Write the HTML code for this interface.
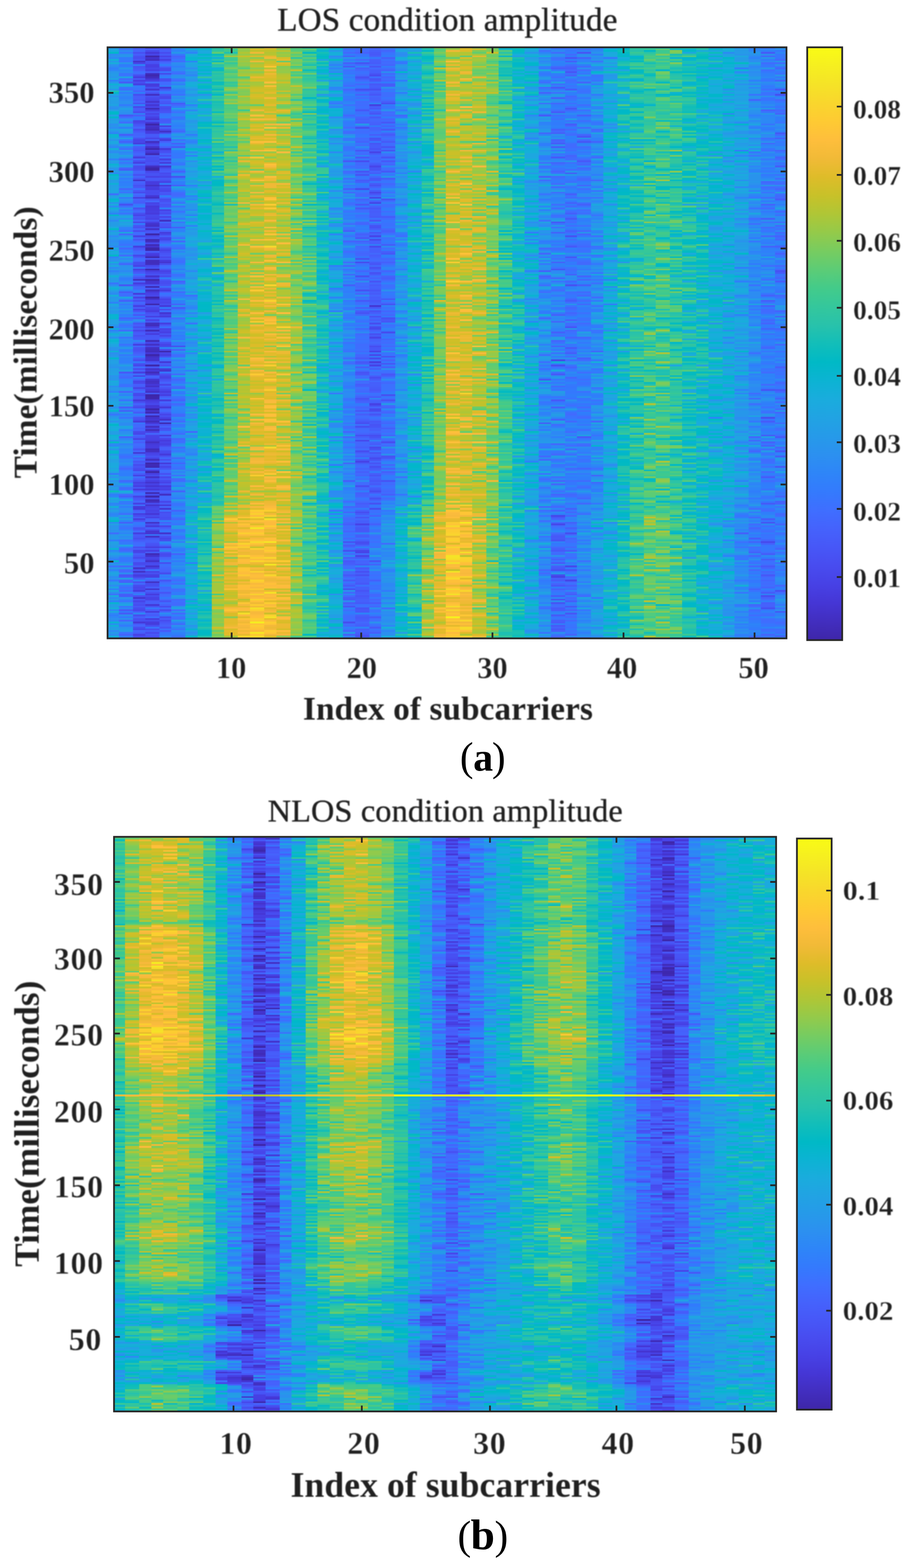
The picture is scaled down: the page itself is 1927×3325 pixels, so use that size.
<!DOCTYPE html>
<html lang="en"><head><meta charset="utf-8"><title>CSI amplitude: LOS and NLOS conditions</title>
<style>
html,body{margin:0;padding:0;background:#fff}
body{width:1927px;height:3325px;overflow:hidden}
svg{display:block}
text{font-family:"Liberation Serif",serif;fill:#202020;filter:blur(0.8px)}
.cap{fill:#000;filter:none}
</style></head><body>
<svg width="1927" height="3325" viewBox="0 0 1927 3325">
<defs>
<linearGradient id="cb" x1="0" y1="0" x2="0" y2="1"><stop offset="0.0000" stop-color="#f9fb15"/><stop offset="0.0312" stop-color="#f6ef20"/><stop offset="0.0625" stop-color="#f5e327"/><stop offset="0.0938" stop-color="#f9d62d"/><stop offset="0.1250" stop-color="#feca33"/><stop offset="0.1562" stop-color="#febe3c"/><stop offset="0.1875" stop-color="#f1ba37"/><stop offset="0.2188" stop-color="#debc29"/><stop offset="0.2500" stop-color="#c8c129"/><stop offset="0.2812" stop-color="#afc636"/><stop offset="0.3125" stop-color="#94ca4a"/><stop offset="0.3438" stop-color="#77cc60"/><stop offset="0.3750" stop-color="#5ccc76"/><stop offset="0.4062" stop-color="#43cb8a"/><stop offset="0.4375" stop-color="#34c79c"/><stop offset="0.4688" stop-color="#28c2ab"/><stop offset="0.5000" stop-color="#12beb9"/><stop offset="0.5312" stop-color="#00b9c6"/><stop offset="0.5625" stop-color="#0cb3d3"/><stop offset="0.5938" stop-color="#1aacdd"/><stop offset="0.6250" stop-color="#21a3e3"/><stop offset="0.6562" stop-color="#269ae9"/><stop offset="0.6875" stop-color="#2c90f0"/><stop offset="0.7188" stop-color="#2e85f8"/><stop offset="0.7500" stop-color="#347afd"/><stop offset="0.7812" stop-color="#3f6eff"/><stop offset="0.8125" stop-color="#4562fc"/><stop offset="0.8438" stop-color="#4757f7"/><stop offset="0.8750" stop-color="#484cef"/><stop offset="0.9062" stop-color="#4741e5"/><stop offset="0.9375" stop-color="#4536d5"/><stop offset="0.9688" stop-color="#422ebf"/><stop offset="1.0000" stop-color="#3e26a8"/></linearGradient>
<linearGradient id="a0" gradientUnits="userSpaceOnUse" x1="0" y1="99" x2="0" y2="1355"><stop offset=".0008" stop-color="#00005e"/><stop offset=".1282" stop-color="#00005e"/><stop offset=".3750" stop-color="#00005c"/><stop offset=".6218" stop-color="#00005c"/><stop offset=".7651" stop-color="#00005c"/><stop offset=".7970" stop-color="#000057"/><stop offset=".8766" stop-color="#000057"/><stop offset=".9992" stop-color="#000057"/></linearGradient>
<linearGradient id="a1" gradientUnits="userSpaceOnUse" x1="0" y1="99" x2="0" y2="1355"><stop offset=".0008" stop-color="#00004a"/><stop offset=".1282" stop-color="#00004a"/><stop offset=".3750" stop-color="#00004a"/><stop offset=".6218" stop-color="#00004a"/><stop offset=".7651" stop-color="#00004a"/><stop offset=".7970" stop-color="#000040"/><stop offset=".8766" stop-color="#000040"/><stop offset=".9992" stop-color="#000040"/></linearGradient>
<linearGradient id="a2" gradientUnits="userSpaceOnUse" x1="0" y1="99" x2="0" y2="1355"><stop offset=".0008" stop-color="#00002b"/><stop offset=".1282" stop-color="#00002b"/><stop offset=".3750" stop-color="#00002b"/><stop offset=".6218" stop-color="#00002b"/><stop offset=".7651" stop-color="#00002b"/><stop offset=".7970" stop-color="#000026"/><stop offset=".8766" stop-color="#000026"/><stop offset=".9992" stop-color="#000026"/></linearGradient>
<linearGradient id="a3" gradientUnits="userSpaceOnUse" x1="0" y1="99" x2="0" y2="1355"><stop offset=".0008" stop-color="#000017"/><stop offset=".1282" stop-color="#000017"/><stop offset=".3750" stop-color="#000014"/><stop offset=".6218" stop-color="#000014"/><stop offset=".7651" stop-color="#000014"/><stop offset=".7970" stop-color="#00001f"/><stop offset=".8766" stop-color="#00001f"/><stop offset=".9992" stop-color="#00001f"/></linearGradient>
<linearGradient id="a4" gradientUnits="userSpaceOnUse" x1="0" y1="99" x2="0" y2="1355"><stop offset=".0008" stop-color="#000029"/><stop offset=".1282" stop-color="#000029"/><stop offset=".3750" stop-color="#000026"/><stop offset=".6218" stop-color="#000024"/><stop offset=".7651" stop-color="#000024"/><stop offset=".7970" stop-color="#000033"/><stop offset=".8766" stop-color="#000033"/><stop offset=".9992" stop-color="#000033"/></linearGradient>
<linearGradient id="a5" gradientUnits="userSpaceOnUse" x1="0" y1="99" x2="0" y2="1355"><stop offset=".0008" stop-color="#000045"/><stop offset=".1282" stop-color="#000045"/><stop offset=".3750" stop-color="#000045"/><stop offset=".6218" stop-color="#000045"/><stop offset=".7651" stop-color="#000045"/><stop offset=".7970" stop-color="#000047"/><stop offset=".8766" stop-color="#000047"/><stop offset=".9992" stop-color="#000047"/></linearGradient>
<linearGradient id="a6" gradientUnits="userSpaceOnUse" x1="0" y1="99" x2="0" y2="1355"><stop offset=".0008" stop-color="#00005c"/><stop offset=".1282" stop-color="#00005c"/><stop offset=".3750" stop-color="#00005c"/><stop offset=".6218" stop-color="#00005c"/><stop offset=".7651" stop-color="#00005c"/><stop offset=".7970" stop-color="#000066"/><stop offset=".8766" stop-color="#000066"/><stop offset=".9992" stop-color="#000066"/></linearGradient>
<linearGradient id="a7" gradientUnits="userSpaceOnUse" x1="0" y1="99" x2="0" y2="1355"><stop offset=".0008" stop-color="#000070"/><stop offset=".1282" stop-color="#000070"/><stop offset=".3750" stop-color="#000070"/><stop offset=".6218" stop-color="#000070"/><stop offset=".7651" stop-color="#000070"/><stop offset=".7970" stop-color="#000080"/><stop offset=".8766" stop-color="#000080"/><stop offset=".9992" stop-color="#000080"/></linearGradient>
<linearGradient id="a8" gradientUnits="userSpaceOnUse" x1="0" y1="99" x2="0" y2="1355"><stop offset=".0008" stop-color="#000085"/><stop offset=".1282" stop-color="#000085"/><stop offset=".3750" stop-color="#000085"/><stop offset=".6218" stop-color="#000087"/><stop offset=".7651" stop-color="#000087"/><stop offset=".7970" stop-color="#0000ad"/><stop offset=".8766" stop-color="#0000ad"/><stop offset=".9992" stop-color="#0000ad"/></linearGradient>
<linearGradient id="a9" gradientUnits="userSpaceOnUse" x1="0" y1="99" x2="0" y2="1355"><stop offset=".0008" stop-color="#00009c"/><stop offset=".1282" stop-color="#00009c"/><stop offset=".3750" stop-color="#0000a1"/><stop offset=".6218" stop-color="#0000a3"/><stop offset=".7651" stop-color="#0000a3"/><stop offset=".7970" stop-color="#0000c7"/><stop offset=".8766" stop-color="#0000c7"/><stop offset=".9992" stop-color="#0000c7"/></linearGradient>
<linearGradient id="a10" gradientUnits="userSpaceOnUse" x1="0" y1="99" x2="0" y2="1355"><stop offset=".0008" stop-color="#0000b0"/><stop offset=".1282" stop-color="#0000b0"/><stop offset=".3750" stop-color="#0000b8"/><stop offset=".6218" stop-color="#0000ba"/><stop offset=".7651" stop-color="#0000ba"/><stop offset=".7970" stop-color="#0000d4"/><stop offset=".8766" stop-color="#0000d4"/><stop offset=".9992" stop-color="#0000d4"/></linearGradient>
<linearGradient id="a11" gradientUnits="userSpaceOnUse" x1="0" y1="99" x2="0" y2="1355"><stop offset=".0008" stop-color="#0000bd"/><stop offset=".1282" stop-color="#0000bd"/><stop offset=".3750" stop-color="#0000c4"/><stop offset=".6218" stop-color="#0000c7"/><stop offset=".7651" stop-color="#0000c7"/><stop offset=".7970" stop-color="#0000d9"/><stop offset=".8766" stop-color="#0000d9"/><stop offset=".9992" stop-color="#0000d9"/></linearGradient>
<linearGradient id="a12" gradientUnits="userSpaceOnUse" x1="0" y1="99" x2="0" y2="1355"><stop offset=".0008" stop-color="#0000c4"/><stop offset=".1282" stop-color="#0000c4"/><stop offset=".3750" stop-color="#0000c9"/><stop offset=".6218" stop-color="#0000cc"/><stop offset=".7651" stop-color="#0000cc"/><stop offset=".7970" stop-color="#0000d6"/><stop offset=".8766" stop-color="#0000d6"/><stop offset=".9992" stop-color="#0000d6"/></linearGradient>
<linearGradient id="a13" gradientUnits="userSpaceOnUse" x1="0" y1="99" x2="0" y2="1355"><stop offset=".0008" stop-color="#0000b8"/><stop offset=".1282" stop-color="#0000b8"/><stop offset=".3750" stop-color="#0000bf"/><stop offset=".6218" stop-color="#0000c2"/><stop offset=".7651" stop-color="#0000c2"/><stop offset=".7970" stop-color="#0000c9"/><stop offset=".8766" stop-color="#0000c9"/><stop offset=".9992" stop-color="#0000c9"/></linearGradient>
<linearGradient id="a14" gradientUnits="userSpaceOnUse" x1="0" y1="99" x2="0" y2="1355"><stop offset=".0008" stop-color="#0000a6"/><stop offset=".1282" stop-color="#0000a6"/><stop offset=".3750" stop-color="#0000ad"/><stop offset=".6218" stop-color="#0000ad"/><stop offset=".7651" stop-color="#0000ad"/><stop offset=".7970" stop-color="#0000b0"/><stop offset=".8766" stop-color="#0000b0"/><stop offset=".9992" stop-color="#0000b0"/></linearGradient>
<linearGradient id="a15" gradientUnits="userSpaceOnUse" x1="0" y1="99" x2="0" y2="1355"><stop offset=".0008" stop-color="#000091"/><stop offset=".1282" stop-color="#000091"/><stop offset=".3750" stop-color="#000099"/><stop offset=".6218" stop-color="#000099"/><stop offset=".7651" stop-color="#000099"/><stop offset=".7970" stop-color="#000096"/><stop offset=".8766" stop-color="#000096"/><stop offset=".9992" stop-color="#000096"/></linearGradient>
<linearGradient id="a16" gradientUnits="userSpaceOnUse" x1="0" y1="99" x2="0" y2="1355"><stop offset=".0008" stop-color="#00007a"/><stop offset=".1282" stop-color="#00007a"/><stop offset=".3750" stop-color="#000080"/><stop offset=".6218" stop-color="#000080"/><stop offset=".7651" stop-color="#000080"/><stop offset=".7970" stop-color="#000080"/><stop offset=".8766" stop-color="#000080"/><stop offset=".9992" stop-color="#000080"/></linearGradient>
<linearGradient id="a17" gradientUnits="userSpaceOnUse" x1="0" y1="99" x2="0" y2="1355"><stop offset=".0008" stop-color="#000061"/><stop offset=".1282" stop-color="#000061"/><stop offset=".3750" stop-color="#000061"/><stop offset=".6218" stop-color="#000061"/><stop offset=".7651" stop-color="#000061"/><stop offset=".7970" stop-color="#000066"/><stop offset=".8766" stop-color="#000066"/><stop offset=".9992" stop-color="#000066"/></linearGradient>
<linearGradient id="a18" gradientUnits="userSpaceOnUse" x1="0" y1="99" x2="0" y2="1355"><stop offset=".0008" stop-color="#000042"/><stop offset=".1282" stop-color="#000042"/><stop offset=".3750" stop-color="#000045"/><stop offset=".6218" stop-color="#000045"/><stop offset=".7651" stop-color="#000045"/><stop offset=".7970" stop-color="#000038"/><stop offset=".8766" stop-color="#000038"/><stop offset=".9992" stop-color="#000038"/></linearGradient>
<linearGradient id="a19" gradientUnits="userSpaceOnUse" x1="0" y1="99" x2="0" y2="1355"><stop offset=".0008" stop-color="#000038"/><stop offset=".1282" stop-color="#000038"/><stop offset=".3750" stop-color="#000038"/><stop offset=".6218" stop-color="#000036"/><stop offset=".7651" stop-color="#000036"/><stop offset=".7970" stop-color="#00002e"/><stop offset=".8766" stop-color="#00002e"/><stop offset=".9992" stop-color="#00002e"/></linearGradient>
<linearGradient id="a20" gradientUnits="userSpaceOnUse" x1="0" y1="99" x2="0" y2="1355"><stop offset=".0008" stop-color="#00002e"/><stop offset=".1282" stop-color="#00002e"/><stop offset=".3750" stop-color="#00002e"/><stop offset=".6218" stop-color="#00002e"/><stop offset=".7651" stop-color="#00002e"/><stop offset=".7970" stop-color="#00003d"/><stop offset=".8766" stop-color="#00003d"/><stop offset=".9992" stop-color="#00003d"/></linearGradient>
<linearGradient id="a21" gradientUnits="userSpaceOnUse" x1="0" y1="99" x2="0" y2="1355"><stop offset=".0008" stop-color="#000038"/><stop offset=".1282" stop-color="#000038"/><stop offset=".3750" stop-color="#00003b"/><stop offset=".6218" stop-color="#00003b"/><stop offset=".7651" stop-color="#00003b"/><stop offset=".7970" stop-color="#000052"/><stop offset=".8766" stop-color="#000052"/><stop offset=".9992" stop-color="#000052"/></linearGradient>
<linearGradient id="a22" gradientUnits="userSpaceOnUse" x1="0" y1="99" x2="0" y2="1355"><stop offset=".0008" stop-color="#000054"/><stop offset=".1282" stop-color="#000054"/><stop offset=".3750" stop-color="#000054"/><stop offset=".6218" stop-color="#000057"/><stop offset=".7651" stop-color="#000057"/><stop offset=".7970" stop-color="#000070"/><stop offset=".8766" stop-color="#000070"/><stop offset=".9992" stop-color="#000070"/></linearGradient>
<linearGradient id="a23" gradientUnits="userSpaceOnUse" x1="0" y1="99" x2="0" y2="1355"><stop offset=".0008" stop-color="#00006b"/><stop offset=".1282" stop-color="#00006b"/><stop offset=".3750" stop-color="#00006b"/><stop offset=".6218" stop-color="#00006e"/><stop offset=".7651" stop-color="#00006e"/><stop offset=".7970" stop-color="#00008a"/><stop offset=".8766" stop-color="#00008a"/><stop offset=".9992" stop-color="#00008a"/></linearGradient>
<linearGradient id="a24" gradientUnits="userSpaceOnUse" x1="0" y1="99" x2="0" y2="1355"><stop offset=".0008" stop-color="#000080"/><stop offset=".1282" stop-color="#000080"/><stop offset=".3750" stop-color="#000085"/><stop offset=".6218" stop-color="#000087"/><stop offset=".7651" stop-color="#000087"/><stop offset=".7970" stop-color="#0000ad"/><stop offset=".8766" stop-color="#0000ad"/><stop offset=".9992" stop-color="#0000ad"/></linearGradient>
<linearGradient id="a25" gradientUnits="userSpaceOnUse" x1="0" y1="99" x2="0" y2="1355"><stop offset=".0008" stop-color="#0000a1"/><stop offset=".1282" stop-color="#0000a1"/><stop offset=".3750" stop-color="#0000a8"/><stop offset=".6218" stop-color="#0000ab"/><stop offset=".7651" stop-color="#0000ab"/><stop offset=".7970" stop-color="#0000c7"/><stop offset=".8766" stop-color="#0000c7"/><stop offset=".9992" stop-color="#0000c7"/></linearGradient>
<linearGradient id="a26" gradientUnits="userSpaceOnUse" x1="0" y1="99" x2="0" y2="1355"><stop offset=".0008" stop-color="#0000bf"/><stop offset=".1282" stop-color="#0000bf"/><stop offset=".3750" stop-color="#0000c4"/><stop offset=".6218" stop-color="#0000c7"/><stop offset=".7651" stop-color="#0000c7"/><stop offset=".7970" stop-color="#0000db"/><stop offset=".8766" stop-color="#0000db"/><stop offset=".9992" stop-color="#0000db"/></linearGradient>
<linearGradient id="a27" gradientUnits="userSpaceOnUse" x1="0" y1="99" x2="0" y2="1355"><stop offset=".0008" stop-color="#0000bd"/><stop offset=".1282" stop-color="#0000bd"/><stop offset=".3750" stop-color="#0000c2"/><stop offset=".6218" stop-color="#0000c4"/><stop offset=".7651" stop-color="#0000c4"/><stop offset=".7970" stop-color="#0000d4"/><stop offset=".8766" stop-color="#0000d4"/><stop offset=".9992" stop-color="#0000d4"/></linearGradient>
<linearGradient id="a28" gradientUnits="userSpaceOnUse" x1="0" y1="99" x2="0" y2="1355"><stop offset=".0008" stop-color="#0000b5"/><stop offset=".1282" stop-color="#0000b5"/><stop offset=".3750" stop-color="#0000ba"/><stop offset=".6218" stop-color="#0000ba"/><stop offset=".7651" stop-color="#0000ba"/><stop offset=".7970" stop-color="#0000bd"/><stop offset=".8766" stop-color="#0000bd"/><stop offset=".9992" stop-color="#0000bd"/></linearGradient>
<linearGradient id="a29" gradientUnits="userSpaceOnUse" x1="0" y1="99" x2="0" y2="1355"><stop offset=".0008" stop-color="#0000a6"/><stop offset=".1282" stop-color="#0000a6"/><stop offset=".3750" stop-color="#0000ab"/><stop offset=".6218" stop-color="#0000a8"/><stop offset=".7651" stop-color="#0000a8"/><stop offset=".7970" stop-color="#0000a3"/><stop offset=".8766" stop-color="#0000a3"/><stop offset=".9992" stop-color="#0000a3"/></linearGradient>
<linearGradient id="a30" gradientUnits="userSpaceOnUse" x1="0" y1="99" x2="0" y2="1355"><stop offset=".0008" stop-color="#00008c"/><stop offset=".1282" stop-color="#00008c"/><stop offset=".3750" stop-color="#000091"/><stop offset=".6218" stop-color="#000091"/><stop offset=".7651" stop-color="#000091"/><stop offset=".7970" stop-color="#00008c"/><stop offset=".8766" stop-color="#00008c"/><stop offset=".9992" stop-color="#00008c"/></linearGradient>
<linearGradient id="a31" gradientUnits="userSpaceOnUse" x1="0" y1="99" x2="0" y2="1355"><stop offset=".0008" stop-color="#00007a"/><stop offset=".1282" stop-color="#00007a"/><stop offset=".3750" stop-color="#00007a"/><stop offset=".6218" stop-color="#00007a"/><stop offset=".7651" stop-color="#00007a"/><stop offset=".7970" stop-color="#000078"/><stop offset=".8766" stop-color="#000078"/><stop offset=".9992" stop-color="#000078"/></linearGradient>
<linearGradient id="a32" gradientUnits="userSpaceOnUse" x1="0" y1="99" x2="0" y2="1355"><stop offset=".0008" stop-color="#000066"/><stop offset=".1282" stop-color="#000066"/><stop offset=".3750" stop-color="#000066"/><stop offset=".6218" stop-color="#000066"/><stop offset=".7651" stop-color="#000066"/><stop offset=".7970" stop-color="#000066"/><stop offset=".8766" stop-color="#000066"/><stop offset=".9992" stop-color="#000066"/></linearGradient>
<linearGradient id="a33" gradientUnits="userSpaceOnUse" x1="0" y1="99" x2="0" y2="1355"><stop offset=".0008" stop-color="#00004f"/><stop offset=".1282" stop-color="#00004f"/><stop offset=".3750" stop-color="#00004f"/><stop offset=".6218" stop-color="#00004f"/><stop offset=".7651" stop-color="#00004f"/><stop offset=".7970" stop-color="#00004c"/><stop offset=".8766" stop-color="#00004c"/><stop offset=".9992" stop-color="#00004c"/></linearGradient>
<linearGradient id="a34" gradientUnits="userSpaceOnUse" x1="0" y1="99" x2="0" y2="1355"><stop offset=".0008" stop-color="#000042"/><stop offset=".1282" stop-color="#000042"/><stop offset=".3750" stop-color="#000045"/><stop offset=".6218" stop-color="#000045"/><stop offset=".7651" stop-color="#000045"/><stop offset=".7970" stop-color="#000036"/><stop offset=".8766" stop-color="#000036"/><stop offset=".9992" stop-color="#000036"/></linearGradient>
<linearGradient id="a35" gradientUnits="userSpaceOnUse" x1="0" y1="99" x2="0" y2="1355"><stop offset=".0008" stop-color="#00003d"/><stop offset=".1282" stop-color="#00003d"/><stop offset=".3750" stop-color="#000040"/><stop offset=".6218" stop-color="#000040"/><stop offset=".7651" stop-color="#000040"/><stop offset=".7970" stop-color="#00003b"/><stop offset=".8766" stop-color="#00003b"/><stop offset=".9992" stop-color="#00003b"/></linearGradient>
<linearGradient id="a36" gradientUnits="userSpaceOnUse" x1="0" y1="99" x2="0" y2="1355"><stop offset=".0008" stop-color="#000042"/><stop offset=".1282" stop-color="#000042"/><stop offset=".3750" stop-color="#000045"/><stop offset=".6218" stop-color="#000045"/><stop offset=".7651" stop-color="#000045"/><stop offset=".7970" stop-color="#00004c"/><stop offset=".8766" stop-color="#00004c"/><stop offset=".9992" stop-color="#00004c"/></linearGradient>
<linearGradient id="a37" gradientUnits="userSpaceOnUse" x1="0" y1="99" x2="0" y2="1355"><stop offset=".0008" stop-color="#00004f"/><stop offset=".1282" stop-color="#00004f"/><stop offset=".3750" stop-color="#00004f"/><stop offset=".6218" stop-color="#00004f"/><stop offset=".7651" stop-color="#00004f"/><stop offset=".7970" stop-color="#00005c"/><stop offset=".8766" stop-color="#00005c"/><stop offset=".9992" stop-color="#00005c"/></linearGradient>
<linearGradient id="a38" gradientUnits="userSpaceOnUse" x1="0" y1="99" x2="0" y2="1355"><stop offset=".0008" stop-color="#000066"/><stop offset=".1282" stop-color="#000066"/><stop offset=".3750" stop-color="#000066"/><stop offset=".6218" stop-color="#000066"/><stop offset=".7651" stop-color="#000066"/><stop offset=".7970" stop-color="#00006e"/><stop offset=".8766" stop-color="#00006e"/><stop offset=".9992" stop-color="#00006e"/></linearGradient>
<linearGradient id="a39" gradientUnits="userSpaceOnUse" x1="0" y1="99" x2="0" y2="1355"><stop offset=".0008" stop-color="#000078"/><stop offset=".1282" stop-color="#000078"/><stop offset=".3750" stop-color="#00007a"/><stop offset=".6218" stop-color="#00007a"/><stop offset=".7651" stop-color="#00007a"/><stop offset=".7970" stop-color="#000080"/><stop offset=".8766" stop-color="#000080"/><stop offset=".9992" stop-color="#000080"/></linearGradient>
<linearGradient id="a40" gradientUnits="userSpaceOnUse" x1="0" y1="99" x2="0" y2="1355"><stop offset=".0008" stop-color="#000085"/><stop offset=".1282" stop-color="#000085"/><stop offset=".3750" stop-color="#000087"/><stop offset=".6218" stop-color="#00008c"/><stop offset=".7651" stop-color="#00008c"/><stop offset=".7970" stop-color="#000094"/><stop offset=".8766" stop-color="#000094"/><stop offset=".9992" stop-color="#000094"/></linearGradient>
<linearGradient id="a41" gradientUnits="userSpaceOnUse" x1="0" y1="99" x2="0" y2="1355"><stop offset=".0008" stop-color="#00008f"/><stop offset=".1282" stop-color="#00008f"/><stop offset=".3750" stop-color="#000091"/><stop offset=".6218" stop-color="#000096"/><stop offset=".7651" stop-color="#000096"/><stop offset=".7970" stop-color="#0000a1"/><stop offset=".8766" stop-color="#0000a1"/><stop offset=".9992" stop-color="#0000a1"/></linearGradient>
<linearGradient id="a42" gradientUnits="userSpaceOnUse" x1="0" y1="99" x2="0" y2="1355"><stop offset=".0008" stop-color="#000091"/><stop offset=".1282" stop-color="#000091"/><stop offset=".3750" stop-color="#000094"/><stop offset=".6218" stop-color="#000096"/><stop offset=".7651" stop-color="#000096"/><stop offset=".7970" stop-color="#00009e"/><stop offset=".8766" stop-color="#00009e"/><stop offset=".9992" stop-color="#00009e"/></linearGradient>
<linearGradient id="a43" gradientUnits="userSpaceOnUse" x1="0" y1="99" x2="0" y2="1355"><stop offset=".0008" stop-color="#00008c"/><stop offset=".1282" stop-color="#00008c"/><stop offset=".3750" stop-color="#00008c"/><stop offset=".6218" stop-color="#00008f"/><stop offset=".7651" stop-color="#00008f"/><stop offset=".7970" stop-color="#000094"/><stop offset=".8766" stop-color="#000094"/><stop offset=".9992" stop-color="#000094"/></linearGradient>
<linearGradient id="a44" gradientUnits="userSpaceOnUse" x1="0" y1="99" x2="0" y2="1355"><stop offset=".0008" stop-color="#000080"/><stop offset=".1282" stop-color="#000080"/><stop offset=".3750" stop-color="#000080"/><stop offset=".6218" stop-color="#000080"/><stop offset=".7651" stop-color="#000080"/><stop offset=".7970" stop-color="#000085"/><stop offset=".8766" stop-color="#000085"/><stop offset=".9992" stop-color="#000085"/></linearGradient>
<linearGradient id="a45" gradientUnits="userSpaceOnUse" x1="0" y1="99" x2="0" y2="1355"><stop offset=".0008" stop-color="#000078"/><stop offset=".1282" stop-color="#000078"/><stop offset=".3750" stop-color="#000078"/><stop offset=".6218" stop-color="#000078"/><stop offset=".7651" stop-color="#000078"/><stop offset=".7970" stop-color="#000078"/><stop offset=".8766" stop-color="#000078"/><stop offset=".9992" stop-color="#000078"/></linearGradient>
<linearGradient id="a46" gradientUnits="userSpaceOnUse" x1="0" y1="99" x2="0" y2="1355"><stop offset=".0008" stop-color="#00006e"/><stop offset=".1282" stop-color="#00006e"/><stop offset=".3750" stop-color="#00006e"/><stop offset=".6218" stop-color="#00006e"/><stop offset=".7651" stop-color="#00006e"/><stop offset=".7970" stop-color="#00006b"/><stop offset=".8766" stop-color="#00006b"/><stop offset=".9992" stop-color="#00006b"/></linearGradient>
<linearGradient id="a47" gradientUnits="userSpaceOnUse" x1="0" y1="99" x2="0" y2="1355"><stop offset=".0008" stop-color="#000066"/><stop offset=".1282" stop-color="#000066"/><stop offset=".3750" stop-color="#000066"/><stop offset=".6218" stop-color="#000066"/><stop offset=".7651" stop-color="#000066"/><stop offset=".7970" stop-color="#00005e"/><stop offset=".8766" stop-color="#00005e"/><stop offset=".9992" stop-color="#00005e"/></linearGradient>
<linearGradient id="a48" gradientUnits="userSpaceOnUse" x1="0" y1="99" x2="0" y2="1355"><stop offset=".0008" stop-color="#00005e"/><stop offset=".1282" stop-color="#00005e"/><stop offset=".3750" stop-color="#00005e"/><stop offset=".6218" stop-color="#000059"/><stop offset=".7651" stop-color="#000059"/><stop offset=".7970" stop-color="#00004c"/><stop offset=".8766" stop-color="#00004c"/><stop offset=".9992" stop-color="#00004c"/></linearGradient>
<linearGradient id="a49" gradientUnits="userSpaceOnUse" x1="0" y1="99" x2="0" y2="1355"><stop offset=".0008" stop-color="#00004f"/><stop offset=".1282" stop-color="#00004f"/><stop offset=".3750" stop-color="#00004f"/><stop offset=".6218" stop-color="#00004c"/><stop offset=".7651" stop-color="#00004c"/><stop offset=".7970" stop-color="#000040"/><stop offset=".8766" stop-color="#000040"/><stop offset=".9992" stop-color="#000040"/></linearGradient>
<linearGradient id="a50" gradientUnits="userSpaceOnUse" x1="0" y1="99" x2="0" y2="1355"><stop offset=".0008" stop-color="#000045"/><stop offset=".1282" stop-color="#000045"/><stop offset=".3750" stop-color="#000045"/><stop offset=".6218" stop-color="#000042"/><stop offset=".7651" stop-color="#000042"/><stop offset=".7970" stop-color="#000038"/><stop offset=".8766" stop-color="#000038"/><stop offset=".9992" stop-color="#000038"/></linearGradient>
<linearGradient id="a51" gradientUnits="userSpaceOnUse" x1="0" y1="99" x2="0" y2="1355"><stop offset=".0008" stop-color="#000042"/><stop offset=".1282" stop-color="#000042"/><stop offset=".3750" stop-color="#000042"/><stop offset=".6218" stop-color="#000042"/><stop offset=".7651" stop-color="#000042"/><stop offset=".7970" stop-color="#000042"/><stop offset=".8766" stop-color="#000042"/><stop offset=".9992" stop-color="#000042"/></linearGradient>
<filter id="af" filterUnits="userSpaceOnUse" x="227" y="99" width="1442" height="1256" color-interpolation-filters="sRGB"><feTurbulence type="fractalNoise" baseFrequency="0.11 0.37" numOctaves="2" seed="1" x="227" y="99" width="487" height="431"/><feTile x="227" y="99" width="1442" height="1256"/><feColorMatrix type="matrix" values="1 0 0 0 0 1 0 0 0 0 1 0 0 0 0 0 0 0 0 1" result="n"/><feColorMatrix in="SourceGraphic" type="matrix" values="0 0 1 0 0 0 0 1 0 0 0 0 1 0 0 0 0 0 0 1" result="b"/><feComposite in="b" in2="n" operator="arithmetic" k1="0" k2="1" k3="0.44" k4="-0.220" result="v"/><feDisplacementMap in="v" in2="SourceGraphic" scale="63.75" xChannelSelector="R" yChannelSelector="G"/><feComponentTransfer><feFuncR type="table" tableValues="0.242 0.248 0.254 0.259 0.265 0.269 0.273 0.276 0.278 0.280 0.281 0.281 0.281 0.280 0.278 0.275 0.271 0.265 0.256 0.242 0.225 0.207 0.190 0.183 0.179 0.177 0.175 0.169 0.157 0.149 0.145 0.138 0.129 0.118 0.108 0.096 0.079 0.053 0.023 0.005 0.002 0.016 0.050 0.090 0.125 0.153 0.174 0.191 0.206 0.224 0.249 0.281 0.318 0.355 0.392 0.432 0.475 0.519 0.561 0.602 0.643 0.683 0.722 0.759 0.794 0.828 0.860 0.890 0.918 0.944 0.969 0.990 0.997 0.997 0.996 0.992 0.986 0.978 0.969 0.963 0.960 0.960 0.962 0.966 0.971 0.977"/><feFuncG type="table" tableValues="0.150 0.161 0.173 0.185 0.197 0.209 0.223 0.238 0.254 0.271 0.287 0.304 0.320 0.337 0.353 0.369 0.386 0.403 0.420 0.438 0.456 0.474 0.492 0.508 0.524 0.540 0.555 0.571 0.585 0.600 0.614 0.627 0.641 0.654 0.667 0.679 0.690 0.701 0.710 0.719 0.728 0.735 0.742 0.749 0.755 0.761 0.768 0.774 0.781 0.787 0.792 0.796 0.799 0.802 0.803 0.803 0.801 0.798 0.794 0.790 0.784 0.777 0.770 0.763 0.755 0.748 0.741 0.735 0.731 0.729 0.729 0.737 0.751 0.768 0.786 0.803 0.822 0.840 0.859 0.878 0.896 0.914 0.932 0.949 0.967 0.984"/><feFuncB type="table" tableValues="0.660 0.696 0.729 0.761 0.794 0.825 0.853 0.877 0.897 0.915 0.930 0.944 0.956 0.967 0.976 0.984 0.990 0.994 0.997 0.999 0.999 0.993 0.987 0.979 0.971 0.960 0.947 0.936 0.925 0.915 0.905 0.897 0.891 0.883 0.873 0.861 0.846 0.830 0.812 0.794 0.775 0.756 0.736 0.716 0.695 0.674 0.653 0.630 0.607 0.581 0.555 0.527 0.497 0.467 0.434 0.401 0.369 0.337 0.305 0.273 0.242 0.215 0.192 0.172 0.157 0.154 0.159 0.170 0.189 0.215 0.237 0.243 0.231 0.218 0.205 0.194 0.185 0.176 0.167 0.158 0.151 0.142 0.130 0.117 0.100 0.081"/></feComponentTransfer><feComponentTransfer result="s"><feFuncA type="identity"/></feComponentTransfer><feGaussianBlur stdDeviation="0.8"/><feComposite in2="s" operator="arithmetic" k1="0" k2="0.4" k3="0.60" k4="0"/></filter>
<linearGradient id="b0" gradientUnits="userSpaceOnUse" x1="0" y1="1773" x2="0" y2="2994"><stop offset=".0005" stop-color="#00008f"/><stop offset=".0190" stop-color="#000095"/><stop offset=".0374" stop-color="#00008e"/><stop offset=".0795" stop-color="#00008f"/><stop offset=".1401" stop-color="#00008e"/><stop offset=".1506" stop-color="#000083"/><stop offset=".1585" stop-color="#000098"/><stop offset=".2112" stop-color="#000099"/><stop offset=".2901" stop-color="#000098"/><stop offset=".3217" stop-color="#000099"/><stop offset=".3428" stop-color="#0000a3"/><stop offset=".3691" stop-color="#00009e"/><stop offset=".3902" stop-color="#000097"/><stop offset=".4086" stop-color="#000091"/><stop offset=".4165" stop-color="#000089"/><stop offset=".4244" stop-color="#00008c"/><stop offset=".4402" stop-color="#00008c"/><stop offset=".4613" stop-color="#000089"/><stop offset=".4876" stop-color="#000086"/><stop offset=".5139" stop-color="#000088"/><stop offset=".5429" stop-color="#00008f"/><stop offset=".5666" stop-color="#00008f"/><stop offset=".5850" stop-color="#000089"/><stop offset=".6061" stop-color="#000085"/><stop offset=".6245" stop-color="#000088"/><stop offset=".6456" stop-color="#000083"/><stop offset=".6666" stop-color="#000083"/><stop offset=".6824" stop-color="#00008d"/><stop offset=".7009" stop-color="#00008d"/><stop offset=".7167" stop-color="#000083"/><stop offset=".7351" stop-color="#000080"/><stop offset=".7483" stop-color="#000089"/><stop offset=".7667" stop-color="#000087"/><stop offset=".7772" stop-color="#00007e"/><stop offset=".7878" stop-color="#000075"/><stop offset=".7956" stop-color="#000073"/><stop offset=".7983" stop-color="#000061"/><stop offset=".8088" stop-color="#000061"/><stop offset=".8114" stop-color="#00006d"/><stop offset=".8272" stop-color="#00006d"/><stop offset=".8325" stop-color="#000063"/><stop offset=".8483" stop-color="#000063"/><stop offset=".8536" stop-color="#000073"/><stop offset=".8746" stop-color="#000073"/><stop offset=".8799" stop-color="#000061"/><stop offset=".9062" stop-color="#000061"/><stop offset=".9115" stop-color="#00006d"/><stop offset=".9247" stop-color="#00006d"/><stop offset=".9299" stop-color="#000063"/><stop offset=".9484" stop-color="#000063"/><stop offset=".9536" stop-color="#000078"/><stop offset=".9694" stop-color="#000082"/><stop offset=".9799" stop-color="#000078"/><stop offset="1.0000" stop-color="#000076"/></linearGradient>
<linearGradient id="b1" gradientUnits="userSpaceOnUse" x1="0" y1="1773" x2="0" y2="2994"><stop offset=".0005" stop-color="#0000aa"/><stop offset=".0190" stop-color="#0000b2"/><stop offset=".0374" stop-color="#0000a8"/><stop offset=".0795" stop-color="#0000aa"/><stop offset=".1401" stop-color="#0000a8"/><stop offset=".1506" stop-color="#000097"/><stop offset=".1585" stop-color="#0000b7"/><stop offset=".2112" stop-color="#0000b8"/><stop offset=".2901" stop-color="#0000b7"/><stop offset=".3217" stop-color="#0000ba"/><stop offset=".3428" stop-color="#0000c5"/><stop offset=".3691" stop-color="#0000bf"/><stop offset=".3902" stop-color="#0000b5"/><stop offset=".4086" stop-color="#0000ad"/><stop offset=".4165" stop-color="#0000a1"/><stop offset=".4244" stop-color="#0000a5"/><stop offset=".4402" stop-color="#0000a5"/><stop offset=".4613" stop-color="#0000a1"/><stop offset=".4876" stop-color="#00009c"/><stop offset=".5139" stop-color="#00009f"/><stop offset=".5429" stop-color="#0000aa"/><stop offset=".5666" stop-color="#0000aa"/><stop offset=".5850" stop-color="#0000a1"/><stop offset=".6061" stop-color="#00009a"/><stop offset=".6245" stop-color="#00009f"/><stop offset=".6456" stop-color="#000097"/><stop offset=".6666" stop-color="#000097"/><stop offset=".6824" stop-color="#0000a7"/><stop offset=".7009" stop-color="#0000a7"/><stop offset=".7167" stop-color="#000097"/><stop offset=".7351" stop-color="#000094"/><stop offset=".7483" stop-color="#0000a1"/><stop offset=".7667" stop-color="#00009e"/><stop offset=".7772" stop-color="#000091"/><stop offset=".7878" stop-color="#000085"/><stop offset=".7956" stop-color="#000085"/><stop offset=".7983" stop-color="#000066"/><stop offset=".8088" stop-color="#000066"/><stop offset=".8114" stop-color="#00007e"/><stop offset=".8272" stop-color="#00007e"/><stop offset=".8325" stop-color="#000068"/><stop offset=".8483" stop-color="#000068"/><stop offset=".8536" stop-color="#000085"/><stop offset=".8746" stop-color="#000085"/><stop offset=".8799" stop-color="#000066"/><stop offset=".9062" stop-color="#000066"/><stop offset=".9115" stop-color="#00007e"/><stop offset=".9247" stop-color="#00007e"/><stop offset=".9299" stop-color="#000068"/><stop offset=".9484" stop-color="#000068"/><stop offset=".9536" stop-color="#00008b"/><stop offset=".9694" stop-color="#000096"/><stop offset=".9799" stop-color="#00008b"/><stop offset="1.0000" stop-color="#000089"/></linearGradient>
<linearGradient id="b2" gradientUnits="userSpaceOnUse" x1="0" y1="1773" x2="0" y2="2994"><stop offset=".0005" stop-color="#0000bc"/><stop offset=".0190" stop-color="#0000c7"/><stop offset=".0374" stop-color="#0000ba"/><stop offset=".0795" stop-color="#0000bc"/><stop offset=".1401" stop-color="#0000ba"/><stop offset=".1506" stop-color="#0000a5"/><stop offset=".1585" stop-color="#0000cc"/><stop offset=".2112" stop-color="#0000ce"/><stop offset=".2901" stop-color="#0000cc"/><stop offset=".3217" stop-color="#0000d0"/><stop offset=".3428" stop-color="#0000dd"/><stop offset=".3691" stop-color="#0000d6"/><stop offset=".3902" stop-color="#0000ca"/><stop offset=".4086" stop-color="#0000bf"/><stop offset=".4165" stop-color="#0000b1"/><stop offset=".4244" stop-color="#0000b6"/><stop offset=".4402" stop-color="#0000b6"/><stop offset=".4613" stop-color="#0000b1"/><stop offset=".4876" stop-color="#0000ab"/><stop offset=".5139" stop-color="#0000af"/><stop offset=".5429" stop-color="#0000bc"/><stop offset=".5666" stop-color="#0000bc"/><stop offset=".5850" stop-color="#0000b1"/><stop offset=".6061" stop-color="#0000a9"/><stop offset=".6245" stop-color="#0000af"/><stop offset=".6456" stop-color="#0000a5"/><stop offset=".6666" stop-color="#0000a5"/><stop offset=".6824" stop-color="#0000b8"/><stop offset=".7009" stop-color="#0000b8"/><stop offset=".7167" stop-color="#0000a5"/><stop offset=".7351" stop-color="#0000a1"/><stop offset=".7483" stop-color="#0000b1"/><stop offset=".7667" stop-color="#0000ad"/><stop offset=".7772" stop-color="#00009d"/><stop offset=".7878" stop-color="#00008f"/><stop offset=".7956" stop-color="#00008f"/><stop offset=".7983" stop-color="#00006b"/><stop offset=".8088" stop-color="#00006b"/><stop offset=".8114" stop-color="#000088"/><stop offset=".8272" stop-color="#000088"/><stop offset=".8325" stop-color="#00006d"/><stop offset=".8483" stop-color="#00006d"/><stop offset=".8536" stop-color="#00008f"/><stop offset=".8746" stop-color="#00008f"/><stop offset=".8799" stop-color="#00006b"/><stop offset=".9062" stop-color="#00006b"/><stop offset=".9115" stop-color="#000088"/><stop offset=".9247" stop-color="#000088"/><stop offset=".9299" stop-color="#00006d"/><stop offset=".9484" stop-color="#00006d"/><stop offset=".9536" stop-color="#000096"/><stop offset=".9694" stop-color="#0000a1"/><stop offset=".9799" stop-color="#000096"/><stop offset="1.0000" stop-color="#000093"/></linearGradient>
<linearGradient id="b3" gradientUnits="userSpaceOnUse" x1="0" y1="1773" x2="0" y2="2994"><stop offset=".0005" stop-color="#0000c2"/><stop offset=".0190" stop-color="#0000ce"/><stop offset=".0374" stop-color="#0000c0"/><stop offset=".0795" stop-color="#0000c2"/><stop offset=".1401" stop-color="#0000c0"/><stop offset=".1506" stop-color="#0000aa"/><stop offset=".1585" stop-color="#0000d3"/><stop offset=".2112" stop-color="#0000d5"/><stop offset=".2901" stop-color="#0000d3"/><stop offset=".3217" stop-color="#0000d7"/><stop offset=".3428" stop-color="#0000e5"/><stop offset=".3691" stop-color="#0000de"/><stop offset=".3902" stop-color="#0000d1"/><stop offset=".4086" stop-color="#0000c6"/><stop offset=".4165" stop-color="#0000b6"/><stop offset=".4244" stop-color="#0000bc"/><stop offset=".4402" stop-color="#0000bc"/><stop offset=".4613" stop-color="#0000b6"/><stop offset=".4876" stop-color="#0000b0"/><stop offset=".5139" stop-color="#0000b4"/><stop offset=".5429" stop-color="#0000c2"/><stop offset=".5666" stop-color="#0000c2"/><stop offset=".5850" stop-color="#0000b6"/><stop offset=".6061" stop-color="#0000ae"/><stop offset=".6245" stop-color="#0000b4"/><stop offset=".6456" stop-color="#0000aa"/><stop offset=".6666" stop-color="#0000aa"/><stop offset=".6824" stop-color="#0000be"/><stop offset=".7009" stop-color="#0000be"/><stop offset=".7167" stop-color="#0000aa"/><stop offset=".7351" stop-color="#0000a5"/><stop offset=".7483" stop-color="#0000b6"/><stop offset=".7667" stop-color="#0000b2"/><stop offset=".7772" stop-color="#0000a1"/><stop offset=".7878" stop-color="#000093"/><stop offset=".7956" stop-color="#000094"/><stop offset=".7983" stop-color="#00006b"/><stop offset=".8088" stop-color="#00006b"/><stop offset=".8114" stop-color="#00008d"/><stop offset=".8272" stop-color="#00008d"/><stop offset=".8325" stop-color="#00006d"/><stop offset=".8483" stop-color="#00006d"/><stop offset=".8536" stop-color="#000094"/><stop offset=".8746" stop-color="#000094"/><stop offset=".8799" stop-color="#00006b"/><stop offset=".9062" stop-color="#00006b"/><stop offset=".9115" stop-color="#00008d"/><stop offset=".9247" stop-color="#00008d"/><stop offset=".9299" stop-color="#00006d"/><stop offset=".9484" stop-color="#00006d"/><stop offset=".9536" stop-color="#00009b"/><stop offset=".9694" stop-color="#0000a7"/><stop offset=".9799" stop-color="#00009b"/><stop offset="1.0000" stop-color="#000098"/></linearGradient>
<linearGradient id="b4" gradientUnits="userSpaceOnUse" x1="0" y1="1773" x2="0" y2="2994"><stop offset=".0005" stop-color="#0000c0"/><stop offset=".0190" stop-color="#0000cb"/><stop offset=".0374" stop-color="#0000be"/><stop offset=".0795" stop-color="#0000c0"/><stop offset=".1401" stop-color="#0000be"/><stop offset=".1506" stop-color="#0000a8"/><stop offset=".1585" stop-color="#0000d1"/><stop offset=".2112" stop-color="#0000d3"/><stop offset=".2901" stop-color="#0000d1"/><stop offset=".3217" stop-color="#0000d5"/><stop offset=".3428" stop-color="#0000e2"/><stop offset=".3691" stop-color="#0000db"/><stop offset=".3902" stop-color="#0000cf"/><stop offset=".4086" stop-color="#0000c4"/><stop offset=".4165" stop-color="#0000b4"/><stop offset=".4244" stop-color="#0000ba"/><stop offset=".4402" stop-color="#0000ba"/><stop offset=".4613" stop-color="#0000b4"/><stop offset=".4876" stop-color="#0000ae"/><stop offset=".5139" stop-color="#0000b2"/><stop offset=".5429" stop-color="#0000c0"/><stop offset=".5666" stop-color="#0000c0"/><stop offset=".5850" stop-color="#0000b4"/><stop offset=".6061" stop-color="#0000ac"/><stop offset=".6245" stop-color="#0000b2"/><stop offset=".6456" stop-color="#0000a8"/><stop offset=".6666" stop-color="#0000a8"/><stop offset=".6824" stop-color="#0000bc"/><stop offset=".7009" stop-color="#0000bc"/><stop offset=".7167" stop-color="#0000a8"/><stop offset=".7351" stop-color="#0000a4"/><stop offset=".7483" stop-color="#0000b4"/><stop offset=".7667" stop-color="#0000b0"/><stop offset=".7772" stop-color="#0000a0"/><stop offset=".7878" stop-color="#000091"/><stop offset=".7956" stop-color="#000091"/><stop offset=".7983" stop-color="#00006b"/><stop offset=".8088" stop-color="#00006b"/><stop offset=".8114" stop-color="#00008a"/><stop offset=".8272" stop-color="#00008a"/><stop offset=".8325" stop-color="#00006d"/><stop offset=".8483" stop-color="#00006d"/><stop offset=".8536" stop-color="#000091"/><stop offset=".8746" stop-color="#000091"/><stop offset=".8799" stop-color="#00006b"/><stop offset=".9062" stop-color="#00006b"/><stop offset=".9115" stop-color="#00008a"/><stop offset=".9247" stop-color="#00008a"/><stop offset=".9299" stop-color="#00006d"/><stop offset=".9484" stop-color="#00006d"/><stop offset=".9536" stop-color="#000099"/><stop offset=".9694" stop-color="#0000a4"/><stop offset=".9799" stop-color="#000099"/><stop offset="1.0000" stop-color="#000096"/></linearGradient>
<linearGradient id="b5" gradientUnits="userSpaceOnUse" x1="0" y1="1773" x2="0" y2="2994"><stop offset=".0005" stop-color="#0000b8"/><stop offset=".0190" stop-color="#0000c2"/><stop offset=".0374" stop-color="#0000b6"/><stop offset=".0795" stop-color="#0000b8"/><stop offset=".1401" stop-color="#0000b6"/><stop offset=".1506" stop-color="#0000a2"/><stop offset=".1585" stop-color="#0000c7"/><stop offset=".2112" stop-color="#0000c9"/><stop offset=".2901" stop-color="#0000c7"/><stop offset=".3217" stop-color="#0000cb"/><stop offset=".3428" stop-color="#0000d7"/><stop offset=".3691" stop-color="#0000d1"/><stop offset=".3902" stop-color="#0000c6"/><stop offset=".4086" stop-color="#0000bb"/><stop offset=".4165" stop-color="#0000ad"/><stop offset=".4244" stop-color="#0000b2"/><stop offset=".4402" stop-color="#0000b2"/><stop offset=".4613" stop-color="#0000ad"/><stop offset=".4876" stop-color="#0000a8"/><stop offset=".5139" stop-color="#0000ab"/><stop offset=".5429" stop-color="#0000b8"/><stop offset=".5666" stop-color="#0000b8"/><stop offset=".5850" stop-color="#0000ad"/><stop offset=".6061" stop-color="#0000a6"/><stop offset=".6245" stop-color="#0000ab"/><stop offset=".6456" stop-color="#0000a2"/><stop offset=".6666" stop-color="#0000a2"/><stop offset=".6824" stop-color="#0000b4"/><stop offset=".7009" stop-color="#0000b4"/><stop offset=".7167" stop-color="#0000a2"/><stop offset=".7351" stop-color="#00009e"/><stop offset=".7483" stop-color="#0000ad"/><stop offset=".7667" stop-color="#0000a9"/><stop offset=".7772" stop-color="#00009a"/><stop offset=".7878" stop-color="#00008d"/><stop offset=".7956" stop-color="#00008c"/><stop offset=".7983" stop-color="#000069"/><stop offset=".8088" stop-color="#000069"/><stop offset=".8114" stop-color="#000085"/><stop offset=".8272" stop-color="#000085"/><stop offset=".8325" stop-color="#00006b"/><stop offset=".8483" stop-color="#00006b"/><stop offset=".8536" stop-color="#00008c"/><stop offset=".8746" stop-color="#00008c"/><stop offset=".8799" stop-color="#000069"/><stop offset=".9062" stop-color="#000069"/><stop offset=".9115" stop-color="#000085"/><stop offset=".9247" stop-color="#000085"/><stop offset=".9299" stop-color="#00006b"/><stop offset=".9484" stop-color="#00006b"/><stop offset=".9536" stop-color="#000093"/><stop offset=".9694" stop-color="#00009e"/><stop offset=".9799" stop-color="#000093"/><stop offset="1.0000" stop-color="#000090"/></linearGradient>
<linearGradient id="b6" gradientUnits="userSpaceOnUse" x1="0" y1="1773" x2="0" y2="2994"><stop offset=".0005" stop-color="#0000ac"/><stop offset=".0190" stop-color="#0000b5"/><stop offset=".0374" stop-color="#0000aa"/><stop offset=".0795" stop-color="#0000ac"/><stop offset=".1401" stop-color="#0000aa"/><stop offset=".1506" stop-color="#000099"/><stop offset=".1585" stop-color="#0000b9"/><stop offset=".2112" stop-color="#0000bb"/><stop offset=".2901" stop-color="#0000b9"/><stop offset=".3217" stop-color="#0000bc"/><stop offset=".3428" stop-color="#0000c8"/><stop offset=".3691" stop-color="#0000c2"/><stop offset=".3902" stop-color="#0000b8"/><stop offset=".4086" stop-color="#0000af"/><stop offset=".4165" stop-color="#0000a2"/><stop offset=".4244" stop-color="#0000a7"/><stop offset=".4402" stop-color="#0000a7"/><stop offset=".4613" stop-color="#0000a2"/><stop offset=".4876" stop-color="#00009e"/><stop offset=".5139" stop-color="#0000a1"/><stop offset=".5429" stop-color="#0000ac"/><stop offset=".5666" stop-color="#0000ac"/><stop offset=".5850" stop-color="#0000a2"/><stop offset=".6061" stop-color="#00009c"/><stop offset=".6245" stop-color="#0000a1"/><stop offset=".6456" stop-color="#000099"/><stop offset=".6666" stop-color="#000099"/><stop offset=".6824" stop-color="#0000a9"/><stop offset=".7009" stop-color="#0000a9"/><stop offset=".7167" stop-color="#000099"/><stop offset=".7351" stop-color="#000095"/><stop offset=".7483" stop-color="#0000a2"/><stop offset=".7667" stop-color="#00009f"/><stop offset=".7772" stop-color="#000092"/><stop offset=".7878" stop-color="#000086"/><stop offset=".7956" stop-color="#000085"/><stop offset=".7983" stop-color="#000066"/><stop offset=".8088" stop-color="#000066"/><stop offset=".8114" stop-color="#00007e"/><stop offset=".8272" stop-color="#00007e"/><stop offset=".8325" stop-color="#000068"/><stop offset=".8483" stop-color="#000068"/><stop offset=".8536" stop-color="#000085"/><stop offset=".8746" stop-color="#000085"/><stop offset=".8799" stop-color="#000066"/><stop offset=".9062" stop-color="#000066"/><stop offset=".9115" stop-color="#00007e"/><stop offset=".9247" stop-color="#00007e"/><stop offset=".9299" stop-color="#000068"/><stop offset=".9484" stop-color="#000068"/><stop offset=".9536" stop-color="#00008b"/><stop offset=".9694" stop-color="#000096"/><stop offset=".9799" stop-color="#00008b"/><stop offset="1.0000" stop-color="#000089"/></linearGradient>
<linearGradient id="b7" gradientUnits="userSpaceOnUse" x1="0" y1="1773" x2="0" y2="2994"><stop offset=".0005" stop-color="#000093"/><stop offset=".0190" stop-color="#00009a"/><stop offset=".0374" stop-color="#000092"/><stop offset=".0795" stop-color="#000093"/><stop offset=".1401" stop-color="#000092"/><stop offset=".1506" stop-color="#000086"/><stop offset=".1585" stop-color="#00009c"/><stop offset=".2112" stop-color="#00009d"/><stop offset=".2901" stop-color="#00009c"/><stop offset=".3217" stop-color="#00009e"/><stop offset=".3428" stop-color="#0000a8"/><stop offset=".3691" stop-color="#0000a3"/><stop offset=".3902" stop-color="#00009b"/><stop offset=".4086" stop-color="#000096"/><stop offset=".4165" stop-color="#00008d"/><stop offset=".4244" stop-color="#000090"/><stop offset=".4402" stop-color="#000090"/><stop offset=".4613" stop-color="#00008d"/><stop offset=".4876" stop-color="#000089"/><stop offset=".5139" stop-color="#00008c"/><stop offset=".5429" stop-color="#000093"/><stop offset=".5666" stop-color="#000093"/><stop offset=".5850" stop-color="#00008d"/><stop offset=".6061" stop-color="#000088"/><stop offset=".6245" stop-color="#00008c"/><stop offset=".6456" stop-color="#000086"/><stop offset=".6666" stop-color="#000086"/><stop offset=".6824" stop-color="#000091"/><stop offset=".7009" stop-color="#000091"/><stop offset=".7167" stop-color="#000086"/><stop offset=".7351" stop-color="#000083"/><stop offset=".7483" stop-color="#00008d"/><stop offset=".7667" stop-color="#00008b"/><stop offset=".7772" stop-color="#000081"/><stop offset=".7878" stop-color="#000078"/><stop offset=".7956" stop-color="#000075"/><stop offset=".7983" stop-color="#00004c"/><stop offset=".8088" stop-color="#00004c"/><stop offset=".8114" stop-color="#00006f"/><stop offset=".8272" stop-color="#00006f"/><stop offset=".8325" stop-color="#00004e"/><stop offset=".8483" stop-color="#00004e"/><stop offset=".8536" stop-color="#000075"/><stop offset=".8746" stop-color="#000075"/><stop offset=".8799" stop-color="#00004c"/><stop offset=".9062" stop-color="#00004c"/><stop offset=".9115" stop-color="#00006f"/><stop offset=".9247" stop-color="#00006f"/><stop offset=".9299" stop-color="#00004e"/><stop offset=".9484" stop-color="#00004e"/><stop offset=".9536" stop-color="#00007b"/><stop offset=".9694" stop-color="#000085"/><stop offset=".9799" stop-color="#00007b"/><stop offset="1.0000" stop-color="#000079"/></linearGradient>
<linearGradient id="b8" gradientUnits="userSpaceOnUse" x1="0" y1="1773" x2="0" y2="2994"><stop offset=".0005" stop-color="#000072"/><stop offset=".0190" stop-color="#000075"/><stop offset=".0374" stop-color="#000072"/><stop offset=".0795" stop-color="#000072"/><stop offset=".1401" stop-color="#000072"/><stop offset=".1506" stop-color="#00006b"/><stop offset=".1585" stop-color="#000076"/><stop offset=".2112" stop-color="#000076"/><stop offset=".2901" stop-color="#000076"/><stop offset=".3217" stop-color="#000077"/><stop offset=".3428" stop-color="#00007e"/><stop offset=".3691" stop-color="#00007a"/><stop offset=".3902" stop-color="#000076"/><stop offset=".4086" stop-color="#000073"/><stop offset=".4165" stop-color="#00006f"/><stop offset=".4244" stop-color="#000071"/><stop offset=".4402" stop-color="#000071"/><stop offset=".4613" stop-color="#00006f"/><stop offset=".4876" stop-color="#00006d"/><stop offset=".5139" stop-color="#00006e"/><stop offset=".5429" stop-color="#000072"/><stop offset=".5666" stop-color="#000072"/><stop offset=".5850" stop-color="#00006f"/><stop offset=".6061" stop-color="#00006d"/><stop offset=".6245" stop-color="#00006e"/><stop offset=".6456" stop-color="#00006b"/><stop offset=".6666" stop-color="#00006b"/><stop offset=".6824" stop-color="#000071"/><stop offset=".7009" stop-color="#000071"/><stop offset=".7167" stop-color="#00006b"/><stop offset=".7351" stop-color="#00006a"/><stop offset=".7483" stop-color="#00006f"/><stop offset=".7667" stop-color="#00006e"/><stop offset=".7772" stop-color="#000068"/><stop offset=".7878" stop-color="#000063"/><stop offset=".7956" stop-color="#000061"/><stop offset=".7983" stop-color="#000021"/><stop offset=".8088" stop-color="#000021"/><stop offset=".8114" stop-color="#00005c"/><stop offset=".8272" stop-color="#00005c"/><stop offset=".8325" stop-color="#000022"/><stop offset=".8483" stop-color="#000022"/><stop offset=".8536" stop-color="#000061"/><stop offset=".8746" stop-color="#000061"/><stop offset=".8799" stop-color="#000021"/><stop offset=".9062" stop-color="#000021"/><stop offset=".9115" stop-color="#00005c"/><stop offset=".9247" stop-color="#00005c"/><stop offset=".9299" stop-color="#000022"/><stop offset=".9484" stop-color="#000022"/><stop offset=".9536" stop-color="#000066"/><stop offset=".9694" stop-color="#00006d"/><stop offset=".9799" stop-color="#000066"/><stop offset="1.0000" stop-color="#000064"/></linearGradient>
<linearGradient id="b9" gradientUnits="userSpaceOnUse" x1="0" y1="1773" x2="0" y2="2994"><stop offset=".0005" stop-color="#000052"/><stop offset=".0190" stop-color="#000052"/><stop offset=".0374" stop-color="#000052"/><stop offset=".0795" stop-color="#000052"/><stop offset=".1401" stop-color="#000052"/><stop offset=".1506" stop-color="#000050"/><stop offset=".1585" stop-color="#000052"/><stop offset=".2112" stop-color="#000052"/><stop offset=".2901" stop-color="#000052"/><stop offset=".3217" stop-color="#000052"/><stop offset=".3428" stop-color="#000057"/><stop offset=".3691" stop-color="#000054"/><stop offset=".3902" stop-color="#000052"/><stop offset=".4086" stop-color="#000052"/><stop offset=".4165" stop-color="#000051"/><stop offset=".4244" stop-color="#000052"/><stop offset=".4402" stop-color="#000052"/><stop offset=".4613" stop-color="#000051"/><stop offset=".4876" stop-color="#000051"/><stop offset=".5139" stop-color="#000051"/><stop offset=".5429" stop-color="#000052"/><stop offset=".5666" stop-color="#000052"/><stop offset=".5850" stop-color="#000051"/><stop offset=".6061" stop-color="#000051"/><stop offset=".6245" stop-color="#000051"/><stop offset=".6456" stop-color="#000050"/><stop offset=".6666" stop-color="#000050"/><stop offset=".6824" stop-color="#000052"/><stop offset=".7009" stop-color="#000052"/><stop offset=".7167" stop-color="#000050"/><stop offset=".7351" stop-color="#000050"/><stop offset=".7483" stop-color="#000051"/><stop offset=".7667" stop-color="#000051"/><stop offset=".7772" stop-color="#00004f"/><stop offset=".7878" stop-color="#00004d"/><stop offset=".7956" stop-color="#000047"/><stop offset=".7983" stop-color="#000017"/><stop offset=".8088" stop-color="#000017"/><stop offset=".8114" stop-color="#000044"/><stop offset=".8272" stop-color="#000044"/><stop offset=".8325" stop-color="#000017"/><stop offset=".8483" stop-color="#000017"/><stop offset=".8536" stop-color="#000047"/><stop offset=".8746" stop-color="#000047"/><stop offset=".8799" stop-color="#000017"/><stop offset=".9062" stop-color="#000017"/><stop offset=".9115" stop-color="#000044"/><stop offset=".9247" stop-color="#000044"/><stop offset=".9299" stop-color="#000017"/><stop offset=".9484" stop-color="#000017"/><stop offset=".9536" stop-color="#00004b"/><stop offset=".9694" stop-color="#000051"/><stop offset=".9799" stop-color="#00004b"/><stop offset="1.0000" stop-color="#00004a"/></linearGradient>
<linearGradient id="b10" gradientUnits="userSpaceOnUse" x1="0" y1="1773" x2="0" y2="2994"><stop offset=".0005" stop-color="#000034"/><stop offset=".0190" stop-color="#000033"/><stop offset=".0374" stop-color="#000035"/><stop offset=".0795" stop-color="#000034"/><stop offset=".1401" stop-color="#000035"/><stop offset=".1506" stop-color="#000037"/><stop offset=".1585" stop-color="#000032"/><stop offset=".2112" stop-color="#000032"/><stop offset=".2901" stop-color="#000032"/><stop offset=".3217" stop-color="#000031"/><stop offset=".3428" stop-color="#000035"/><stop offset=".3691" stop-color="#000033"/><stop offset=".3902" stop-color="#000032"/><stop offset=".4086" stop-color="#000034"/><stop offset=".4165" stop-color="#000036"/><stop offset=".4244" stop-color="#000035"/><stop offset=".4402" stop-color="#000035"/><stop offset=".4613" stop-color="#000036"/><stop offset=".4876" stop-color="#000036"/><stop offset=".5139" stop-color="#000036"/><stop offset=".5429" stop-color="#000034"/><stop offset=".5666" stop-color="#000034"/><stop offset=".5850" stop-color="#000036"/><stop offset=".6061" stop-color="#000036"/><stop offset=".6245" stop-color="#000036"/><stop offset=".6456" stop-color="#000037"/><stop offset=".6666" stop-color="#000037"/><stop offset=".6824" stop-color="#000035"/><stop offset=".7009" stop-color="#000035"/><stop offset=".7167" stop-color="#000037"/><stop offset=".7351" stop-color="#000037"/><stop offset=".7483" stop-color="#000036"/><stop offset=".7667" stop-color="#000036"/><stop offset=".7772" stop-color="#000037"/><stop offset=".7878" stop-color="#000038"/><stop offset=".7956" stop-color="#00002b"/><stop offset=".7983" stop-color="#00001a"/><stop offset=".8088" stop-color="#00001a"/><stop offset=".8114" stop-color="#000029"/><stop offset=".8272" stop-color="#000029"/><stop offset=".8325" stop-color="#00001a"/><stop offset=".8483" stop-color="#00001a"/><stop offset=".8536" stop-color="#00002b"/><stop offset=".8746" stop-color="#00002b"/><stop offset=".8799" stop-color="#00001a"/><stop offset=".9062" stop-color="#00001a"/><stop offset=".9115" stop-color="#000029"/><stop offset=".9247" stop-color="#000029"/><stop offset=".9299" stop-color="#00001a"/><stop offset=".9484" stop-color="#00001a"/><stop offset=".9536" stop-color="#00002e"/><stop offset=".9694" stop-color="#000031"/><stop offset=".9799" stop-color="#00002e"/><stop offset="1.0000" stop-color="#00002d"/></linearGradient>
<linearGradient id="b11" gradientUnits="userSpaceOnUse" x1="0" y1="1773" x2="0" y2="2994"><stop offset=".0005" stop-color="#000017"/><stop offset=".0190" stop-color="#000015"/><stop offset=".0374" stop-color="#000017"/><stop offset=".0795" stop-color="#000017"/><stop offset=".1401" stop-color="#000017"/><stop offset=".1506" stop-color="#00001b"/><stop offset=".1585" stop-color="#000014"/><stop offset=".2112" stop-color="#000014"/><stop offset=".2901" stop-color="#000014"/><stop offset=".3217" stop-color="#000014"/><stop offset=".3428" stop-color="#000015"/><stop offset=".3691" stop-color="#000014"/><stop offset=".3902" stop-color="#000015"/><stop offset=".4086" stop-color="#000017"/><stop offset=".4165" stop-color="#000019"/><stop offset=".4244" stop-color="#000018"/><stop offset=".4402" stop-color="#000018"/><stop offset=".4613" stop-color="#000019"/><stop offset=".4876" stop-color="#00001a"/><stop offset=".5139" stop-color="#000019"/><stop offset=".5429" stop-color="#000017"/><stop offset=".5666" stop-color="#000017"/><stop offset=".5850" stop-color="#000019"/><stop offset=".6061" stop-color="#00001a"/><stop offset=".6245" stop-color="#000019"/><stop offset=".6456" stop-color="#00001b"/><stop offset=".6666" stop-color="#00001b"/><stop offset=".6824" stop-color="#000018"/><stop offset=".7009" stop-color="#000018"/><stop offset=".7167" stop-color="#00001b"/><stop offset=".7351" stop-color="#00001c"/><stop offset=".7483" stop-color="#000019"/><stop offset=".7667" stop-color="#00001a"/><stop offset=".7772" stop-color="#00001c"/><stop offset=".7878" stop-color="#00001e"/><stop offset=".7956" stop-color="#00001a"/><stop offset=".7983" stop-color="#000029"/><stop offset=".8088" stop-color="#000029"/><stop offset=".8114" stop-color="#000018"/><stop offset=".8272" stop-color="#000018"/><stop offset=".8325" stop-color="#00002a"/><stop offset=".8483" stop-color="#00002a"/><stop offset=".8536" stop-color="#00001a"/><stop offset=".8746" stop-color="#00001a"/><stop offset=".8799" stop-color="#000029"/><stop offset=".9062" stop-color="#000029"/><stop offset=".9115" stop-color="#000018"/><stop offset=".9247" stop-color="#000018"/><stop offset=".9299" stop-color="#00002a"/><stop offset=".9484" stop-color="#00002a"/><stop offset=".9536" stop-color="#00001b"/><stop offset=".9694" stop-color="#00001d"/><stop offset=".9799" stop-color="#00001b"/><stop offset="1.0000" stop-color="#00001a"/></linearGradient>
<linearGradient id="b12" gradientUnits="userSpaceOnUse" x1="0" y1="1773" x2="0" y2="2994"><stop offset=".0005" stop-color="#000029"/><stop offset=".0190" stop-color="#000027"/><stop offset=".0374" stop-color="#000029"/><stop offset=".0795" stop-color="#000029"/><stop offset=".1401" stop-color="#000029"/><stop offset=".1506" stop-color="#00002c"/><stop offset=".1585" stop-color="#000026"/><stop offset=".2112" stop-color="#000025"/><stop offset=".2901" stop-color="#000026"/><stop offset=".3217" stop-color="#000025"/><stop offset=".3428" stop-color="#000027"/><stop offset=".3691" stop-color="#000026"/><stop offset=".3902" stop-color="#000026"/><stop offset=".4086" stop-color="#000028"/><stop offset=".4165" stop-color="#00002a"/><stop offset=".4244" stop-color="#000029"/><stop offset=".4402" stop-color="#000029"/><stop offset=".4613" stop-color="#00002a"/><stop offset=".4876" stop-color="#00002b"/><stop offset=".5139" stop-color="#00002b"/><stop offset=".5429" stop-color="#000029"/><stop offset=".5666" stop-color="#000029"/><stop offset=".5850" stop-color="#00002a"/><stop offset=".6061" stop-color="#00002b"/><stop offset=".6245" stop-color="#00002b"/><stop offset=".6456" stop-color="#00002c"/><stop offset=".6666" stop-color="#00002c"/><stop offset=".6824" stop-color="#000029"/><stop offset=".7009" stop-color="#000029"/><stop offset=".7167" stop-color="#00002c"/><stop offset=".7351" stop-color="#00002c"/><stop offset=".7483" stop-color="#00002a"/><stop offset=".7667" stop-color="#00002b"/><stop offset=".7772" stop-color="#00002d"/><stop offset=".7878" stop-color="#00002e"/><stop offset=".7956" stop-color="#00002b"/><stop offset=".7983" stop-color="#000040"/><stop offset=".8088" stop-color="#000040"/><stop offset=".8114" stop-color="#000029"/><stop offset=".8272" stop-color="#000029"/><stop offset=".8325" stop-color="#000041"/><stop offset=".8483" stop-color="#000041"/><stop offset=".8536" stop-color="#00002b"/><stop offset=".8746" stop-color="#00002b"/><stop offset=".8799" stop-color="#000040"/><stop offset=".9062" stop-color="#000040"/><stop offset=".9115" stop-color="#000029"/><stop offset=".9247" stop-color="#000029"/><stop offset=".9299" stop-color="#000041"/><stop offset=".9484" stop-color="#000041"/><stop offset=".9536" stop-color="#00002e"/><stop offset=".9694" stop-color="#000031"/><stop offset=".9799" stop-color="#00002e"/><stop offset="1.0000" stop-color="#00002d"/></linearGradient>
<linearGradient id="b13" gradientUnits="userSpaceOnUse" x1="0" y1="1773" x2="0" y2="2994"><stop offset=".0005" stop-color="#00004b"/><stop offset=".0190" stop-color="#00004b"/><stop offset=".0374" stop-color="#00004b"/><stop offset=".0795" stop-color="#00004b"/><stop offset=".1401" stop-color="#00004b"/><stop offset=".1506" stop-color="#00004b"/><stop offset=".1585" stop-color="#00004a"/><stop offset=".2112" stop-color="#00004a"/><stop offset=".2901" stop-color="#00004a"/><stop offset=".3217" stop-color="#00004a"/><stop offset=".3428" stop-color="#00004f"/><stop offset=".3691" stop-color="#00004c"/><stop offset=".3902" stop-color="#00004b"/><stop offset=".4086" stop-color="#00004b"/><stop offset=".4165" stop-color="#00004b"/><stop offset=".4244" stop-color="#00004b"/><stop offset=".4402" stop-color="#00004b"/><stop offset=".4613" stop-color="#00004b"/><stop offset=".4876" stop-color="#00004b"/><stop offset=".5139" stop-color="#00004b"/><stop offset=".5429" stop-color="#00004b"/><stop offset=".5666" stop-color="#00004b"/><stop offset=".5850" stop-color="#00004b"/><stop offset=".6061" stop-color="#00004b"/><stop offset=".6245" stop-color="#00004b"/><stop offset=".6456" stop-color="#00004b"/><stop offset=".6666" stop-color="#00004b"/><stop offset=".6824" stop-color="#00004b"/><stop offset=".7009" stop-color="#00004b"/><stop offset=".7167" stop-color="#00004b"/><stop offset=".7351" stop-color="#00004a"/><stop offset=".7483" stop-color="#00004b"/><stop offset=".7667" stop-color="#00004b"/><stop offset=".7772" stop-color="#00004a"/><stop offset=".7878" stop-color="#000049"/><stop offset=".7956" stop-color="#00004c"/><stop offset=".7983" stop-color="#00004c"/><stop offset=".8088" stop-color="#00004c"/><stop offset=".8114" stop-color="#000049"/><stop offset=".8272" stop-color="#000049"/><stop offset=".8325" stop-color="#00004e"/><stop offset=".8483" stop-color="#00004e"/><stop offset=".8536" stop-color="#00004c"/><stop offset=".8746" stop-color="#00004c"/><stop offset=".8799" stop-color="#00004c"/><stop offset=".9062" stop-color="#00004c"/><stop offset=".9115" stop-color="#000049"/><stop offset=".9247" stop-color="#000049"/><stop offset=".9299" stop-color="#00004e"/><stop offset=".9484" stop-color="#00004e"/><stop offset=".9536" stop-color="#000050"/><stop offset=".9694" stop-color="#000056"/><stop offset=".9799" stop-color="#000050"/><stop offset="1.0000" stop-color="#00004f"/></linearGradient>
<linearGradient id="b14" gradientUnits="userSpaceOnUse" x1="0" y1="1773" x2="0" y2="2994"><stop offset=".0005" stop-color="#00006c"/><stop offset=".0190" stop-color="#00006e"/><stop offset=".0374" stop-color="#00006b"/><stop offset=".0795" stop-color="#00006c"/><stop offset=".1401" stop-color="#00006b"/><stop offset=".1506" stop-color="#000066"/><stop offset=".1585" stop-color="#00006f"/><stop offset=".2112" stop-color="#00006f"/><stop offset=".2901" stop-color="#00006f"/><stop offset=".3217" stop-color="#00006f"/><stop offset=".3428" stop-color="#000076"/><stop offset=".3691" stop-color="#000073"/><stop offset=".3902" stop-color="#00006e"/><stop offset=".4086" stop-color="#00006d"/><stop offset=".4165" stop-color="#000069"/><stop offset=".4244" stop-color="#00006b"/><stop offset=".4402" stop-color="#00006b"/><stop offset=".4613" stop-color="#000069"/><stop offset=".4876" stop-color="#000068"/><stop offset=".5139" stop-color="#000069"/><stop offset=".5429" stop-color="#00006c"/><stop offset=".5666" stop-color="#00006c"/><stop offset=".5850" stop-color="#000069"/><stop offset=".6061" stop-color="#000067"/><stop offset=".6245" stop-color="#000069"/><stop offset=".6456" stop-color="#000066"/><stop offset=".6666" stop-color="#000066"/><stop offset=".6824" stop-color="#00006b"/><stop offset=".7009" stop-color="#00006b"/><stop offset=".7167" stop-color="#000066"/><stop offset=".7351" stop-color="#000065"/><stop offset=".7483" stop-color="#000069"/><stop offset=".7667" stop-color="#000068"/><stop offset=".7772" stop-color="#000064"/><stop offset=".7878" stop-color="#00005f"/><stop offset=".7956" stop-color="#000066"/><stop offset=".7983" stop-color="#00005c"/><stop offset=".8088" stop-color="#00005c"/><stop offset=".8114" stop-color="#000061"/><stop offset=".8272" stop-color="#000061"/><stop offset=".8325" stop-color="#00005e"/><stop offset=".8483" stop-color="#00005e"/><stop offset=".8536" stop-color="#000066"/><stop offset=".8746" stop-color="#000066"/><stop offset=".8799" stop-color="#00005c"/><stop offset=".9062" stop-color="#00005c"/><stop offset=".9115" stop-color="#000061"/><stop offset=".9247" stop-color="#000061"/><stop offset=".9299" stop-color="#00005e"/><stop offset=".9484" stop-color="#00005e"/><stop offset=".9536" stop-color="#00006b"/><stop offset=".9694" stop-color="#000073"/><stop offset=".9799" stop-color="#00006b"/><stop offset="1.0000" stop-color="#000069"/></linearGradient>
<linearGradient id="b15" gradientUnits="userSpaceOnUse" x1="0" y1="1773" x2="0" y2="2994"><stop offset=".0005" stop-color="#00008f"/><stop offset=".0190" stop-color="#000095"/><stop offset=".0374" stop-color="#00008e"/><stop offset=".0795" stop-color="#00008f"/><stop offset=".1401" stop-color="#00008e"/><stop offset=".1506" stop-color="#000083"/><stop offset=".1585" stop-color="#000098"/><stop offset=".2112" stop-color="#000099"/><stop offset=".2901" stop-color="#000098"/><stop offset=".3217" stop-color="#000099"/><stop offset=".3428" stop-color="#0000a3"/><stop offset=".3691" stop-color="#00009e"/><stop offset=".3902" stop-color="#000097"/><stop offset=".4086" stop-color="#000091"/><stop offset=".4165" stop-color="#000089"/><stop offset=".4244" stop-color="#00008c"/><stop offset=".4402" stop-color="#00008c"/><stop offset=".4613" stop-color="#000089"/><stop offset=".4876" stop-color="#000086"/><stop offset=".5139" stop-color="#000088"/><stop offset=".5429" stop-color="#00008f"/><stop offset=".5666" stop-color="#00008f"/><stop offset=".5850" stop-color="#000089"/><stop offset=".6061" stop-color="#000085"/><stop offset=".6245" stop-color="#000088"/><stop offset=".6456" stop-color="#000083"/><stop offset=".6666" stop-color="#000083"/><stop offset=".6824" stop-color="#00008d"/><stop offset=".7009" stop-color="#00008d"/><stop offset=".7167" stop-color="#000083"/><stop offset=".7351" stop-color="#000080"/><stop offset=".7483" stop-color="#000089"/><stop offset=".7667" stop-color="#000087"/><stop offset=".7772" stop-color="#00007e"/><stop offset=".7878" stop-color="#000075"/><stop offset=".7956" stop-color="#00007a"/><stop offset=".7983" stop-color="#000066"/><stop offset=".8088" stop-color="#000066"/><stop offset=".8114" stop-color="#000074"/><stop offset=".8272" stop-color="#000074"/><stop offset=".8325" stop-color="#000068"/><stop offset=".8483" stop-color="#000068"/><stop offset=".8536" stop-color="#00007a"/><stop offset=".8746" stop-color="#00007a"/><stop offset=".8799" stop-color="#000066"/><stop offset=".9062" stop-color="#000066"/><stop offset=".9115" stop-color="#000074"/><stop offset=".9247" stop-color="#000074"/><stop offset=".9299" stop-color="#000068"/><stop offset=".9484" stop-color="#000068"/><stop offset=".9536" stop-color="#000081"/><stop offset=".9694" stop-color="#00008a"/><stop offset=".9799" stop-color="#000081"/><stop offset="1.0000" stop-color="#00007e"/></linearGradient>
<linearGradient id="b16" gradientUnits="userSpaceOnUse" x1="0" y1="1773" x2="0" y2="2994"><stop offset=".0005" stop-color="#0000a4"/><stop offset=".0190" stop-color="#0000ac"/><stop offset=".0374" stop-color="#0000a2"/><stop offset=".0795" stop-color="#0000a4"/><stop offset=".1401" stop-color="#0000a2"/><stop offset=".1506" stop-color="#000093"/><stop offset=".1585" stop-color="#0000b0"/><stop offset=".2112" stop-color="#0000b1"/><stop offset=".2901" stop-color="#0000b0"/><stop offset=".3217" stop-color="#0000b2"/><stop offset=".3428" stop-color="#0000bd"/><stop offset=".3691" stop-color="#0000b8"/><stop offset=".3902" stop-color="#0000ae"/><stop offset=".4086" stop-color="#0000a6"/><stop offset=".4165" stop-color="#00009b"/><stop offset=".4244" stop-color="#0000a0"/><stop offset=".4402" stop-color="#0000a0"/><stop offset=".4613" stop-color="#00009b"/><stop offset=".4876" stop-color="#000097"/><stop offset=".5139" stop-color="#00009a"/><stop offset=".5429" stop-color="#0000a4"/><stop offset=".5666" stop-color="#0000a4"/><stop offset=".5850" stop-color="#00009b"/><stop offset=".6061" stop-color="#000096"/><stop offset=".6245" stop-color="#00009a"/><stop offset=".6456" stop-color="#000093"/><stop offset=".6666" stop-color="#000093"/><stop offset=".6824" stop-color="#0000a1"/><stop offset=".7009" stop-color="#0000a1"/><stop offset=".7167" stop-color="#000093"/><stop offset=".7351" stop-color="#000090"/><stop offset=".7483" stop-color="#00009b"/><stop offset=".7667" stop-color="#000098"/><stop offset=".7772" stop-color="#00008c"/><stop offset=".7878" stop-color="#000081"/><stop offset=".7956" stop-color="#00008a"/><stop offset=".7983" stop-color="#00006e"/><stop offset=".8088" stop-color="#00006e"/><stop offset=".8114" stop-color="#000083"/><stop offset=".8272" stop-color="#000083"/><stop offset=".8325" stop-color="#000070"/><stop offset=".8483" stop-color="#000070"/><stop offset=".8536" stop-color="#00008a"/><stop offset=".8746" stop-color="#00008a"/><stop offset=".8799" stop-color="#00006e"/><stop offset=".9062" stop-color="#00006e"/><stop offset=".9115" stop-color="#000083"/><stop offset=".9247" stop-color="#000083"/><stop offset=".9299" stop-color="#000070"/><stop offset=".9484" stop-color="#000070"/><stop offset=".9536" stop-color="#000091"/><stop offset=".9694" stop-color="#00009c"/><stop offset=".9799" stop-color="#000091"/><stop offset="1.0000" stop-color="#00008e"/></linearGradient>
<linearGradient id="b17" gradientUnits="userSpaceOnUse" x1="0" y1="1773" x2="0" y2="2994"><stop offset=".0005" stop-color="#0000b4"/><stop offset=".0190" stop-color="#0000be"/><stop offset=".0374" stop-color="#0000b2"/><stop offset=".0795" stop-color="#0000b4"/><stop offset=".1401" stop-color="#0000b2"/><stop offset=".1506" stop-color="#00009f"/><stop offset=".1585" stop-color="#0000c3"/><stop offset=".2112" stop-color="#0000c4"/><stop offset=".2901" stop-color="#0000c3"/><stop offset=".3217" stop-color="#0000c6"/><stop offset=".3428" stop-color="#0000d2"/><stop offset=".3691" stop-color="#0000cc"/><stop offset=".3902" stop-color="#0000c1"/><stop offset=".4086" stop-color="#0000b7"/><stop offset=".4165" stop-color="#0000aa"/><stop offset=".4244" stop-color="#0000af"/><stop offset=".4402" stop-color="#0000af"/><stop offset=".4613" stop-color="#0000aa"/><stop offset=".4876" stop-color="#0000a4"/><stop offset=".5139" stop-color="#0000a8"/><stop offset=".5429" stop-color="#0000b4"/><stop offset=".5666" stop-color="#0000b4"/><stop offset=".5850" stop-color="#0000aa"/><stop offset=".6061" stop-color="#0000a2"/><stop offset=".6245" stop-color="#0000a8"/><stop offset=".6456" stop-color="#00009f"/><stop offset=".6666" stop-color="#00009f"/><stop offset=".6824" stop-color="#0000b0"/><stop offset=".7009" stop-color="#0000b0"/><stop offset=".7167" stop-color="#00009f"/><stop offset=".7351" stop-color="#00009b"/><stop offset=".7483" stop-color="#0000aa"/><stop offset=".7667" stop-color="#0000a6"/><stop offset=".7772" stop-color="#000098"/><stop offset=".7878" stop-color="#00008b"/><stop offset=".7956" stop-color="#000094"/><stop offset=".7983" stop-color="#000073"/><stop offset=".8088" stop-color="#000073"/><stop offset=".8114" stop-color="#00008d"/><stop offset=".8272" stop-color="#00008d"/><stop offset=".8325" stop-color="#000075"/><stop offset=".8483" stop-color="#000075"/><stop offset=".8536" stop-color="#000094"/><stop offset=".8746" stop-color="#000094"/><stop offset=".8799" stop-color="#000073"/><stop offset=".9062" stop-color="#000073"/><stop offset=".9115" stop-color="#00008d"/><stop offset=".9247" stop-color="#00008d"/><stop offset=".9299" stop-color="#000075"/><stop offset=".9484" stop-color="#000075"/><stop offset=".9536" stop-color="#00009b"/><stop offset=".9694" stop-color="#0000a7"/><stop offset=".9799" stop-color="#00009b"/><stop offset="1.0000" stop-color="#000098"/></linearGradient>
<linearGradient id="b18" gradientUnits="userSpaceOnUse" x1="0" y1="1773" x2="0" y2="2994"><stop offset=".0005" stop-color="#0000ba"/><stop offset=".0190" stop-color="#0000c5"/><stop offset=".0374" stop-color="#0000b8"/><stop offset=".0795" stop-color="#0000ba"/><stop offset=".1401" stop-color="#0000b8"/><stop offset=".1506" stop-color="#0000a3"/><stop offset=".1585" stop-color="#0000ca"/><stop offset=".2112" stop-color="#0000cc"/><stop offset=".2901" stop-color="#0000ca"/><stop offset=".3217" stop-color="#0000cd"/><stop offset=".3428" stop-color="#0000da"/><stop offset=".3691" stop-color="#0000d4"/><stop offset=".3902" stop-color="#0000c8"/><stop offset=".4086" stop-color="#0000bd"/><stop offset=".4165" stop-color="#0000af"/><stop offset=".4244" stop-color="#0000b4"/><stop offset=".4402" stop-color="#0000b4"/><stop offset=".4613" stop-color="#0000af"/><stop offset=".4876" stop-color="#0000a9"/><stop offset=".5139" stop-color="#0000ad"/><stop offset=".5429" stop-color="#0000ba"/><stop offset=".5666" stop-color="#0000ba"/><stop offset=".5850" stop-color="#0000af"/><stop offset=".6061" stop-color="#0000a7"/><stop offset=".6245" stop-color="#0000ad"/><stop offset=".6456" stop-color="#0000a3"/><stop offset=".6666" stop-color="#0000a3"/><stop offset=".6824" stop-color="#0000b6"/><stop offset=".7009" stop-color="#0000b6"/><stop offset=".7167" stop-color="#0000a3"/><stop offset=".7351" stop-color="#0000a0"/><stop offset=".7483" stop-color="#0000af"/><stop offset=".7667" stop-color="#0000ab"/><stop offset=".7772" stop-color="#00009c"/><stop offset=".7878" stop-color="#00008e"/><stop offset=".7956" stop-color="#000099"/><stop offset=".7983" stop-color="#000073"/><stop offset=".8088" stop-color="#000073"/><stop offset=".8114" stop-color="#000091"/><stop offset=".8272" stop-color="#000091"/><stop offset=".8325" stop-color="#000075"/><stop offset=".8483" stop-color="#000075"/><stop offset=".8536" stop-color="#000099"/><stop offset=".8746" stop-color="#000099"/><stop offset=".8799" stop-color="#000073"/><stop offset=".9062" stop-color="#000073"/><stop offset=".9115" stop-color="#000091"/><stop offset=".9247" stop-color="#000091"/><stop offset=".9299" stop-color="#000075"/><stop offset=".9484" stop-color="#000075"/><stop offset=".9536" stop-color="#0000a1"/><stop offset=".9694" stop-color="#0000ad"/><stop offset=".9799" stop-color="#0000a1"/><stop offset="1.0000" stop-color="#00009e"/></linearGradient>
<linearGradient id="b19" gradientUnits="userSpaceOnUse" x1="0" y1="1773" x2="0" y2="2994"><stop offset=".0005" stop-color="#0000bc"/><stop offset=".0190" stop-color="#0000c7"/><stop offset=".0374" stop-color="#0000ba"/><stop offset=".0795" stop-color="#0000bc"/><stop offset=".1401" stop-color="#0000ba"/><stop offset=".1506" stop-color="#0000a5"/><stop offset=".1585" stop-color="#0000cc"/><stop offset=".2112" stop-color="#0000ce"/><stop offset=".2901" stop-color="#0000cc"/><stop offset=".3217" stop-color="#0000d0"/><stop offset=".3428" stop-color="#0000dd"/><stop offset=".3691" stop-color="#0000d6"/><stop offset=".3902" stop-color="#0000ca"/><stop offset=".4086" stop-color="#0000bf"/><stop offset=".4165" stop-color="#0000b1"/><stop offset=".4244" stop-color="#0000b6"/><stop offset=".4402" stop-color="#0000b6"/><stop offset=".4613" stop-color="#0000b1"/><stop offset=".4876" stop-color="#0000ab"/><stop offset=".5139" stop-color="#0000af"/><stop offset=".5429" stop-color="#0000bc"/><stop offset=".5666" stop-color="#0000bc"/><stop offset=".5850" stop-color="#0000b1"/><stop offset=".6061" stop-color="#0000a9"/><stop offset=".6245" stop-color="#0000af"/><stop offset=".6456" stop-color="#0000a5"/><stop offset=".6666" stop-color="#0000a5"/><stop offset=".6824" stop-color="#0000b8"/><stop offset=".7009" stop-color="#0000b8"/><stop offset=".7167" stop-color="#0000a5"/><stop offset=".7351" stop-color="#0000a1"/><stop offset=".7483" stop-color="#0000b1"/><stop offset=".7667" stop-color="#0000ad"/><stop offset=".7772" stop-color="#00009d"/><stop offset=".7878" stop-color="#00008f"/><stop offset=".7956" stop-color="#000099"/><stop offset=".7983" stop-color="#000070"/><stop offset=".8088" stop-color="#000070"/><stop offset=".8114" stop-color="#000091"/><stop offset=".8272" stop-color="#000091"/><stop offset=".8325" stop-color="#000072"/><stop offset=".8483" stop-color="#000072"/><stop offset=".8536" stop-color="#000099"/><stop offset=".8746" stop-color="#000099"/><stop offset=".8799" stop-color="#000070"/><stop offset=".9062" stop-color="#000070"/><stop offset=".9115" stop-color="#000091"/><stop offset=".9247" stop-color="#000091"/><stop offset=".9299" stop-color="#000072"/><stop offset=".9484" stop-color="#000072"/><stop offset=".9536" stop-color="#0000a1"/><stop offset=".9694" stop-color="#0000ad"/><stop offset=".9799" stop-color="#0000a1"/><stop offset="1.0000" stop-color="#00009e"/></linearGradient>
<linearGradient id="b20" gradientUnits="userSpaceOnUse" x1="0" y1="1773" x2="0" y2="2994"><stop offset=".0005" stop-color="#0000b4"/><stop offset=".0190" stop-color="#0000be"/><stop offset=".0374" stop-color="#0000b2"/><stop offset=".0795" stop-color="#0000b4"/><stop offset=".1401" stop-color="#0000b2"/><stop offset=".1506" stop-color="#00009f"/><stop offset=".1585" stop-color="#0000c3"/><stop offset=".2112" stop-color="#0000c4"/><stop offset=".2901" stop-color="#0000c3"/><stop offset=".3217" stop-color="#0000c6"/><stop offset=".3428" stop-color="#0000d2"/><stop offset=".3691" stop-color="#0000cc"/><stop offset=".3902" stop-color="#0000c1"/><stop offset=".4086" stop-color="#0000b7"/><stop offset=".4165" stop-color="#0000aa"/><stop offset=".4244" stop-color="#0000af"/><stop offset=".4402" stop-color="#0000af"/><stop offset=".4613" stop-color="#0000aa"/><stop offset=".4876" stop-color="#0000a4"/><stop offset=".5139" stop-color="#0000a8"/><stop offset=".5429" stop-color="#0000b4"/><stop offset=".5666" stop-color="#0000b4"/><stop offset=".5850" stop-color="#0000aa"/><stop offset=".6061" stop-color="#0000a2"/><stop offset=".6245" stop-color="#0000a8"/><stop offset=".6456" stop-color="#00009f"/><stop offset=".6666" stop-color="#00009f"/><stop offset=".6824" stop-color="#0000b0"/><stop offset=".7009" stop-color="#0000b0"/><stop offset=".7167" stop-color="#00009f"/><stop offset=".7351" stop-color="#00009b"/><stop offset=".7483" stop-color="#0000aa"/><stop offset=".7667" stop-color="#0000a6"/><stop offset=".7772" stop-color="#000098"/><stop offset=".7878" stop-color="#00008b"/><stop offset=".7956" stop-color="#000091"/><stop offset=".7983" stop-color="#00006b"/><stop offset=".8088" stop-color="#00006b"/><stop offset=".8114" stop-color="#00008a"/><stop offset=".8272" stop-color="#00008a"/><stop offset=".8325" stop-color="#00006d"/><stop offset=".8483" stop-color="#00006d"/><stop offset=".8536" stop-color="#000091"/><stop offset=".8746" stop-color="#000091"/><stop offset=".8799" stop-color="#00006b"/><stop offset=".9062" stop-color="#00006b"/><stop offset=".9115" stop-color="#00008a"/><stop offset=".9247" stop-color="#00008a"/><stop offset=".9299" stop-color="#00006d"/><stop offset=".9484" stop-color="#00006d"/><stop offset=".9536" stop-color="#000099"/><stop offset=".9694" stop-color="#0000a4"/><stop offset=".9799" stop-color="#000099"/><stop offset="1.0000" stop-color="#000096"/></linearGradient>
<linearGradient id="b21" gradientUnits="userSpaceOnUse" x1="0" y1="1773" x2="0" y2="2994"><stop offset=".0005" stop-color="#0000a4"/><stop offset=".0190" stop-color="#0000ac"/><stop offset=".0374" stop-color="#0000a2"/><stop offset=".0795" stop-color="#0000a4"/><stop offset=".1401" stop-color="#0000a2"/><stop offset=".1506" stop-color="#000093"/><stop offset=".1585" stop-color="#0000b0"/><stop offset=".2112" stop-color="#0000b1"/><stop offset=".2901" stop-color="#0000b0"/><stop offset=".3217" stop-color="#0000b2"/><stop offset=".3428" stop-color="#0000bd"/><stop offset=".3691" stop-color="#0000b8"/><stop offset=".3902" stop-color="#0000ae"/><stop offset=".4086" stop-color="#0000a6"/><stop offset=".4165" stop-color="#00009b"/><stop offset=".4244" stop-color="#0000a0"/><stop offset=".4402" stop-color="#0000a0"/><stop offset=".4613" stop-color="#00009b"/><stop offset=".4876" stop-color="#000097"/><stop offset=".5139" stop-color="#00009a"/><stop offset=".5429" stop-color="#0000a4"/><stop offset=".5666" stop-color="#0000a4"/><stop offset=".5850" stop-color="#00009b"/><stop offset=".6061" stop-color="#000096"/><stop offset=".6245" stop-color="#00009a"/><stop offset=".6456" stop-color="#000093"/><stop offset=".6666" stop-color="#000093"/><stop offset=".6824" stop-color="#0000a1"/><stop offset=".7009" stop-color="#0000a1"/><stop offset=".7167" stop-color="#000093"/><stop offset=".7351" stop-color="#000090"/><stop offset=".7483" stop-color="#00009b"/><stop offset=".7667" stop-color="#000098"/><stop offset=".7772" stop-color="#00008c"/><stop offset=".7878" stop-color="#000081"/><stop offset=".7956" stop-color="#000085"/><stop offset=".7983" stop-color="#000066"/><stop offset=".8088" stop-color="#000066"/><stop offset=".8114" stop-color="#00007e"/><stop offset=".8272" stop-color="#00007e"/><stop offset=".8325" stop-color="#000068"/><stop offset=".8483" stop-color="#000068"/><stop offset=".8536" stop-color="#000085"/><stop offset=".8746" stop-color="#000085"/><stop offset=".8799" stop-color="#000066"/><stop offset=".9062" stop-color="#000066"/><stop offset=".9115" stop-color="#00007e"/><stop offset=".9247" stop-color="#00007e"/><stop offset=".9299" stop-color="#000068"/><stop offset=".9484" stop-color="#000068"/><stop offset=".9536" stop-color="#00008b"/><stop offset=".9694" stop-color="#000096"/><stop offset=".9799" stop-color="#00008b"/><stop offset="1.0000" stop-color="#000089"/></linearGradient>
<linearGradient id="b22" gradientUnits="userSpaceOnUse" x1="0" y1="1773" x2="0" y2="2994"><stop offset=".0005" stop-color="#00008b"/><stop offset=".0190" stop-color="#000090"/><stop offset=".0374" stop-color="#00008a"/><stop offset=".0795" stop-color="#00008b"/><stop offset=".1401" stop-color="#00008a"/><stop offset=".1506" stop-color="#00007f"/><stop offset=".1585" stop-color="#000093"/><stop offset=".2112" stop-color="#000094"/><stop offset=".2901" stop-color="#000093"/><stop offset=".3217" stop-color="#000094"/><stop offset=".3428" stop-color="#00009e"/><stop offset=".3691" stop-color="#000099"/><stop offset=".3902" stop-color="#000092"/><stop offset=".4086" stop-color="#00008d"/><stop offset=".4165" stop-color="#000086"/><stop offset=".4244" stop-color="#000088"/><stop offset=".4402" stop-color="#000088"/><stop offset=".4613" stop-color="#000086"/><stop offset=".4876" stop-color="#000082"/><stop offset=".5139" stop-color="#000085"/><stop offset=".5429" stop-color="#00008b"/><stop offset=".5666" stop-color="#00008b"/><stop offset=".5850" stop-color="#000086"/><stop offset=".6061" stop-color="#000081"/><stop offset=".6245" stop-color="#000085"/><stop offset=".6456" stop-color="#00007f"/><stop offset=".6666" stop-color="#00007f"/><stop offset=".6824" stop-color="#000089"/><stop offset=".7009" stop-color="#000089"/><stop offset=".7167" stop-color="#00007f"/><stop offset=".7351" stop-color="#00007d"/><stop offset=".7483" stop-color="#000086"/><stop offset=".7667" stop-color="#000084"/><stop offset=".7772" stop-color="#00007b"/><stop offset=".7878" stop-color="#000073"/><stop offset=".7956" stop-color="#000075"/><stop offset=".7983" stop-color="#000061"/><stop offset=".8088" stop-color="#000061"/><stop offset=".8114" stop-color="#00006f"/><stop offset=".8272" stop-color="#00006f"/><stop offset=".8325" stop-color="#000063"/><stop offset=".8483" stop-color="#000063"/><stop offset=".8536" stop-color="#000075"/><stop offset=".8746" stop-color="#000075"/><stop offset=".8799" stop-color="#000061"/><stop offset=".9062" stop-color="#000061"/><stop offset=".9115" stop-color="#00006f"/><stop offset=".9247" stop-color="#00006f"/><stop offset=".9299" stop-color="#000063"/><stop offset=".9484" stop-color="#000063"/><stop offset=".9536" stop-color="#00007b"/><stop offset=".9694" stop-color="#000085"/><stop offset=".9799" stop-color="#00007b"/><stop offset="1.0000" stop-color="#000079"/></linearGradient>
<linearGradient id="b23" gradientUnits="userSpaceOnUse" x1="0" y1="1773" x2="0" y2="2994"><stop offset=".0005" stop-color="#000072"/><stop offset=".0190" stop-color="#000075"/><stop offset=".0374" stop-color="#000072"/><stop offset=".0795" stop-color="#000072"/><stop offset=".1401" stop-color="#000072"/><stop offset=".1506" stop-color="#00006b"/><stop offset=".1585" stop-color="#000076"/><stop offset=".2112" stop-color="#000076"/><stop offset=".2901" stop-color="#000076"/><stop offset=".3217" stop-color="#000077"/><stop offset=".3428" stop-color="#00007e"/><stop offset=".3691" stop-color="#00007a"/><stop offset=".3902" stop-color="#000076"/><stop offset=".4086" stop-color="#000073"/><stop offset=".4165" stop-color="#00006f"/><stop offset=".4244" stop-color="#000071"/><stop offset=".4402" stop-color="#000071"/><stop offset=".4613" stop-color="#00006b"/><stop offset=".4876" stop-color="#000069"/><stop offset=".5139" stop-color="#00006b"/><stop offset=".5429" stop-color="#00006e"/><stop offset=".5666" stop-color="#00006e"/><stop offset=".5850" stop-color="#00006b"/><stop offset=".6061" stop-color="#000069"/><stop offset=".6245" stop-color="#00006b"/><stop offset=".6456" stop-color="#000068"/><stop offset=".6666" stop-color="#000068"/><stop offset=".6824" stop-color="#00006d"/><stop offset=".7009" stop-color="#00006d"/><stop offset=".7167" stop-color="#000068"/><stop offset=".7351" stop-color="#000067"/><stop offset=".7483" stop-color="#00006b"/><stop offset=".7667" stop-color="#00006a"/><stop offset=".7772" stop-color="#000065"/><stop offset=".7878" stop-color="#000060"/><stop offset=".7956" stop-color="#000066"/><stop offset=".7983" stop-color="#000047"/><stop offset=".8088" stop-color="#000047"/><stop offset=".8114" stop-color="#000061"/><stop offset=".8272" stop-color="#000061"/><stop offset=".8325" stop-color="#000049"/><stop offset=".8483" stop-color="#000049"/><stop offset=".8536" stop-color="#000066"/><stop offset=".8746" stop-color="#000066"/><stop offset=".8799" stop-color="#000047"/><stop offset=".9062" stop-color="#000047"/><stop offset=".9115" stop-color="#000061"/><stop offset=".9247" stop-color="#000061"/><stop offset=".9299" stop-color="#000049"/><stop offset=".9484" stop-color="#000049"/><stop offset=".9536" stop-color="#00006b"/><stop offset=".9694" stop-color="#000073"/><stop offset=".9799" stop-color="#00006b"/><stop offset="1.0000" stop-color="#000069"/></linearGradient>
<linearGradient id="b24" gradientUnits="userSpaceOnUse" x1="0" y1="1773" x2="0" y2="2994"><stop offset=".0005" stop-color="#00005d"/><stop offset=".0190" stop-color="#00005e"/><stop offset=".0374" stop-color="#00005d"/><stop offset=".0795" stop-color="#00005d"/><stop offset=".1401" stop-color="#00005d"/><stop offset=".1506" stop-color="#00005a"/><stop offset=".1585" stop-color="#00005e"/><stop offset=".2112" stop-color="#00005e"/><stop offset=".2901" stop-color="#00005e"/><stop offset=".3217" stop-color="#00005e"/><stop offset=".3428" stop-color="#000064"/><stop offset=".3691" stop-color="#000061"/><stop offset=".3902" stop-color="#00005e"/><stop offset=".4086" stop-color="#00005d"/><stop offset=".4165" stop-color="#00005b"/><stop offset=".4244" stop-color="#00005c"/><stop offset=".4402" stop-color="#00005c"/><stop offset=".4613" stop-color="#000057"/><stop offset=".4876" stop-color="#000057"/><stop offset=".5139" stop-color="#000057"/><stop offset=".5429" stop-color="#000058"/><stop offset=".5666" stop-color="#000058"/><stop offset=".5850" stop-color="#000057"/><stop offset=".6061" stop-color="#000056"/><stop offset=".6245" stop-color="#000057"/><stop offset=".6456" stop-color="#000056"/><stop offset=".6666" stop-color="#000056"/><stop offset=".6824" stop-color="#000058"/><stop offset=".7009" stop-color="#000058"/><stop offset=".7167" stop-color="#000056"/><stop offset=".7351" stop-color="#000055"/><stop offset=".7483" stop-color="#000057"/><stop offset=".7667" stop-color="#000057"/><stop offset=".7772" stop-color="#000055"/><stop offset=".7878" stop-color="#000052"/><stop offset=".7956" stop-color="#000052"/><stop offset=".7983" stop-color="#000026"/><stop offset=".8088" stop-color="#000026"/><stop offset=".8114" stop-color="#00004e"/><stop offset=".8272" stop-color="#00004e"/><stop offset=".8325" stop-color="#000027"/><stop offset=".8483" stop-color="#000027"/><stop offset=".8536" stop-color="#000052"/><stop offset=".8746" stop-color="#000052"/><stop offset=".8799" stop-color="#000026"/><stop offset=".9062" stop-color="#000026"/><stop offset=".9115" stop-color="#00004e"/><stop offset=".9247" stop-color="#00004e"/><stop offset=".9299" stop-color="#000027"/><stop offset=".9484" stop-color="#000027"/><stop offset=".9536" stop-color="#000056"/><stop offset=".9694" stop-color="#00005c"/><stop offset=".9799" stop-color="#000056"/><stop offset="1.0000" stop-color="#000054"/></linearGradient>
<linearGradient id="b25" gradientUnits="userSpaceOnUse" x1="0" y1="1773" x2="0" y2="2994"><stop offset=".0005" stop-color="#000040"/><stop offset=".0190" stop-color="#00003f"/><stop offset=".0374" stop-color="#000040"/><stop offset=".0795" stop-color="#000040"/><stop offset=".1401" stop-color="#000040"/><stop offset=".1506" stop-color="#000041"/><stop offset=".1585" stop-color="#00003e"/><stop offset=".2112" stop-color="#00003e"/><stop offset=".2901" stop-color="#00003e"/><stop offset=".3217" stop-color="#00003e"/><stop offset=".3428" stop-color="#000042"/><stop offset=".3691" stop-color="#000040"/><stop offset=".3902" stop-color="#00003e"/><stop offset=".4086" stop-color="#000040"/><stop offset=".4165" stop-color="#000041"/><stop offset=".4244" stop-color="#000040"/><stop offset=".4402" stop-color="#000040"/><stop offset=".4613" stop-color="#000045"/><stop offset=".4876" stop-color="#000045"/><stop offset=".5139" stop-color="#000045"/><stop offset=".5429" stop-color="#000044"/><stop offset=".5666" stop-color="#000044"/><stop offset=".5850" stop-color="#000045"/><stop offset=".6061" stop-color="#000045"/><stop offset=".6245" stop-color="#000045"/><stop offset=".6456" stop-color="#000045"/><stop offset=".6666" stop-color="#000045"/><stop offset=".6824" stop-color="#000045"/><stop offset=".7009" stop-color="#000045"/><stop offset=".7167" stop-color="#000045"/><stop offset=".7351" stop-color="#000045"/><stop offset=".7483" stop-color="#000045"/><stop offset=".7667" stop-color="#000045"/><stop offset=".7772" stop-color="#000045"/><stop offset=".7878" stop-color="#000044"/><stop offset=".7956" stop-color="#000038"/><stop offset=".7983" stop-color="#000026"/><stop offset=".8088" stop-color="#000026"/><stop offset=".8114" stop-color="#000035"/><stop offset=".8272" stop-color="#000035"/><stop offset=".8325" stop-color="#000027"/><stop offset=".8483" stop-color="#000027"/><stop offset=".8536" stop-color="#000038"/><stop offset=".8746" stop-color="#000038"/><stop offset=".8799" stop-color="#000026"/><stop offset=".9062" stop-color="#000026"/><stop offset=".9115" stop-color="#000035"/><stop offset=".9247" stop-color="#000035"/><stop offset=".9299" stop-color="#000027"/><stop offset=".9484" stop-color="#000027"/><stop offset=".9536" stop-color="#00003b"/><stop offset=".9694" stop-color="#00003f"/><stop offset=".9799" stop-color="#00003b"/><stop offset="1.0000" stop-color="#00003a"/></linearGradient>
<linearGradient id="b26" gradientUnits="userSpaceOnUse" x1="0" y1="1773" x2="0" y2="2994"><stop offset=".0005" stop-color="#000024"/><stop offset=".0190" stop-color="#000022"/><stop offset=".0374" stop-color="#000024"/><stop offset=".0795" stop-color="#000024"/><stop offset=".1401" stop-color="#000024"/><stop offset=".1506" stop-color="#000027"/><stop offset=".1585" stop-color="#000021"/><stop offset=".2112" stop-color="#000020"/><stop offset=".2901" stop-color="#000021"/><stop offset=".3217" stop-color="#000020"/><stop offset=".3428" stop-color="#000022"/><stop offset=".3691" stop-color="#000021"/><stop offset=".3902" stop-color="#000021"/><stop offset=".4086" stop-color="#000023"/><stop offset=".4165" stop-color="#000026"/><stop offset=".4244" stop-color="#000025"/><stop offset=".4402" stop-color="#000025"/><stop offset=".4613" stop-color="#000036"/><stop offset=".4876" stop-color="#000036"/><stop offset=".5139" stop-color="#000036"/><stop offset=".5429" stop-color="#000034"/><stop offset=".5666" stop-color="#000034"/><stop offset=".5850" stop-color="#000036"/><stop offset=".6061" stop-color="#000036"/><stop offset=".6245" stop-color="#000036"/><stop offset=".6456" stop-color="#000037"/><stop offset=".6666" stop-color="#000037"/><stop offset=".6824" stop-color="#000035"/><stop offset=".7009" stop-color="#000035"/><stop offset=".7167" stop-color="#000037"/><stop offset=".7351" stop-color="#000037"/><stop offset=".7483" stop-color="#000036"/><stop offset=".7667" stop-color="#000036"/><stop offset=".7772" stop-color="#000037"/><stop offset=".7878" stop-color="#000038"/><stop offset=".7956" stop-color="#000033"/><stop offset=".7983" stop-color="#00003d"/><stop offset=".8088" stop-color="#00003d"/><stop offset=".8114" stop-color="#000030"/><stop offset=".8272" stop-color="#000030"/><stop offset=".8325" stop-color="#00003e"/><stop offset=".8483" stop-color="#00003e"/><stop offset=".8536" stop-color="#000033"/><stop offset=".8746" stop-color="#000033"/><stop offset=".8799" stop-color="#00003d"/><stop offset=".9062" stop-color="#00003d"/><stop offset=".9115" stop-color="#000030"/><stop offset=".9247" stop-color="#000030"/><stop offset=".9299" stop-color="#00003e"/><stop offset=".9484" stop-color="#00003e"/><stop offset=".9536" stop-color="#000036"/><stop offset=".9694" stop-color="#00003a"/><stop offset=".9799" stop-color="#000036"/><stop offset="1.0000" stop-color="#000035"/></linearGradient>
<linearGradient id="b27" gradientUnits="userSpaceOnUse" x1="0" y1="1773" x2="0" y2="2994"><stop offset=".0005" stop-color="#00002d"/><stop offset=".0190" stop-color="#00002c"/><stop offset=".0374" stop-color="#00002e"/><stop offset=".0795" stop-color="#00002d"/><stop offset=".1401" stop-color="#00002e"/><stop offset=".1506" stop-color="#000030"/><stop offset=".1585" stop-color="#00002b"/><stop offset=".2112" stop-color="#00002a"/><stop offset=".2901" stop-color="#00002b"/><stop offset=".3217" stop-color="#00002a"/><stop offset=".3428" stop-color="#00002d"/><stop offset=".3691" stop-color="#00002b"/><stop offset=".3902" stop-color="#00002b"/><stop offset=".4086" stop-color="#00002d"/><stop offset=".4165" stop-color="#00002f"/><stop offset=".4244" stop-color="#00002e"/><stop offset=".4402" stop-color="#00002e"/><stop offset=".4613" stop-color="#000043"/><stop offset=".4876" stop-color="#000043"/><stop offset=".5139" stop-color="#000043"/><stop offset=".5429" stop-color="#000042"/><stop offset=".5666" stop-color="#000042"/><stop offset=".5850" stop-color="#000043"/><stop offset=".6061" stop-color="#000043"/><stop offset=".6245" stop-color="#000043"/><stop offset=".6456" stop-color="#000043"/><stop offset=".6666" stop-color="#000043"/><stop offset=".6824" stop-color="#000042"/><stop offset=".7009" stop-color="#000042"/><stop offset=".7167" stop-color="#000043"/><stop offset=".7351" stop-color="#000043"/><stop offset=".7483" stop-color="#000043"/><stop offset=".7667" stop-color="#000043"/><stop offset=".7772" stop-color="#000043"/><stop offset=".7878" stop-color="#000042"/><stop offset=".7956" stop-color="#000047"/><stop offset=".7983" stop-color="#00004c"/><stop offset=".8088" stop-color="#00004c"/><stop offset=".8114" stop-color="#000044"/><stop offset=".8272" stop-color="#000044"/><stop offset=".8325" stop-color="#00004e"/><stop offset=".8483" stop-color="#00004e"/><stop offset=".8536" stop-color="#000047"/><stop offset=".8746" stop-color="#000047"/><stop offset=".8799" stop-color="#00004c"/><stop offset=".9062" stop-color="#00004c"/><stop offset=".9115" stop-color="#000044"/><stop offset=".9247" stop-color="#000044"/><stop offset=".9299" stop-color="#00004e"/><stop offset=".9484" stop-color="#00004e"/><stop offset=".9536" stop-color="#00004b"/><stop offset=".9694" stop-color="#000051"/><stop offset=".9799" stop-color="#00004b"/><stop offset="1.0000" stop-color="#00004a"/></linearGradient>
<linearGradient id="b28" gradientUnits="userSpaceOnUse" x1="0" y1="1773" x2="0" y2="2994"><stop offset=".0005" stop-color="#000044"/><stop offset=".0190" stop-color="#000044"/><stop offset=".0374" stop-color="#000044"/><stop offset=".0795" stop-color="#000044"/><stop offset=".1401" stop-color="#000044"/><stop offset=".1506" stop-color="#000045"/><stop offset=".1585" stop-color="#000043"/><stop offset=".2112" stop-color="#000043"/><stop offset=".2901" stop-color="#000043"/><stop offset=".3217" stop-color="#000043"/><stop offset=".3428" stop-color="#000047"/><stop offset=".3691" stop-color="#000045"/><stop offset=".3902" stop-color="#000043"/><stop offset=".4086" stop-color="#000044"/><stop offset=".4165" stop-color="#000045"/><stop offset=".4244" stop-color="#000045"/><stop offset=".4402" stop-color="#000045"/><stop offset=".4613" stop-color="#00004f"/><stop offset=".4876" stop-color="#00004f"/><stop offset=".5139" stop-color="#00004f"/><stop offset=".5429" stop-color="#000050"/><stop offset=".5666" stop-color="#000050"/><stop offset=".5850" stop-color="#00004f"/><stop offset=".6061" stop-color="#00004f"/><stop offset=".6245" stop-color="#00004f"/><stop offset=".6456" stop-color="#00004e"/><stop offset=".6666" stop-color="#00004e"/><stop offset=".6824" stop-color="#00004f"/><stop offset=".7009" stop-color="#00004f"/><stop offset=".7167" stop-color="#00004e"/><stop offset=".7351" stop-color="#00004e"/><stop offset=".7483" stop-color="#00004f"/><stop offset=".7667" stop-color="#00004f"/><stop offset=".7772" stop-color="#00004e"/><stop offset=".7878" stop-color="#00004c"/><stop offset=".7956" stop-color="#000059"/><stop offset=".7983" stop-color="#000059"/><stop offset=".8088" stop-color="#000059"/><stop offset=".8114" stop-color="#000055"/><stop offset=".8272" stop-color="#000055"/><stop offset=".8325" stop-color="#00005b"/><stop offset=".8483" stop-color="#00005b"/><stop offset=".8536" stop-color="#000059"/><stop offset=".8746" stop-color="#000059"/><stop offset=".8799" stop-color="#000059"/><stop offset=".9062" stop-color="#000059"/><stop offset=".9115" stop-color="#000055"/><stop offset=".9247" stop-color="#000055"/><stop offset=".9299" stop-color="#00005b"/><stop offset=".9484" stop-color="#00005b"/><stop offset=".9536" stop-color="#00005e"/><stop offset=".9694" stop-color="#000065"/><stop offset=".9799" stop-color="#00005e"/><stop offset="1.0000" stop-color="#00005c"/></linearGradient>
<linearGradient id="b29" gradientUnits="userSpaceOnUse" x1="0" y1="1773" x2="0" y2="2994"><stop offset=".0005" stop-color="#000058"/><stop offset=".0190" stop-color="#000059"/><stop offset=".0374" stop-color="#000058"/><stop offset=".0795" stop-color="#000058"/><stop offset=".1401" stop-color="#000058"/><stop offset=".1506" stop-color="#000056"/><stop offset=".1585" stop-color="#000059"/><stop offset=".2112" stop-color="#000059"/><stop offset=".2901" stop-color="#000059"/><stop offset=".3217" stop-color="#000059"/><stop offset=".3428" stop-color="#00005f"/><stop offset=".3691" stop-color="#00005c"/><stop offset=".3902" stop-color="#000059"/><stop offset=".4086" stop-color="#000059"/><stop offset=".4165" stop-color="#000057"/><stop offset=".4244" stop-color="#000058"/><stop offset=".4402" stop-color="#000058"/><stop offset=".4613" stop-color="#000059"/><stop offset=".4876" stop-color="#000059"/><stop offset=".5139" stop-color="#000059"/><stop offset=".5429" stop-color="#00005b"/><stop offset=".5666" stop-color="#00005b"/><stop offset=".5850" stop-color="#000059"/><stop offset=".6061" stop-color="#000058"/><stop offset=".6245" stop-color="#000059"/><stop offset=".6456" stop-color="#000058"/><stop offset=".6666" stop-color="#000058"/><stop offset=".6824" stop-color="#00005a"/><stop offset=".7009" stop-color="#00005a"/><stop offset=".7167" stop-color="#000058"/><stop offset=".7351" stop-color="#000057"/><stop offset=".7483" stop-color="#000059"/><stop offset=".7667" stop-color="#000059"/><stop offset=".7772" stop-color="#000056"/><stop offset=".7878" stop-color="#000053"/><stop offset=".7956" stop-color="#000061"/><stop offset=".7983" stop-color="#000061"/><stop offset=".8088" stop-color="#000061"/><stop offset=".8114" stop-color="#00005c"/><stop offset=".8272" stop-color="#00005c"/><stop offset=".8325" stop-color="#000063"/><stop offset=".8483" stop-color="#000063"/><stop offset=".8536" stop-color="#000061"/><stop offset=".8746" stop-color="#000061"/><stop offset=".8799" stop-color="#000061"/><stop offset=".9062" stop-color="#000061"/><stop offset=".9115" stop-color="#00005c"/><stop offset=".9247" stop-color="#00005c"/><stop offset=".9299" stop-color="#000063"/><stop offset=".9484" stop-color="#000063"/><stop offset=".9536" stop-color="#000066"/><stop offset=".9694" stop-color="#00006d"/><stop offset=".9799" stop-color="#000066"/><stop offset="1.0000" stop-color="#000064"/></linearGradient>
<linearGradient id="b30" gradientUnits="userSpaceOnUse" x1="0" y1="1773" x2="0" y2="2994"><stop offset=".0005" stop-color="#000067"/><stop offset=".0190" stop-color="#000069"/><stop offset=".0374" stop-color="#000067"/><stop offset=".0795" stop-color="#000067"/><stop offset=".1401" stop-color="#000067"/><stop offset=".1506" stop-color="#000063"/><stop offset=".1585" stop-color="#00006a"/><stop offset=".2112" stop-color="#00006a"/><stop offset=".2901" stop-color="#00006a"/><stop offset=".3217" stop-color="#00006a"/><stop offset=".3428" stop-color="#000071"/><stop offset=".3691" stop-color="#00006e"/><stop offset=".3902" stop-color="#00006a"/><stop offset=".4086" stop-color="#000068"/><stop offset=".4165" stop-color="#000065"/><stop offset=".4244" stop-color="#000066"/><stop offset=".4402" stop-color="#000066"/><stop offset=".4613" stop-color="#000065"/><stop offset=".4876" stop-color="#000064"/><stop offset=".5139" stop-color="#000065"/><stop offset=".5429" stop-color="#000067"/><stop offset=".5666" stop-color="#000067"/><stop offset=".5850" stop-color="#000065"/><stop offset=".6061" stop-color="#000063"/><stop offset=".6245" stop-color="#000065"/><stop offset=".6456" stop-color="#000063"/><stop offset=".6666" stop-color="#000063"/><stop offset=".6824" stop-color="#000067"/><stop offset=".7009" stop-color="#000067"/><stop offset=".7167" stop-color="#000063"/><stop offset=".7351" stop-color="#000061"/><stop offset=".7483" stop-color="#000065"/><stop offset=".7667" stop-color="#000064"/><stop offset=".7772" stop-color="#000060"/><stop offset=".7878" stop-color="#00005c"/><stop offset=".7956" stop-color="#00006b"/><stop offset=".7983" stop-color="#000066"/><stop offset=".8088" stop-color="#000066"/><stop offset=".8114" stop-color="#000066"/><stop offset=".8272" stop-color="#000066"/><stop offset=".8325" stop-color="#000068"/><stop offset=".8483" stop-color="#000068"/><stop offset=".8536" stop-color="#00006b"/><stop offset=".8746" stop-color="#00006b"/><stop offset=".8799" stop-color="#000066"/><stop offset=".9062" stop-color="#000066"/><stop offset=".9115" stop-color="#000066"/><stop offset=".9247" stop-color="#000066"/><stop offset=".9299" stop-color="#000068"/><stop offset=".9484" stop-color="#000068"/><stop offset=".9536" stop-color="#000070"/><stop offset=".9694" stop-color="#000079"/><stop offset=".9799" stop-color="#000070"/><stop offset="1.0000" stop-color="#00006e"/></linearGradient>
<linearGradient id="b31" gradientUnits="userSpaceOnUse" x1="0" y1="1773" x2="0" y2="2994"><stop offset=".0005" stop-color="#000076"/><stop offset=".0190" stop-color="#000079"/><stop offset=".0374" stop-color="#000076"/><stop offset=".0795" stop-color="#000076"/><stop offset=".1401" stop-color="#000076"/><stop offset=".1506" stop-color="#00006f"/><stop offset=".1585" stop-color="#00007b"/><stop offset=".2112" stop-color="#00007b"/><stop offset=".2901" stop-color="#00007b"/><stop offset=".3217" stop-color="#00007c"/><stop offset=".3428" stop-color="#000083"/><stop offset=".3691" stop-color="#000080"/><stop offset=".3902" stop-color="#00007a"/><stop offset=".4086" stop-color="#000077"/><stop offset=".4165" stop-color="#000073"/><stop offset=".4244" stop-color="#000075"/><stop offset=".4402" stop-color="#000075"/><stop offset=".4613" stop-color="#000073"/><stop offset=".4876" stop-color="#000071"/><stop offset=".5139" stop-color="#000072"/><stop offset=".5429" stop-color="#000076"/><stop offset=".5666" stop-color="#000076"/><stop offset=".5850" stop-color="#000073"/><stop offset=".6061" stop-color="#000070"/><stop offset=".6245" stop-color="#000072"/><stop offset=".6456" stop-color="#00006f"/><stop offset=".6666" stop-color="#00006f"/><stop offset=".6824" stop-color="#000075"/><stop offset=".7009" stop-color="#000075"/><stop offset=".7167" stop-color="#00006f"/><stop offset=".7351" stop-color="#00006d"/><stop offset=".7483" stop-color="#000073"/><stop offset=".7667" stop-color="#000071"/><stop offset=".7772" stop-color="#00006c"/><stop offset=".7878" stop-color="#000066"/><stop offset=".7956" stop-color="#000075"/><stop offset=".7983" stop-color="#000069"/><stop offset=".8088" stop-color="#000069"/><stop offset=".8114" stop-color="#00006f"/><stop offset=".8272" stop-color="#00006f"/><stop offset=".8325" stop-color="#00006b"/><stop offset=".8483" stop-color="#00006b"/><stop offset=".8536" stop-color="#000075"/><stop offset=".8746" stop-color="#000075"/><stop offset=".8799" stop-color="#000069"/><stop offset=".9062" stop-color="#000069"/><stop offset=".9115" stop-color="#00006f"/><stop offset=".9247" stop-color="#00006f"/><stop offset=".9299" stop-color="#00006b"/><stop offset=".9484" stop-color="#00006b"/><stop offset=".9536" stop-color="#00007b"/><stop offset=".9694" stop-color="#000085"/><stop offset=".9799" stop-color="#00007b"/><stop offset="1.0000" stop-color="#000079"/></linearGradient>
<linearGradient id="b32" gradientUnits="userSpaceOnUse" x1="0" y1="1773" x2="0" y2="2994"><stop offset=".0005" stop-color="#000085"/><stop offset=".0190" stop-color="#00008a"/><stop offset=".0374" stop-color="#000084"/><stop offset=".0795" stop-color="#000085"/><stop offset=".1401" stop-color="#000084"/><stop offset=".1506" stop-color="#00007a"/><stop offset=".1585" stop-color="#00008c"/><stop offset=".2112" stop-color="#00008c"/><stop offset=".2901" stop-color="#00008c"/><stop offset=".3217" stop-color="#00008d"/><stop offset=".3428" stop-color="#000096"/><stop offset=".3691" stop-color="#000091"/><stop offset=".3902" stop-color="#00008b"/><stop offset=".4086" stop-color="#000087"/><stop offset=".4165" stop-color="#000080"/><stop offset=".4244" stop-color="#000083"/><stop offset=".4402" stop-color="#000083"/><stop offset=".4613" stop-color="#000080"/><stop offset=".4876" stop-color="#00007d"/><stop offset=".5139" stop-color="#00007f"/><stop offset=".5429" stop-color="#000085"/><stop offset=".5666" stop-color="#000085"/><stop offset=".5850" stop-color="#000080"/><stop offset=".6061" stop-color="#00007c"/><stop offset=".6245" stop-color="#00007f"/><stop offset=".6456" stop-color="#00007a"/><stop offset=".6666" stop-color="#00007a"/><stop offset=".6824" stop-color="#000083"/><stop offset=".7009" stop-color="#000083"/><stop offset=".7167" stop-color="#00007a"/><stop offset=".7351" stop-color="#000078"/><stop offset=".7483" stop-color="#000080"/><stop offset=".7667" stop-color="#00007e"/><stop offset=".7772" stop-color="#000076"/><stop offset=".7878" stop-color="#00006f"/><stop offset=".7956" stop-color="#000080"/><stop offset=".7983" stop-color="#00006e"/><stop offset=".8088" stop-color="#00006e"/><stop offset=".8114" stop-color="#000079"/><stop offset=".8272" stop-color="#000079"/><stop offset=".8325" stop-color="#000070"/><stop offset=".8483" stop-color="#000070"/><stop offset=".8536" stop-color="#000080"/><stop offset=".8746" stop-color="#000080"/><stop offset=".8799" stop-color="#00006e"/><stop offset=".9062" stop-color="#00006e"/><stop offset=".9115" stop-color="#000079"/><stop offset=".9247" stop-color="#000079"/><stop offset=".9299" stop-color="#000070"/><stop offset=".9484" stop-color="#000070"/><stop offset=".9536" stop-color="#000086"/><stop offset=".9694" stop-color="#000090"/><stop offset=".9799" stop-color="#000086"/><stop offset="1.0000" stop-color="#000083"/></linearGradient>
<linearGradient id="b33" gradientUnits="userSpaceOnUse" x1="0" y1="1773" x2="0" y2="2994"><stop offset=".0005" stop-color="#000091"/><stop offset=".0190" stop-color="#000097"/><stop offset=".0374" stop-color="#000090"/><stop offset=".0795" stop-color="#000091"/><stop offset=".1401" stop-color="#000090"/><stop offset=".1506" stop-color="#000084"/><stop offset=".1585" stop-color="#00009a"/><stop offset=".2112" stop-color="#00009b"/><stop offset=".2901" stop-color="#00009a"/><stop offset=".3217" stop-color="#00009c"/><stop offset=".3428" stop-color="#0000a5"/><stop offset=".3691" stop-color="#0000a1"/><stop offset=".3902" stop-color="#000099"/><stop offset=".4086" stop-color="#000093"/><stop offset=".4165" stop-color="#00008b"/><stop offset=".4244" stop-color="#00008e"/><stop offset=".4402" stop-color="#00008e"/><stop offset=".4613" stop-color="#00008b"/><stop offset=".4876" stop-color="#000088"/><stop offset=".5139" stop-color="#00008a"/><stop offset=".5429" stop-color="#000091"/><stop offset=".5666" stop-color="#000091"/><stop offset=".5850" stop-color="#00008b"/><stop offset=".6061" stop-color="#000087"/><stop offset=".6245" stop-color="#00008a"/><stop offset=".6456" stop-color="#000084"/><stop offset=".6666" stop-color="#000084"/><stop offset=".6824" stop-color="#00008f"/><stop offset=".7009" stop-color="#00008f"/><stop offset=".7167" stop-color="#000084"/><stop offset=".7351" stop-color="#000082"/><stop offset=".7483" stop-color="#00008b"/><stop offset=".7667" stop-color="#000089"/><stop offset=".7772" stop-color="#00007f"/><stop offset=".7878" stop-color="#000076"/><stop offset=".7956" stop-color="#000087"/><stop offset=".7983" stop-color="#000073"/><stop offset=".8088" stop-color="#000073"/><stop offset=".8114" stop-color="#000080"/><stop offset=".8272" stop-color="#000080"/><stop offset=".8325" stop-color="#000075"/><stop offset=".8483" stop-color="#000075"/><stop offset=".8536" stop-color="#000087"/><stop offset=".8746" stop-color="#000087"/><stop offset=".8799" stop-color="#000073"/><stop offset=".9062" stop-color="#000073"/><stop offset=".9115" stop-color="#000080"/><stop offset=".9247" stop-color="#000080"/><stop offset=".9299" stop-color="#000075"/><stop offset=".9484" stop-color="#000075"/><stop offset=".9536" stop-color="#00008e"/><stop offset=".9694" stop-color="#000099"/><stop offset=".9799" stop-color="#00008e"/><stop offset="1.0000" stop-color="#00008b"/></linearGradient>
<linearGradient id="b34" gradientUnits="userSpaceOnUse" x1="0" y1="1773" x2="0" y2="2994"><stop offset=".0005" stop-color="#0000a0"/><stop offset=".0190" stop-color="#0000a7"/><stop offset=".0374" stop-color="#00009e"/><stop offset=".0795" stop-color="#0000a0"/><stop offset=".1401" stop-color="#00009e"/><stop offset=".1506" stop-color="#00008f"/><stop offset=".1585" stop-color="#0000ab"/><stop offset=".2112" stop-color="#0000ac"/><stop offset=".2901" stop-color="#0000ab"/><stop offset=".3217" stop-color="#0000ad"/><stop offset=".3428" stop-color="#0000b8"/><stop offset=".3691" stop-color="#0000b2"/><stop offset=".3902" stop-color="#0000aa"/><stop offset=".4086" stop-color="#0000a2"/><stop offset=".4165" stop-color="#000098"/><stop offset=".4244" stop-color="#00009c"/><stop offset=".4402" stop-color="#00009c"/><stop offset=".4613" stop-color="#000098"/><stop offset=".4876" stop-color="#000094"/><stop offset=".5139" stop-color="#000096"/><stop offset=".5429" stop-color="#0000a0"/><stop offset=".5666" stop-color="#0000a0"/><stop offset=".5850" stop-color="#000098"/><stop offset=".6061" stop-color="#000092"/><stop offset=".6245" stop-color="#000096"/><stop offset=".6456" stop-color="#00008f"/><stop offset=".6666" stop-color="#00008f"/><stop offset=".6824" stop-color="#00009d"/><stop offset=".7009" stop-color="#00009d"/><stop offset=".7167" stop-color="#00008f"/><stop offset=".7351" stop-color="#00008d"/><stop offset=".7483" stop-color="#000098"/><stop offset=".7667" stop-color="#000095"/><stop offset=".7772" stop-color="#00008a"/><stop offset=".7878" stop-color="#00007f"/><stop offset=".7956" stop-color="#00008c"/><stop offset=".7983" stop-color="#000075"/><stop offset=".8088" stop-color="#000075"/><stop offset=".8114" stop-color="#000085"/><stop offset=".8272" stop-color="#000085"/><stop offset=".8325" stop-color="#000078"/><stop offset=".8483" stop-color="#000078"/><stop offset=".8536" stop-color="#00008c"/><stop offset=".8746" stop-color="#00008c"/><stop offset=".8799" stop-color="#000075"/><stop offset=".9062" stop-color="#000075"/><stop offset=".9115" stop-color="#000085"/><stop offset=".9247" stop-color="#000085"/><stop offset=".9299" stop-color="#000078"/><stop offset=".9484" stop-color="#000078"/><stop offset=".9536" stop-color="#000093"/><stop offset=".9694" stop-color="#00009e"/><stop offset=".9799" stop-color="#000093"/><stop offset="1.0000" stop-color="#000090"/></linearGradient>
<linearGradient id="b35" gradientUnits="userSpaceOnUse" x1="0" y1="1773" x2="0" y2="2994"><stop offset=".0005" stop-color="#0000a4"/><stop offset=".0190" stop-color="#0000ac"/><stop offset=".0374" stop-color="#0000a2"/><stop offset=".0795" stop-color="#0000a4"/><stop offset=".1401" stop-color="#0000a2"/><stop offset=".1506" stop-color="#000093"/><stop offset=".1585" stop-color="#0000b0"/><stop offset=".2112" stop-color="#0000b1"/><stop offset=".2901" stop-color="#0000b0"/><stop offset=".3217" stop-color="#0000b2"/><stop offset=".3428" stop-color="#0000bd"/><stop offset=".3691" stop-color="#0000b8"/><stop offset=".3902" stop-color="#0000ae"/><stop offset=".4086" stop-color="#0000a6"/><stop offset=".4165" stop-color="#00009b"/><stop offset=".4244" stop-color="#0000a0"/><stop offset=".4402" stop-color="#0000a0"/><stop offset=".4613" stop-color="#00009b"/><stop offset=".4876" stop-color="#000097"/><stop offset=".5139" stop-color="#00009a"/><stop offset=".5429" stop-color="#0000a4"/><stop offset=".5666" stop-color="#0000a4"/><stop offset=".5850" stop-color="#00009b"/><stop offset=".6061" stop-color="#000096"/><stop offset=".6245" stop-color="#00009a"/><stop offset=".6456" stop-color="#000093"/><stop offset=".6666" stop-color="#000093"/><stop offset=".6824" stop-color="#0000a1"/><stop offset=".7009" stop-color="#0000a1"/><stop offset=".7167" stop-color="#000093"/><stop offset=".7351" stop-color="#000090"/><stop offset=".7483" stop-color="#00009b"/><stop offset=".7667" stop-color="#000098"/><stop offset=".7772" stop-color="#00008c"/><stop offset=".7878" stop-color="#000081"/><stop offset=".7956" stop-color="#00008c"/><stop offset=".7983" stop-color="#000073"/><stop offset=".8088" stop-color="#000073"/><stop offset=".8114" stop-color="#000085"/><stop offset=".8272" stop-color="#000085"/><stop offset=".8325" stop-color="#000075"/><stop offset=".8483" stop-color="#000075"/><stop offset=".8536" stop-color="#00008c"/><stop offset=".8746" stop-color="#00008c"/><stop offset=".8799" stop-color="#000073"/><stop offset=".9062" stop-color="#000073"/><stop offset=".9115" stop-color="#000085"/><stop offset=".9247" stop-color="#000085"/><stop offset=".9299" stop-color="#000075"/><stop offset=".9484" stop-color="#000075"/><stop offset=".9536" stop-color="#000093"/><stop offset=".9694" stop-color="#00009e"/><stop offset=".9799" stop-color="#000093"/><stop offset="1.0000" stop-color="#000090"/></linearGradient>
<linearGradient id="b36" gradientUnits="userSpaceOnUse" x1="0" y1="1773" x2="0" y2="2994"><stop offset=".0005" stop-color="#00009c"/><stop offset=".0190" stop-color="#0000a3"/><stop offset=".0374" stop-color="#00009a"/><stop offset=".0795" stop-color="#00009c"/><stop offset=".1401" stop-color="#00009a"/><stop offset=".1506" stop-color="#00008c"/><stop offset=".1585" stop-color="#0000a6"/><stop offset=".2112" stop-color="#0000a7"/><stop offset=".2901" stop-color="#0000a6"/><stop offset=".3217" stop-color="#0000a8"/><stop offset=".3428" stop-color="#0000b3"/><stop offset=".3691" stop-color="#0000ad"/><stop offset=".3902" stop-color="#0000a5"/><stop offset=".4086" stop-color="#00009e"/><stop offset=".4165" stop-color="#000094"/><stop offset=".4244" stop-color="#000098"/><stop offset=".4402" stop-color="#000098"/><stop offset=".4613" stop-color="#000094"/><stop offset=".4876" stop-color="#000090"/><stop offset=".5139" stop-color="#000093"/><stop offset=".5429" stop-color="#00009c"/><stop offset=".5666" stop-color="#00009c"/><stop offset=".5850" stop-color="#000094"/><stop offset=".6061" stop-color="#00008f"/><stop offset=".6245" stop-color="#000093"/><stop offset=".6456" stop-color="#00008c"/><stop offset=".6666" stop-color="#00008c"/><stop offset=".6824" stop-color="#000099"/><stop offset=".7009" stop-color="#000099"/><stop offset=".7167" stop-color="#00008c"/><stop offset=".7351" stop-color="#000089"/><stop offset=".7483" stop-color="#000094"/><stop offset=".7667" stop-color="#000092"/><stop offset=".7772" stop-color="#000087"/><stop offset=".7878" stop-color="#00007d"/><stop offset=".7956" stop-color="#000085"/><stop offset=".7983" stop-color="#00006e"/><stop offset=".8088" stop-color="#00006e"/><stop offset=".8114" stop-color="#00007e"/><stop offset=".8272" stop-color="#00007e"/><stop offset=".8325" stop-color="#000070"/><stop offset=".8483" stop-color="#000070"/><stop offset=".8536" stop-color="#000085"/><stop offset=".8746" stop-color="#000085"/><stop offset=".8799" stop-color="#00006e"/><stop offset=".9062" stop-color="#00006e"/><stop offset=".9115" stop-color="#00007e"/><stop offset=".9247" stop-color="#00007e"/><stop offset=".9299" stop-color="#000070"/><stop offset=".9484" stop-color="#000070"/><stop offset=".9536" stop-color="#00008b"/><stop offset=".9694" stop-color="#000096"/><stop offset=".9799" stop-color="#00008b"/><stop offset="1.0000" stop-color="#000089"/></linearGradient>
<linearGradient id="b37" gradientUnits="userSpaceOnUse" x1="0" y1="1773" x2="0" y2="2994"><stop offset=".0005" stop-color="#000087"/><stop offset=".0190" stop-color="#00008c"/><stop offset=".0374" stop-color="#000086"/><stop offset=".0795" stop-color="#000087"/><stop offset=".1401" stop-color="#000086"/><stop offset=".1506" stop-color="#00007c"/><stop offset=".1585" stop-color="#00008e"/><stop offset=".2112" stop-color="#00008f"/><stop offset=".2901" stop-color="#00008e"/><stop offset=".3217" stop-color="#00008f"/><stop offset=".3428" stop-color="#000098"/><stop offset=".3691" stop-color="#000094"/><stop offset=".3902" stop-color="#00008d"/><stop offset=".4086" stop-color="#000089"/><stop offset=".4165" stop-color="#000082"/><stop offset=".4244" stop-color="#000084"/><stop offset=".4402" stop-color="#000084"/><stop offset=".4613" stop-color="#000082"/><stop offset=".4876" stop-color="#00007f"/><stop offset=".5139" stop-color="#000081"/><stop offset=".5429" stop-color="#000087"/><stop offset=".5666" stop-color="#000087"/><stop offset=".5850" stop-color="#000082"/><stop offset=".6061" stop-color="#00007e"/><stop offset=".6245" stop-color="#000081"/><stop offset=".6456" stop-color="#00007c"/><stop offset=".6666" stop-color="#00007c"/><stop offset=".6824" stop-color="#000085"/><stop offset=".7009" stop-color="#000085"/><stop offset=".7167" stop-color="#00007c"/><stop offset=".7351" stop-color="#00007a"/><stop offset=".7483" stop-color="#000082"/><stop offset=".7667" stop-color="#000080"/><stop offset=".7772" stop-color="#000078"/><stop offset=".7878" stop-color="#000070"/><stop offset=".7956" stop-color="#00007a"/><stop offset=".7983" stop-color="#000066"/><stop offset=".8088" stop-color="#000066"/><stop offset=".8114" stop-color="#000074"/><stop offset=".8272" stop-color="#000074"/><stop offset=".8325" stop-color="#000068"/><stop offset=".8483" stop-color="#000068"/><stop offset=".8536" stop-color="#00007a"/><stop offset=".8746" stop-color="#00007a"/><stop offset=".8799" stop-color="#000066"/><stop offset=".9062" stop-color="#000066"/><stop offset=".9115" stop-color="#000074"/><stop offset=".9247" stop-color="#000074"/><stop offset=".9299" stop-color="#000068"/><stop offset=".9484" stop-color="#000068"/><stop offset=".9536" stop-color="#000081"/><stop offset=".9694" stop-color="#00008a"/><stop offset=".9799" stop-color="#000081"/><stop offset="1.0000" stop-color="#00007e"/></linearGradient>
<linearGradient id="b38" gradientUnits="userSpaceOnUse" x1="0" y1="1773" x2="0" y2="2994"><stop offset=".0005" stop-color="#000074"/><stop offset=".0190" stop-color="#000077"/><stop offset=".0374" stop-color="#000074"/><stop offset=".0795" stop-color="#000074"/><stop offset=".1401" stop-color="#000074"/><stop offset=".1506" stop-color="#00006d"/><stop offset=".1585" stop-color="#000078"/><stop offset=".2112" stop-color="#000079"/><stop offset=".2901" stop-color="#000078"/><stop offset=".3217" stop-color="#000079"/><stop offset=".3428" stop-color="#000081"/><stop offset=".3691" stop-color="#00007d"/><stop offset=".3902" stop-color="#000078"/><stop offset=".4086" stop-color="#000075"/><stop offset=".4165" stop-color="#000071"/><stop offset=".4244" stop-color="#000073"/><stop offset=".4402" stop-color="#000073"/><stop offset=".4613" stop-color="#000071"/><stop offset=".4876" stop-color="#00006f"/><stop offset=".5139" stop-color="#000070"/><stop offset=".5429" stop-color="#000074"/><stop offset=".5666" stop-color="#000074"/><stop offset=".5850" stop-color="#000071"/><stop offset=".6061" stop-color="#00006e"/><stop offset=".6245" stop-color="#000070"/><stop offset=".6456" stop-color="#00006d"/><stop offset=".6666" stop-color="#00006d"/><stop offset=".6824" stop-color="#000073"/><stop offset=".7009" stop-color="#000073"/><stop offset=".7167" stop-color="#00006d"/><stop offset=".7351" stop-color="#00006c"/><stop offset=".7483" stop-color="#000071"/><stop offset=".7667" stop-color="#000070"/><stop offset=".7772" stop-color="#00006a"/><stop offset=".7878" stop-color="#000064"/><stop offset=".7956" stop-color="#00006e"/><stop offset=".7983" stop-color="#00005c"/><stop offset=".8088" stop-color="#00005c"/><stop offset=".8114" stop-color="#000068"/><stop offset=".8272" stop-color="#000068"/><stop offset=".8325" stop-color="#00005e"/><stop offset=".8483" stop-color="#00005e"/><stop offset=".8536" stop-color="#00006e"/><stop offset=".8746" stop-color="#00006e"/><stop offset=".8799" stop-color="#00005c"/><stop offset=".9062" stop-color="#00005c"/><stop offset=".9115" stop-color="#000068"/><stop offset=".9247" stop-color="#000068"/><stop offset=".9299" stop-color="#00005e"/><stop offset=".9484" stop-color="#00005e"/><stop offset=".9536" stop-color="#000073"/><stop offset=".9694" stop-color="#00007c"/><stop offset=".9799" stop-color="#000073"/><stop offset="1.0000" stop-color="#000071"/></linearGradient>
<linearGradient id="b39" gradientUnits="userSpaceOnUse" x1="0" y1="1773" x2="0" y2="2994"><stop offset=".0005" stop-color="#000061"/><stop offset=".0190" stop-color="#000062"/><stop offset=".0374" stop-color="#000061"/><stop offset=".0795" stop-color="#000061"/><stop offset=".1401" stop-color="#000061"/><stop offset=".1506" stop-color="#00005d"/><stop offset=".1585" stop-color="#000063"/><stop offset=".2112" stop-color="#000063"/><stop offset=".2901" stop-color="#000063"/><stop offset=".3217" stop-color="#000063"/><stop offset=".3428" stop-color="#000069"/><stop offset=".3691" stop-color="#000066"/><stop offset=".3902" stop-color="#000063"/><stop offset=".4086" stop-color="#000061"/><stop offset=".4165" stop-color="#00005f"/><stop offset=".4244" stop-color="#000060"/><stop offset=".4402" stop-color="#000060"/><stop offset=".4613" stop-color="#00005f"/><stop offset=".4876" stop-color="#00005e"/><stop offset=".5139" stop-color="#00005f"/><stop offset=".5429" stop-color="#000061"/><stop offset=".5666" stop-color="#000061"/><stop offset=".5850" stop-color="#00005f"/><stop offset=".6061" stop-color="#00005e"/><stop offset=".6245" stop-color="#00005f"/><stop offset=".6456" stop-color="#00005d"/><stop offset=".6666" stop-color="#00005d"/><stop offset=".6824" stop-color="#000061"/><stop offset=".7009" stop-color="#000061"/><stop offset=".7167" stop-color="#00005d"/><stop offset=".7351" stop-color="#00005c"/><stop offset=".7483" stop-color="#00005f"/><stop offset=".7667" stop-color="#00005f"/><stop offset=".7772" stop-color="#00005b"/><stop offset=".7878" stop-color="#000058"/><stop offset=".7956" stop-color="#000061"/><stop offset=".7983" stop-color="#000047"/><stop offset=".8088" stop-color="#000047"/><stop offset=".8114" stop-color="#00005c"/><stop offset=".8272" stop-color="#00005c"/><stop offset=".8325" stop-color="#000049"/><stop offset=".8483" stop-color="#000049"/><stop offset=".8536" stop-color="#000061"/><stop offset=".8746" stop-color="#000061"/><stop offset=".8799" stop-color="#000047"/><stop offset=".9062" stop-color="#000047"/><stop offset=".9115" stop-color="#00005c"/><stop offset=".9247" stop-color="#00005c"/><stop offset=".9299" stop-color="#000049"/><stop offset=".9484" stop-color="#000049"/><stop offset=".9536" stop-color="#000066"/><stop offset=".9694" stop-color="#00006d"/><stop offset=".9799" stop-color="#000066"/><stop offset="1.0000" stop-color="#000064"/></linearGradient>
<linearGradient id="b40" gradientUnits="userSpaceOnUse" x1="0" y1="1773" x2="0" y2="2994"><stop offset=".0005" stop-color="#00004b"/><stop offset=".0190" stop-color="#00004b"/><stop offset=".0374" stop-color="#00004b"/><stop offset=".0795" stop-color="#00004b"/><stop offset=".1401" stop-color="#00004b"/><stop offset=".1506" stop-color="#00004b"/><stop offset=".1585" stop-color="#00004a"/><stop offset=".2112" stop-color="#00004a"/><stop offset=".2901" stop-color="#00004a"/><stop offset=".3217" stop-color="#00004a"/><stop offset=".3428" stop-color="#00004f"/><stop offset=".3691" stop-color="#00004c"/><stop offset=".3902" stop-color="#00004b"/><stop offset=".4086" stop-color="#00004b"/><stop offset=".4165" stop-color="#00004b"/><stop offset=".4244" stop-color="#00004b"/><stop offset=".4402" stop-color="#00004b"/><stop offset=".4613" stop-color="#00004b"/><stop offset=".4876" stop-color="#00004b"/><stop offset=".5139" stop-color="#00004b"/><stop offset=".5429" stop-color="#00004b"/><stop offset=".5666" stop-color="#00004b"/><stop offset=".5850" stop-color="#00004b"/><stop offset=".6061" stop-color="#00004b"/><stop offset=".6245" stop-color="#00004b"/><stop offset=".6456" stop-color="#00004b"/><stop offset=".6666" stop-color="#00004b"/><stop offset=".6824" stop-color="#00004b"/><stop offset=".7009" stop-color="#00004b"/><stop offset=".7167" stop-color="#00004b"/><stop offset=".7351" stop-color="#00004a"/><stop offset=".7483" stop-color="#00004b"/><stop offset=".7667" stop-color="#00004b"/><stop offset=".7772" stop-color="#00004a"/><stop offset=".7878" stop-color="#000049"/><stop offset=".7956" stop-color="#00004c"/><stop offset=".7983" stop-color="#00002b"/><stop offset=".8088" stop-color="#00002b"/><stop offset=".8114" stop-color="#000049"/><stop offset=".8272" stop-color="#000049"/><stop offset=".8325" stop-color="#00002c"/><stop offset=".8483" stop-color="#00002c"/><stop offset=".8536" stop-color="#00004c"/><stop offset=".8746" stop-color="#00004c"/><stop offset=".8799" stop-color="#00002b"/><stop offset=".9062" stop-color="#00002b"/><stop offset=".9115" stop-color="#000049"/><stop offset=".9247" stop-color="#000049"/><stop offset=".9299" stop-color="#00002c"/><stop offset=".9484" stop-color="#00002c"/><stop offset=".9536" stop-color="#000050"/><stop offset=".9694" stop-color="#000056"/><stop offset=".9799" stop-color="#000050"/><stop offset="1.0000" stop-color="#00004f"/></linearGradient>
<linearGradient id="b41" gradientUnits="userSpaceOnUse" x1="0" y1="1773" x2="0" y2="2994"><stop offset=".0005" stop-color="#000034"/><stop offset=".0190" stop-color="#000033"/><stop offset=".0374" stop-color="#000035"/><stop offset=".0795" stop-color="#000034"/><stop offset=".1401" stop-color="#000035"/><stop offset=".1506" stop-color="#000037"/><stop offset=".1585" stop-color="#000032"/><stop offset=".2112" stop-color="#000032"/><stop offset=".2901" stop-color="#000032"/><stop offset=".3217" stop-color="#000031"/><stop offset=".3428" stop-color="#000035"/><stop offset=".3691" stop-color="#000033"/><stop offset=".3902" stop-color="#000032"/><stop offset=".4086" stop-color="#000034"/><stop offset=".4165" stop-color="#000036"/><stop offset=".4244" stop-color="#000035"/><stop offset=".4402" stop-color="#000035"/><stop offset=".4613" stop-color="#000036"/><stop offset=".4876" stop-color="#000036"/><stop offset=".5139" stop-color="#000036"/><stop offset=".5429" stop-color="#000034"/><stop offset=".5666" stop-color="#000034"/><stop offset=".5850" stop-color="#000036"/><stop offset=".6061" stop-color="#000036"/><stop offset=".6245" stop-color="#000036"/><stop offset=".6456" stop-color="#000037"/><stop offset=".6666" stop-color="#000037"/><stop offset=".6824" stop-color="#000035"/><stop offset=".7009" stop-color="#000035"/><stop offset=".7167" stop-color="#000037"/><stop offset=".7351" stop-color="#000037"/><stop offset=".7483" stop-color="#000036"/><stop offset=".7667" stop-color="#000036"/><stop offset=".7772" stop-color="#000037"/><stop offset=".7878" stop-color="#000038"/><stop offset=".7956" stop-color="#000038"/><stop offset=".7983" stop-color="#00001c"/><stop offset=".8088" stop-color="#00001c"/><stop offset=".8114" stop-color="#000035"/><stop offset=".8272" stop-color="#000035"/><stop offset=".8325" stop-color="#00001d"/><stop offset=".8483" stop-color="#00001d"/><stop offset=".8536" stop-color="#000038"/><stop offset=".8746" stop-color="#000038"/><stop offset=".8799" stop-color="#00001c"/><stop offset=".9062" stop-color="#00001c"/><stop offset=".9115" stop-color="#000035"/><stop offset=".9247" stop-color="#000035"/><stop offset=".9299" stop-color="#00001d"/><stop offset=".9484" stop-color="#00001d"/><stop offset=".9536" stop-color="#00003b"/><stop offset=".9694" stop-color="#00003f"/><stop offset=".9799" stop-color="#00003b"/><stop offset="1.0000" stop-color="#00003a"/></linearGradient>
<linearGradient id="b42" gradientUnits="userSpaceOnUse" x1="0" y1="1773" x2="0" y2="2994"><stop offset=".0005" stop-color="#00001c"/><stop offset=".0190" stop-color="#00001a"/><stop offset=".0374" stop-color="#00001d"/><stop offset=".0795" stop-color="#00001c"/><stop offset=".1401" stop-color="#00001d"/><stop offset=".1506" stop-color="#000020"/><stop offset=".1585" stop-color="#000019"/><stop offset=".2112" stop-color="#000019"/><stop offset=".2901" stop-color="#000019"/><stop offset=".3217" stop-color="#000019"/><stop offset=".3428" stop-color="#00001a"/><stop offset=".3691" stop-color="#00001a"/><stop offset=".3902" stop-color="#00001a"/><stop offset=".4086" stop-color="#00001c"/><stop offset=".4165" stop-color="#00001e"/><stop offset=".4244" stop-color="#00001d"/><stop offset=".4402" stop-color="#00001d"/><stop offset=".4613" stop-color="#00002d"/><stop offset=".4876" stop-color="#00002d"/><stop offset=".5139" stop-color="#00002d"/><stop offset=".5429" stop-color="#00002b"/><stop offset=".5666" stop-color="#00002b"/><stop offset=".5850" stop-color="#00002d"/><stop offset=".6061" stop-color="#00002e"/><stop offset=".6245" stop-color="#00002d"/><stop offset=".6456" stop-color="#00002e"/><stop offset=".6666" stop-color="#00002e"/><stop offset=".6824" stop-color="#00002b"/><stop offset=".7009" stop-color="#00002b"/><stop offset=".7167" stop-color="#00002e"/><stop offset=".7351" stop-color="#00002e"/><stop offset=".7483" stop-color="#00002d"/><stop offset=".7667" stop-color="#00002d"/><stop offset=".7772" stop-color="#00002f"/><stop offset=".7878" stop-color="#000030"/><stop offset=".7956" stop-color="#000024"/><stop offset=".7983" stop-color="#00001a"/><stop offset=".8088" stop-color="#00001a"/><stop offset=".8114" stop-color="#000022"/><stop offset=".8272" stop-color="#000022"/><stop offset=".8325" stop-color="#00001a"/><stop offset=".8483" stop-color="#00001a"/><stop offset=".8536" stop-color="#000024"/><stop offset=".8746" stop-color="#000024"/><stop offset=".8799" stop-color="#00001a"/><stop offset=".9062" stop-color="#00001a"/><stop offset=".9115" stop-color="#000022"/><stop offset=".9247" stop-color="#000022"/><stop offset=".9299" stop-color="#00001a"/><stop offset=".9484" stop-color="#00001a"/><stop offset=".9536" stop-color="#000025"/><stop offset=".9694" stop-color="#000028"/><stop offset=".9799" stop-color="#000025"/><stop offset="1.0000" stop-color="#000025"/></linearGradient>
<linearGradient id="b43" gradientUnits="userSpaceOnUse" x1="0" y1="1773" x2="0" y2="2994"><stop offset=".0005" stop-color="#000015"/><stop offset=".0190" stop-color="#000013"/><stop offset=".0374" stop-color="#000015"/><stop offset=".0795" stop-color="#000015"/><stop offset=".1401" stop-color="#000015"/><stop offset=".1506" stop-color="#000018"/><stop offset=".1585" stop-color="#000012"/><stop offset=".2112" stop-color="#000012"/><stop offset=".2901" stop-color="#000012"/><stop offset=".3217" stop-color="#000011"/><stop offset=".3428" stop-color="#000012"/><stop offset=".3691" stop-color="#000012"/><stop offset=".3902" stop-color="#000012"/><stop offset=".4086" stop-color="#000014"/><stop offset=".4165" stop-color="#000016"/><stop offset=".4244" stop-color="#000015"/><stop offset=".4402" stop-color="#000015"/><stop offset=".4613" stop-color="#000026"/><stop offset=".4876" stop-color="#000026"/><stop offset=".5139" stop-color="#000026"/><stop offset=".5429" stop-color="#000024"/><stop offset=".5666" stop-color="#000024"/><stop offset=".5850" stop-color="#000026"/><stop offset=".6061" stop-color="#000027"/><stop offset=".6245" stop-color="#000026"/><stop offset=".6456" stop-color="#000027"/><stop offset=".6666" stop-color="#000027"/><stop offset=".6824" stop-color="#000024"/><stop offset=".7009" stop-color="#000024"/><stop offset=".7167" stop-color="#000027"/><stop offset=".7351" stop-color="#000028"/><stop offset=".7483" stop-color="#000026"/><stop offset=".7667" stop-color="#000026"/><stop offset=".7772" stop-color="#000028"/><stop offset=".7878" stop-color="#00002a"/><stop offset=".7956" stop-color="#00001f"/><stop offset=".7983" stop-color="#00002e"/><stop offset=".8088" stop-color="#00002e"/><stop offset=".8114" stop-color="#00001d"/><stop offset=".8272" stop-color="#00001d"/><stop offset=".8325" stop-color="#00002f"/><stop offset=".8483" stop-color="#00002f"/><stop offset=".8536" stop-color="#00001f"/><stop offset=".8746" stop-color="#00001f"/><stop offset=".8799" stop-color="#00002e"/><stop offset=".9062" stop-color="#00002e"/><stop offset=".9115" stop-color="#00001d"/><stop offset=".9247" stop-color="#00001d"/><stop offset=".9299" stop-color="#00002f"/><stop offset=".9484" stop-color="#00002f"/><stop offset=".9536" stop-color="#000020"/><stop offset=".9694" stop-color="#000023"/><stop offset=".9799" stop-color="#000020"/><stop offset="1.0000" stop-color="#000020"/></linearGradient>
<linearGradient id="b44" gradientUnits="userSpaceOnUse" x1="0" y1="1773" x2="0" y2="2994"><stop offset=".0005" stop-color="#000026"/><stop offset=".0190" stop-color="#000024"/><stop offset=".0374" stop-color="#000026"/><stop offset=".0795" stop-color="#000026"/><stop offset=".1401" stop-color="#000026"/><stop offset=".1506" stop-color="#00002a"/><stop offset=".1585" stop-color="#000023"/><stop offset=".2112" stop-color="#000023"/><stop offset=".2901" stop-color="#000023"/><stop offset=".3217" stop-color="#000023"/><stop offset=".3428" stop-color="#000025"/><stop offset=".3691" stop-color="#000024"/><stop offset=".3902" stop-color="#000024"/><stop offset=".4086" stop-color="#000025"/><stop offset=".4165" stop-color="#000028"/><stop offset=".4244" stop-color="#000027"/><stop offset=".4402" stop-color="#000027"/><stop offset=".4613" stop-color="#000036"/><stop offset=".4876" stop-color="#000036"/><stop offset=".5139" stop-color="#000036"/><stop offset=".5429" stop-color="#000034"/><stop offset=".5666" stop-color="#000034"/><stop offset=".5850" stop-color="#000036"/><stop offset=".6061" stop-color="#000036"/><stop offset=".6245" stop-color="#000036"/><stop offset=".6456" stop-color="#000037"/><stop offset=".6666" stop-color="#000037"/><stop offset=".6824" stop-color="#000035"/><stop offset=".7009" stop-color="#000035"/><stop offset=".7167" stop-color="#000037"/><stop offset=".7351" stop-color="#000037"/><stop offset=".7483" stop-color="#000036"/><stop offset=".7667" stop-color="#000036"/><stop offset=".7772" stop-color="#000037"/><stop offset=".7878" stop-color="#000038"/><stop offset=".7956" stop-color="#000033"/><stop offset=".7983" stop-color="#000042"/><stop offset=".8088" stop-color="#000042"/><stop offset=".8114" stop-color="#000030"/><stop offset=".8272" stop-color="#000030"/><stop offset=".8325" stop-color="#000044"/><stop offset=".8483" stop-color="#000044"/><stop offset=".8536" stop-color="#000033"/><stop offset=".8746" stop-color="#000033"/><stop offset=".8799" stop-color="#000042"/><stop offset=".9062" stop-color="#000042"/><stop offset=".9115" stop-color="#000030"/><stop offset=".9247" stop-color="#000030"/><stop offset=".9299" stop-color="#000044"/><stop offset=".9484" stop-color="#000044"/><stop offset=".9536" stop-color="#000036"/><stop offset=".9694" stop-color="#00003a"/><stop offset=".9799" stop-color="#000036"/><stop offset="1.0000" stop-color="#000035"/></linearGradient>
<linearGradient id="b45" gradientUnits="userSpaceOnUse" x1="0" y1="1773" x2="0" y2="2994"><stop offset=".0005" stop-color="#000047"/><stop offset=".0190" stop-color="#000046"/><stop offset=".0374" stop-color="#000047"/><stop offset=".0795" stop-color="#000047"/><stop offset=".1401" stop-color="#000047"/><stop offset=".1506" stop-color="#000047"/><stop offset=".1585" stop-color="#000046"/><stop offset=".2112" stop-color="#000045"/><stop offset=".2901" stop-color="#000046"/><stop offset=".3217" stop-color="#000045"/><stop offset=".3428" stop-color="#00004a"/><stop offset=".3691" stop-color="#000047"/><stop offset=".3902" stop-color="#000046"/><stop offset=".4086" stop-color="#000046"/><stop offset=".4165" stop-color="#000047"/><stop offset=".4244" stop-color="#000047"/><stop offset=".4402" stop-color="#000047"/><stop offset=".4613" stop-color="#000047"/><stop offset=".4876" stop-color="#000047"/><stop offset=".5139" stop-color="#000047"/><stop offset=".5429" stop-color="#000047"/><stop offset=".5666" stop-color="#000047"/><stop offset=".5850" stop-color="#000047"/><stop offset=".6061" stop-color="#000047"/><stop offset=".6245" stop-color="#000047"/><stop offset=".6456" stop-color="#000047"/><stop offset=".6666" stop-color="#000047"/><stop offset=".6824" stop-color="#000047"/><stop offset=".7009" stop-color="#000047"/><stop offset=".7167" stop-color="#000047"/><stop offset=".7351" stop-color="#000047"/><stop offset=".7483" stop-color="#000047"/><stop offset=".7667" stop-color="#000047"/><stop offset=".7772" stop-color="#000046"/><stop offset=".7878" stop-color="#000045"/><stop offset=".7956" stop-color="#00004c"/><stop offset=".7983" stop-color="#000052"/><stop offset=".8088" stop-color="#000052"/><stop offset=".8114" stop-color="#000049"/><stop offset=".8272" stop-color="#000049"/><stop offset=".8325" stop-color="#000053"/><stop offset=".8483" stop-color="#000053"/><stop offset=".8536" stop-color="#00004c"/><stop offset=".8746" stop-color="#00004c"/><stop offset=".8799" stop-color="#000052"/><stop offset=".9062" stop-color="#000052"/><stop offset=".9115" stop-color="#000049"/><stop offset=".9247" stop-color="#000049"/><stop offset=".9299" stop-color="#000053"/><stop offset=".9484" stop-color="#000053"/><stop offset=".9536" stop-color="#000050"/><stop offset=".9694" stop-color="#000056"/><stop offset=".9799" stop-color="#000050"/><stop offset="1.0000" stop-color="#00004f"/></linearGradient>
<linearGradient id="b46" gradientUnits="userSpaceOnUse" x1="0" y1="1773" x2="0" y2="2994"><stop offset=".0005" stop-color="#000056"/><stop offset=".0190" stop-color="#000057"/><stop offset=".0374" stop-color="#000056"/><stop offset=".0795" stop-color="#000056"/><stop offset=".1401" stop-color="#000056"/><stop offset=".1506" stop-color="#000054"/><stop offset=".1585" stop-color="#000057"/><stop offset=".2112" stop-color="#000057"/><stop offset=".2901" stop-color="#000057"/><stop offset=".3217" stop-color="#000057"/><stop offset=".3428" stop-color="#00005c"/><stop offset=".3691" stop-color="#000059"/><stop offset=".3902" stop-color="#000057"/><stop offset=".4086" stop-color="#000056"/><stop offset=".4165" stop-color="#000055"/><stop offset=".4244" stop-color="#000056"/><stop offset=".4402" stop-color="#000056"/><stop offset=".4613" stop-color="#000055"/><stop offset=".4876" stop-color="#000055"/><stop offset=".5139" stop-color="#000055"/><stop offset=".5429" stop-color="#000056"/><stop offset=".5666" stop-color="#000056"/><stop offset=".5850" stop-color="#000055"/><stop offset=".6061" stop-color="#000055"/><stop offset=".6245" stop-color="#000055"/><stop offset=".6456" stop-color="#000054"/><stop offset=".6666" stop-color="#000054"/><stop offset=".6824" stop-color="#000056"/><stop offset=".7009" stop-color="#000056"/><stop offset=".7167" stop-color="#000054"/><stop offset=".7351" stop-color="#000054"/><stop offset=".7483" stop-color="#000055"/><stop offset=".7667" stop-color="#000055"/><stop offset=".7772" stop-color="#000053"/><stop offset=".7878" stop-color="#000050"/><stop offset=".7956" stop-color="#000057"/><stop offset=".7983" stop-color="#000059"/><stop offset=".8088" stop-color="#000059"/><stop offset=".8114" stop-color="#000052"/><stop offset=".8272" stop-color="#000052"/><stop offset=".8325" stop-color="#00005b"/><stop offset=".8483" stop-color="#00005b"/><stop offset=".8536" stop-color="#000057"/><stop offset=".8746" stop-color="#000057"/><stop offset=".8799" stop-color="#000059"/><stop offset=".9062" stop-color="#000059"/><stop offset=".9115" stop-color="#000052"/><stop offset=".9247" stop-color="#000052"/><stop offset=".9299" stop-color="#00005b"/><stop offset=".9484" stop-color="#00005b"/><stop offset=".9536" stop-color="#00005b"/><stop offset=".9694" stop-color="#000062"/><stop offset=".9799" stop-color="#00005b"/><stop offset="1.0000" stop-color="#000059"/></linearGradient>
<linearGradient id="b47" gradientUnits="userSpaceOnUse" x1="0" y1="1773" x2="0" y2="2994"><stop offset=".0005" stop-color="#000063"/><stop offset=".0190" stop-color="#000065"/><stop offset=".0374" stop-color="#000063"/><stop offset=".0795" stop-color="#000063"/><stop offset=".1401" stop-color="#000063"/><stop offset=".1506" stop-color="#00005f"/><stop offset=".1585" stop-color="#000065"/><stop offset=".2112" stop-color="#000065"/><stop offset=".2901" stop-color="#000065"/><stop offset=".3217" stop-color="#000065"/><stop offset=".3428" stop-color="#00006c"/><stop offset=".3691" stop-color="#000069"/><stop offset=".3902" stop-color="#000065"/><stop offset=".4086" stop-color="#000064"/><stop offset=".4165" stop-color="#000061"/><stop offset=".4244" stop-color="#000062"/><stop offset=".4402" stop-color="#000062"/><stop offset=".4613" stop-color="#000061"/><stop offset=".4876" stop-color="#000060"/><stop offset=".5139" stop-color="#000061"/><stop offset=".5429" stop-color="#000063"/><stop offset=".5666" stop-color="#000063"/><stop offset=".5850" stop-color="#000061"/><stop offset=".6061" stop-color="#000060"/><stop offset=".6245" stop-color="#000061"/><stop offset=".6456" stop-color="#00005f"/><stop offset=".6666" stop-color="#00005f"/><stop offset=".6824" stop-color="#000063"/><stop offset=".7009" stop-color="#000063"/><stop offset=".7167" stop-color="#00005f"/><stop offset=".7351" stop-color="#00005e"/><stop offset=".7483" stop-color="#000061"/><stop offset=".7667" stop-color="#000061"/><stop offset=".7772" stop-color="#00005d"/><stop offset=".7878" stop-color="#000059"/><stop offset=".7956" stop-color="#00005e"/><stop offset=".7983" stop-color="#00005e"/><stop offset=".8088" stop-color="#00005e"/><stop offset=".8114" stop-color="#00005a"/><stop offset=".8272" stop-color="#00005a"/><stop offset=".8325" stop-color="#000060"/><stop offset=".8483" stop-color="#000060"/><stop offset=".8536" stop-color="#00005e"/><stop offset=".8746" stop-color="#00005e"/><stop offset=".8799" stop-color="#00005e"/><stop offset=".9062" stop-color="#00005e"/><stop offset=".9115" stop-color="#00005a"/><stop offset=".9247" stop-color="#00005a"/><stop offset=".9299" stop-color="#000060"/><stop offset=".9484" stop-color="#000060"/><stop offset=".9536" stop-color="#000063"/><stop offset=".9694" stop-color="#00006b"/><stop offset=".9799" stop-color="#000063"/><stop offset="1.0000" stop-color="#000061"/></linearGradient>
<linearGradient id="b48" gradientUnits="userSpaceOnUse" x1="0" y1="1773" x2="0" y2="2994"><stop offset=".0005" stop-color="#00006c"/><stop offset=".0190" stop-color="#00006e"/><stop offset=".0374" stop-color="#00006b"/><stop offset=".0795" stop-color="#00006c"/><stop offset=".1401" stop-color="#00006b"/><stop offset=".1506" stop-color="#000066"/><stop offset=".1585" stop-color="#00006f"/><stop offset=".2112" stop-color="#00006f"/><stop offset=".2901" stop-color="#00006f"/><stop offset=".3217" stop-color="#00006f"/><stop offset=".3428" stop-color="#000076"/><stop offset=".3691" stop-color="#000073"/><stop offset=".3902" stop-color="#00006e"/><stop offset=".4086" stop-color="#00006d"/><stop offset=".4165" stop-color="#000069"/><stop offset=".4244" stop-color="#00006b"/><stop offset=".4402" stop-color="#00006b"/><stop offset=".4613" stop-color="#000069"/><stop offset=".4876" stop-color="#000068"/><stop offset=".5139" stop-color="#000069"/><stop offset=".5429" stop-color="#00006c"/><stop offset=".5666" stop-color="#00006c"/><stop offset=".5850" stop-color="#000069"/><stop offset=".6061" stop-color="#000067"/><stop offset=".6245" stop-color="#000069"/><stop offset=".6456" stop-color="#000066"/><stop offset=".6666" stop-color="#000066"/><stop offset=".6824" stop-color="#00006b"/><stop offset=".7009" stop-color="#00006b"/><stop offset=".7167" stop-color="#000066"/><stop offset=".7351" stop-color="#000065"/><stop offset=".7483" stop-color="#000069"/><stop offset=".7667" stop-color="#000068"/><stop offset=".7772" stop-color="#000064"/><stop offset=".7878" stop-color="#00005f"/><stop offset=".7956" stop-color="#000066"/><stop offset=".7983" stop-color="#000061"/><stop offset=".8088" stop-color="#000061"/><stop offset=".8114" stop-color="#000061"/><stop offset=".8272" stop-color="#000061"/><stop offset=".8325" stop-color="#000063"/><stop offset=".8483" stop-color="#000063"/><stop offset=".8536" stop-color="#000066"/><stop offset=".8746" stop-color="#000066"/><stop offset=".8799" stop-color="#000061"/><stop offset=".9062" stop-color="#000061"/><stop offset=".9115" stop-color="#000061"/><stop offset=".9247" stop-color="#000061"/><stop offset=".9299" stop-color="#000063"/><stop offset=".9484" stop-color="#000063"/><stop offset=".9536" stop-color="#00006b"/><stop offset=".9694" stop-color="#000073"/><stop offset=".9799" stop-color="#00006b"/><stop offset="1.0000" stop-color="#000069"/></linearGradient>
<linearGradient id="b49" gradientUnits="userSpaceOnUse" x1="0" y1="1773" x2="0" y2="2994"><stop offset=".0005" stop-color="#000072"/><stop offset=".0190" stop-color="#000075"/><stop offset=".0374" stop-color="#000072"/><stop offset=".0795" stop-color="#000072"/><stop offset=".1401" stop-color="#000072"/><stop offset=".1506" stop-color="#00006b"/><stop offset=".1585" stop-color="#000076"/><stop offset=".2112" stop-color="#000076"/><stop offset=".2901" stop-color="#000076"/><stop offset=".3217" stop-color="#000077"/><stop offset=".3428" stop-color="#00007e"/><stop offset=".3691" stop-color="#00007a"/><stop offset=".3902" stop-color="#000076"/><stop offset=".4086" stop-color="#000073"/><stop offset=".4165" stop-color="#00006f"/><stop offset=".4244" stop-color="#000071"/><stop offset=".4402" stop-color="#000071"/><stop offset=".4613" stop-color="#00006f"/><stop offset=".4876" stop-color="#00006d"/><stop offset=".5139" stop-color="#00006e"/><stop offset=".5429" stop-color="#000072"/><stop offset=".5666" stop-color="#000072"/><stop offset=".5850" stop-color="#00006f"/><stop offset=".6061" stop-color="#00006d"/><stop offset=".6245" stop-color="#00006e"/><stop offset=".6456" stop-color="#00006b"/><stop offset=".6666" stop-color="#00006b"/><stop offset=".6824" stop-color="#000071"/><stop offset=".7009" stop-color="#000071"/><stop offset=".7167" stop-color="#00006b"/><stop offset=".7351" stop-color="#00006a"/><stop offset=".7483" stop-color="#00006f"/><stop offset=".7667" stop-color="#00006e"/><stop offset=".7772" stop-color="#000068"/><stop offset=".7878" stop-color="#000063"/><stop offset=".7956" stop-color="#00006b"/><stop offset=".7983" stop-color="#000061"/><stop offset=".8088" stop-color="#000061"/><stop offset=".8114" stop-color="#000066"/><stop offset=".8272" stop-color="#000066"/><stop offset=".8325" stop-color="#000063"/><stop offset=".8483" stop-color="#000063"/><stop offset=".8536" stop-color="#00006b"/><stop offset=".8746" stop-color="#00006b"/><stop offset=".8799" stop-color="#000061"/><stop offset=".9062" stop-color="#000061"/><stop offset=".9115" stop-color="#000066"/><stop offset=".9247" stop-color="#000066"/><stop offset=".9299" stop-color="#000063"/><stop offset=".9484" stop-color="#000063"/><stop offset=".9536" stop-color="#000070"/><stop offset=".9694" stop-color="#000079"/><stop offset=".9799" stop-color="#000070"/><stop offset="1.0000" stop-color="#00006e"/></linearGradient>
<linearGradient id="b50" gradientUnits="userSpaceOnUse" x1="0" y1="1773" x2="0" y2="2994"><stop offset=".0005" stop-color="#000076"/><stop offset=".0190" stop-color="#000079"/><stop offset=".0374" stop-color="#000076"/><stop offset=".0795" stop-color="#000076"/><stop offset=".1401" stop-color="#000076"/><stop offset=".1506" stop-color="#00006f"/><stop offset=".1585" stop-color="#00007b"/><stop offset=".2112" stop-color="#00007b"/><stop offset=".2901" stop-color="#00007b"/><stop offset=".3217" stop-color="#00007c"/><stop offset=".3428" stop-color="#000083"/><stop offset=".3691" stop-color="#000080"/><stop offset=".3902" stop-color="#00007a"/><stop offset=".4086" stop-color="#000077"/><stop offset=".4165" stop-color="#000073"/><stop offset=".4244" stop-color="#000075"/><stop offset=".4402" stop-color="#000075"/><stop offset=".4613" stop-color="#000073"/><stop offset=".4876" stop-color="#000071"/><stop offset=".5139" stop-color="#000072"/><stop offset=".5429" stop-color="#000076"/><stop offset=".5666" stop-color="#000076"/><stop offset=".5850" stop-color="#000073"/><stop offset=".6061" stop-color="#000070"/><stop offset=".6245" stop-color="#000072"/><stop offset=".6456" stop-color="#00006f"/><stop offset=".6666" stop-color="#00006f"/><stop offset=".6824" stop-color="#000075"/><stop offset=".7009" stop-color="#000075"/><stop offset=".7167" stop-color="#00006f"/><stop offset=".7351" stop-color="#00006d"/><stop offset=".7483" stop-color="#000073"/><stop offset=".7667" stop-color="#000071"/><stop offset=".7772" stop-color="#00006c"/><stop offset=".7878" stop-color="#000066"/><stop offset=".7956" stop-color="#00006e"/><stop offset=".7983" stop-color="#000061"/><stop offset=".8088" stop-color="#000061"/><stop offset=".8114" stop-color="#000068"/><stop offset=".8272" stop-color="#000068"/><stop offset=".8325" stop-color="#000063"/><stop offset=".8483" stop-color="#000063"/><stop offset=".8536" stop-color="#00006e"/><stop offset=".8746" stop-color="#00006e"/><stop offset=".8799" stop-color="#000061"/><stop offset=".9062" stop-color="#000061"/><stop offset=".9115" stop-color="#000068"/><stop offset=".9247" stop-color="#000068"/><stop offset=".9299" stop-color="#000063"/><stop offset=".9484" stop-color="#000063"/><stop offset=".9536" stop-color="#000073"/><stop offset=".9694" stop-color="#00007c"/><stop offset=".9799" stop-color="#000073"/><stop offset="1.0000" stop-color="#000071"/></linearGradient>
<linearGradient id="b51" gradientUnits="userSpaceOnUse" x1="0" y1="1773" x2="0" y2="2994"><stop offset=".0005" stop-color="#000074"/><stop offset=".0190" stop-color="#000077"/><stop offset=".0374" stop-color="#000074"/><stop offset=".0795" stop-color="#000074"/><stop offset=".1401" stop-color="#000074"/><stop offset=".1506" stop-color="#00006d"/><stop offset=".1585" stop-color="#000078"/><stop offset=".2112" stop-color="#000079"/><stop offset=".2901" stop-color="#000078"/><stop offset=".3217" stop-color="#000079"/><stop offset=".3428" stop-color="#000081"/><stop offset=".3691" stop-color="#00007d"/><stop offset=".3902" stop-color="#000078"/><stop offset=".4086" stop-color="#000075"/><stop offset=".4165" stop-color="#000071"/><stop offset=".4244" stop-color="#000073"/><stop offset=".4402" stop-color="#000073"/><stop offset=".4613" stop-color="#000071"/><stop offset=".4876" stop-color="#00006f"/><stop offset=".5139" stop-color="#000070"/><stop offset=".5429" stop-color="#000074"/><stop offset=".5666" stop-color="#000074"/><stop offset=".5850" stop-color="#000071"/><stop offset=".6061" stop-color="#00006e"/><stop offset=".6245" stop-color="#000070"/><stop offset=".6456" stop-color="#00006d"/><stop offset=".6666" stop-color="#00006d"/><stop offset=".6824" stop-color="#000073"/><stop offset=".7009" stop-color="#000073"/><stop offset=".7167" stop-color="#00006d"/><stop offset=".7351" stop-color="#00006c"/><stop offset=".7483" stop-color="#000071"/><stop offset=".7667" stop-color="#000070"/><stop offset=".7772" stop-color="#00006a"/><stop offset=".7878" stop-color="#000064"/><stop offset=".7956" stop-color="#00006b"/><stop offset=".7983" stop-color="#000061"/><stop offset=".8088" stop-color="#000061"/><stop offset=".8114" stop-color="#000066"/><stop offset=".8272" stop-color="#000066"/><stop offset=".8325" stop-color="#000063"/><stop offset=".8483" stop-color="#000063"/><stop offset=".8536" stop-color="#00006b"/><stop offset=".8746" stop-color="#00006b"/><stop offset=".8799" stop-color="#000061"/><stop offset=".9062" stop-color="#000061"/><stop offset=".9115" stop-color="#000066"/><stop offset=".9247" stop-color="#000066"/><stop offset=".9299" stop-color="#000063"/><stop offset=".9484" stop-color="#000063"/><stop offset=".9536" stop-color="#000070"/><stop offset=".9694" stop-color="#000079"/><stop offset=".9799" stop-color="#000070"/><stop offset="1.0000" stop-color="#00006e"/></linearGradient>
<filter id="bf" filterUnits="userSpaceOnUse" x="241" y="1773" width="1406" height="1221" color-interpolation-filters="sRGB"><feTurbulence type="fractalNoise" baseFrequency="0.11 0.37" numOctaves="2" seed="101" x="241" y="1773" width="487" height="431"/><feTile x="241" y="1773" width="1406" height="1221"/><feColorMatrix type="matrix" values="1 0 0 0 0 1 0 0 0 0 1 0 0 0 0 0 0 0 0 1" result="n"/><feColorMatrix in="SourceGraphic" type="matrix" values="0 0 1 0 0 0 0 1 0 0 0 0 1 0 0 0 0 0 0 1" result="b"/><feComposite in="b" in2="n" operator="arithmetic" k1="0" k2="1" k3="0.44" k4="-0.220" result="v"/><feDisplacementMap in="v" in2="SourceGraphic" scale="63.75" xChannelSelector="R" yChannelSelector="G"/><feComponentTransfer><feFuncR type="table" tableValues="0.242 0.248 0.254 0.259 0.265 0.269 0.273 0.276 0.278 0.280 0.281 0.281 0.281 0.280 0.278 0.275 0.271 0.265 0.256 0.242 0.225 0.207 0.190 0.183 0.179 0.177 0.175 0.169 0.157 0.149 0.145 0.138 0.129 0.118 0.108 0.096 0.079 0.053 0.023 0.005 0.002 0.016 0.050 0.090 0.125 0.153 0.174 0.191 0.206 0.224 0.249 0.281 0.318 0.355 0.392 0.432 0.475 0.519 0.561 0.602 0.643 0.683 0.722 0.759 0.794 0.828 0.860 0.890 0.918 0.944 0.969 0.990 0.997 0.997 0.996 0.992 0.986 0.978 0.969 0.963 0.960 0.960 0.962 0.966 0.971 0.977"/><feFuncG type="table" tableValues="0.150 0.161 0.173 0.185 0.197 0.209 0.223 0.238 0.254 0.271 0.287 0.304 0.320 0.337 0.353 0.369 0.386 0.403 0.420 0.438 0.456 0.474 0.492 0.508 0.524 0.540 0.555 0.571 0.585 0.600 0.614 0.627 0.641 0.654 0.667 0.679 0.690 0.701 0.710 0.719 0.728 0.735 0.742 0.749 0.755 0.761 0.768 0.774 0.781 0.787 0.792 0.796 0.799 0.802 0.803 0.803 0.801 0.798 0.794 0.790 0.784 0.777 0.770 0.763 0.755 0.748 0.741 0.735 0.731 0.729 0.729 0.737 0.751 0.768 0.786 0.803 0.822 0.840 0.859 0.878 0.896 0.914 0.932 0.949 0.967 0.984"/><feFuncB type="table" tableValues="0.660 0.696 0.729 0.761 0.794 0.825 0.853 0.877 0.897 0.915 0.930 0.944 0.956 0.967 0.976 0.984 0.990 0.994 0.997 0.999 0.999 0.993 0.987 0.979 0.971 0.960 0.947 0.936 0.925 0.915 0.905 0.897 0.891 0.883 0.873 0.861 0.846 0.830 0.812 0.794 0.775 0.756 0.736 0.716 0.695 0.674 0.653 0.630 0.607 0.581 0.555 0.527 0.497 0.467 0.434 0.401 0.369 0.337 0.305 0.273 0.242 0.215 0.192 0.172 0.157 0.154 0.159 0.170 0.189 0.215 0.237 0.243 0.231 0.218 0.205 0.194 0.185 0.176 0.167 0.158 0.151 0.142 0.130 0.117 0.100 0.081"/></feComponentTransfer><feComponentTransfer result="s"><feFuncA type="identity"/></feComponentTransfer><feGaussianBlur stdDeviation="0.8"/><feComposite in2="s" operator="arithmetic" k1="0" k2="0.4" k3="0.60" k4="0"/></filter>
</defs>
<g filter="url(#af)" style="isolation:isolate" shape-rendering="crispEdges">
<rect x="227" y="99" width="25" height="1256" fill="url(#a0)"/>
<rect x="252" y="99" width="30" height="1256" fill="url(#a1)"/>
<rect x="282" y="99" width="26" height="1256" fill="url(#a2)"/>
<rect x="308" y="99" width="30" height="1256" fill="url(#a3)"/>
<rect x="338" y="99" width="25" height="1256" fill="url(#a4)"/>
<rect x="363" y="99" width="30" height="1256" fill="url(#a5)"/>
<rect x="393" y="99" width="26" height="1256" fill="url(#a6)"/>
<rect x="419" y="99" width="30" height="1256" fill="url(#a7)"/>
<rect x="449" y="99" width="26" height="1256" fill="url(#a8)"/>
<rect x="475" y="99" width="29" height="1256" fill="url(#a9)"/>
<rect x="504" y="99" width="26" height="1256" fill="url(#a10)"/>
<rect x="530" y="99" width="30" height="1256" fill="url(#a11)"/>
<rect x="560" y="99" width="26" height="1256" fill="url(#a12)"/>
<rect x="586" y="99" width="30" height="1256" fill="url(#a13)"/>
<rect x="616" y="99" width="25" height="1256" fill="url(#a14)"/>
<rect x="641" y="99" width="30" height="1256" fill="url(#a15)"/>
<rect x="671" y="99" width="26" height="1256" fill="url(#a16)"/>
<rect x="697" y="99" width="30" height="1256" fill="url(#a17)"/>
<rect x="727" y="99" width="26" height="1256" fill="url(#a18)"/>
<rect x="753" y="99" width="30" height="1256" fill="url(#a19)"/>
<rect x="783" y="99" width="25" height="1256" fill="url(#a20)"/>
<rect x="808" y="99" width="30" height="1256" fill="url(#a21)"/>
<rect x="838" y="99" width="26" height="1256" fill="url(#a22)"/>
<rect x="864" y="99" width="30" height="1256" fill="url(#a23)"/>
<rect x="894" y="99" width="26" height="1256" fill="url(#a24)"/>
<rect x="920" y="99" width="25" height="1256" fill="url(#a25)"/>
<rect x="945" y="99" width="30" height="1256" fill="url(#a26)"/>
<rect x="975" y="99" width="26" height="1256" fill="url(#a27)"/>
<rect x="1001" y="99" width="30" height="1256" fill="url(#a28)"/>
<rect x="1031" y="99" width="26" height="1256" fill="url(#a29)"/>
<rect x="1057" y="99" width="29" height="1256" fill="url(#a30)"/>
<rect x="1086" y="99" width="26" height="1256" fill="url(#a31)"/>
<rect x="1112" y="99" width="30" height="1256" fill="url(#a32)"/>
<rect x="1142" y="99" width="26" height="1256" fill="url(#a33)"/>
<rect x="1168" y="99" width="30" height="1256" fill="url(#a34)"/>
<rect x="1198" y="99" width="25" height="1256" fill="url(#a35)"/>
<rect x="1223" y="99" width="30" height="1256" fill="url(#a36)"/>
<rect x="1253" y="99" width="26" height="1256" fill="url(#a37)"/>
<rect x="1279" y="99" width="30" height="1256" fill="url(#a38)"/>
<rect x="1309" y="99" width="26" height="1256" fill="url(#a39)"/>
<rect x="1335" y="99" width="30" height="1256" fill="url(#a40)"/>
<rect x="1365" y="99" width="25" height="1256" fill="url(#a41)"/>
<rect x="1390" y="99" width="30" height="1256" fill="url(#a42)"/>
<rect x="1420" y="99" width="26" height="1256" fill="url(#a43)"/>
<rect x="1446" y="99" width="30" height="1256" fill="url(#a44)"/>
<rect x="1476" y="99" width="26" height="1256" fill="url(#a45)"/>
<rect x="1502" y="99" width="30" height="1256" fill="url(#a46)"/>
<rect x="1532" y="99" width="25" height="1256" fill="url(#a47)"/>
<rect x="1557" y="99" width="30" height="1256" fill="url(#a48)"/>
<rect x="1587" y="99" width="26" height="1256" fill="url(#a49)"/>
<rect x="1613" y="99" width="30" height="1256" fill="url(#a50)"/>
<rect x="1643" y="99" width="26" height="1256" fill="url(#a51)"/>
<g fill="none" stroke-width="1" style="mix-blend-mode:screen"><path d="M281.5 99V1355M337.5 99V1355M392.5 99V1355M448.5 99V1355M503.5 99V1355M559.5 99V1355M615.5 99V1355M670.5 99V1355M726.5 99V1355M782.5 99V1355M837.5 99V1355M893.5 99V1355M974.5 99V1355M1030.5 99V1355M1085.5 99V1355M1141.5 99V1355M1197.5 99V1355M1252.5 99V1355M1308.5 99V1355M1364.5 99V1355M1419.5 99V1355M1475.5 99V1355M1531.5 99V1355M1586.5 99V1355M1642.5 99V1355" stroke="rgb(72,0,0)"/><path d="M280.5 99V1355M336.5 99V1355M391.5 99V1355M447.5 99V1355M502.5 99V1355M558.5 99V1355M614.5 99V1355M669.5 99V1355M725.5 99V1355M781.5 99V1355M836.5 99V1355M892.5 99V1355M973.5 99V1355M1029.5 99V1355M1084.5 99V1355M1140.5 99V1355M1196.5 99V1355M1251.5 99V1355M1307.5 99V1355M1363.5 99V1355M1418.5 99V1355M1474.5 99V1355M1530.5 99V1355M1585.5 99V1355M1641.5 99V1355" stroke="rgb(76,0,0)"/><path d="M251.5 99V1355M279.5 99V1355M307.5 99V1355M335.5 99V1355M362.5 99V1355M390.5 99V1355M418.5 99V1355M446.5 99V1355M474.5 99V1355M501.5 99V1355M529.5 99V1355M557.5 99V1355M585.5 99V1355M613.5 99V1355M640.5 99V1355M668.5 99V1355M696.5 99V1355M724.5 99V1355M752.5 99V1355M780.5 99V1355M807.5 99V1355M835.5 99V1355M863.5 99V1355M891.5 99V1355M919.5 99V1355M944.5 99V1355M972.5 99V1355M1000.5 99V1355M1028.5 99V1355M1056.5 99V1355M1083.5 99V1355M1111.5 99V1355M1139.5 99V1355M1167.5 99V1355M1195.5 99V1355M1222.5 99V1355M1250.5 99V1355M1278.5 99V1355M1306.5 99V1355M1334.5 99V1355M1362.5 99V1355M1389.5 99V1355M1417.5 99V1355M1445.5 99V1355M1473.5 99V1355M1501.5 99V1355M1529.5 99V1355M1556.5 99V1355M1584.5 99V1355M1612.5 99V1355M1640.5 99V1355M1668.5 99V1355" stroke="rgb(80,0,0)"/><path d="M250.5 99V1355M278.5 99V1355M306.5 99V1355M334.5 99V1355M361.5 99V1355M389.5 99V1355M417.5 99V1355M445.5 99V1355M473.5 99V1355M500.5 99V1355M528.5 99V1355M556.5 99V1355M584.5 99V1355M612.5 99V1355M639.5 99V1355M667.5 99V1355M695.5 99V1355M723.5 99V1355M751.5 99V1355M779.5 99V1355M806.5 99V1355M834.5 99V1355M862.5 99V1355M890.5 99V1355M918.5 99V1355M943.5 99V1355M971.5 99V1355M999.5 99V1355M1027.5 99V1355M1055.5 99V1355M1082.5 99V1355M1110.5 99V1355M1138.5 99V1355M1166.5 99V1355M1194.5 99V1355M1221.5 99V1355M1249.5 99V1355M1277.5 99V1355M1305.5 99V1355M1333.5 99V1355M1361.5 99V1355M1388.5 99V1355M1416.5 99V1355M1444.5 99V1355M1472.5 99V1355M1500.5 99V1355M1528.5 99V1355M1555.5 99V1355M1583.5 99V1355M1611.5 99V1355M1639.5 99V1355M1667.5 99V1355" stroke="rgb(84,0,0)"/><path d="M249.5 99V1355M277.5 99V1355M305.5 99V1355M333.5 99V1355M360.5 99V1355M388.5 99V1355M416.5 99V1355M444.5 99V1355M472.5 99V1355M499.5 99V1355M527.5 99V1355M555.5 99V1355M583.5 99V1355M611.5 99V1355M638.5 99V1355M666.5 99V1355M694.5 99V1355M722.5 99V1355M750.5 99V1355M778.5 99V1355M805.5 99V1355M833.5 99V1355M861.5 99V1355M889.5 99V1355M917.5 99V1355M942.5 99V1355M970.5 99V1355M998.5 99V1355M1026.5 99V1355M1054.5 99V1355M1081.5 99V1355M1109.5 99V1355M1137.5 99V1355M1165.5 99V1355M1193.5 99V1355M1220.5 99V1355M1248.5 99V1355M1276.5 99V1355M1304.5 99V1355M1332.5 99V1355M1360.5 99V1355M1387.5 99V1355M1415.5 99V1355M1443.5 99V1355M1471.5 99V1355M1499.5 99V1355M1527.5 99V1355M1554.5 99V1355M1582.5 99V1355M1610.5 99V1355M1638.5 99V1355M1666.5 99V1355" stroke="rgb(88,0,0)"/><path d="M248.5 99V1355M276.5 99V1355M304.5 99V1355M332.5 99V1355M359.5 99V1355M387.5 99V1355M415.5 99V1355M443.5 99V1355M471.5 99V1355M498.5 99V1355M526.5 99V1355M554.5 99V1355M582.5 99V1355M610.5 99V1355M637.5 99V1355M665.5 99V1355M693.5 99V1355M721.5 99V1355M749.5 99V1355M777.5 99V1355M804.5 99V1355M832.5 99V1355M860.5 99V1355M888.5 99V1355M916.5 99V1355M941.5 99V1355M969.5 99V1355M997.5 99V1355M1025.5 99V1355M1053.5 99V1355M1080.5 99V1355M1108.5 99V1355M1136.5 99V1355M1164.5 99V1355M1192.5 99V1355M1219.5 99V1355M1247.5 99V1355M1275.5 99V1355M1303.5 99V1355M1331.5 99V1355M1359.5 99V1355M1386.5 99V1355M1414.5 99V1355M1442.5 99V1355M1470.5 99V1355M1498.5 99V1355M1526.5 99V1355M1553.5 99V1355M1581.5 99V1355M1609.5 99V1355M1637.5 99V1355M1665.5 99V1355" stroke="rgb(92,0,0)"/><path d="M247.5 99V1355M275.5 99V1355M303.5 99V1355M331.5 99V1355M358.5 99V1355M386.5 99V1355M414.5 99V1355M442.5 99V1355M470.5 99V1355M497.5 99V1355M525.5 99V1355M553.5 99V1355M581.5 99V1355M609.5 99V1355M636.5 99V1355M664.5 99V1355M692.5 99V1355M720.5 99V1355M748.5 99V1355M776.5 99V1355M803.5 99V1355M831.5 99V1355M859.5 99V1355M887.5 99V1355M915.5 99V1355M940.5 99V1355M968.5 99V1355M996.5 99V1355M1024.5 99V1355M1052.5 99V1355M1079.5 99V1355M1107.5 99V1355M1135.5 99V1355M1163.5 99V1355M1191.5 99V1355M1218.5 99V1355M1246.5 99V1355M1274.5 99V1355M1302.5 99V1355M1330.5 99V1355M1358.5 99V1355M1385.5 99V1355M1413.5 99V1355M1441.5 99V1355M1469.5 99V1355M1497.5 99V1355M1525.5 99V1355M1552.5 99V1355M1580.5 99V1355M1608.5 99V1355M1636.5 99V1355M1664.5 99V1355" stroke="rgb(96,0,0)"/><path d="M246.5 99V1355M274.5 99V1355M302.5 99V1355M330.5 99V1355M357.5 99V1355M385.5 99V1355M413.5 99V1355M441.5 99V1355M469.5 99V1355M496.5 99V1355M524.5 99V1355M552.5 99V1355M580.5 99V1355M608.5 99V1355M635.5 99V1355M663.5 99V1355M691.5 99V1355M719.5 99V1355M747.5 99V1355M775.5 99V1355M802.5 99V1355M830.5 99V1355M858.5 99V1355M886.5 99V1355M914.5 99V1355M939.5 99V1355M967.5 99V1355M995.5 99V1355M1023.5 99V1355M1051.5 99V1355M1078.5 99V1355M1106.5 99V1355M1134.5 99V1355M1162.5 99V1355M1190.5 99V1355M1217.5 99V1355M1245.5 99V1355M1273.5 99V1355M1301.5 99V1355M1329.5 99V1355M1357.5 99V1355M1384.5 99V1355M1412.5 99V1355M1440.5 99V1355M1468.5 99V1355M1496.5 99V1355M1524.5 99V1355M1551.5 99V1355M1579.5 99V1355M1607.5 99V1355M1635.5 99V1355M1663.5 99V1355" stroke="rgb(100,0,0)"/><path d="M245.5 99V1355M273.5 99V1355M301.5 99V1355M329.5 99V1355M356.5 99V1355M384.5 99V1355M412.5 99V1355M440.5 99V1355M468.5 99V1355M495.5 99V1355M523.5 99V1355M551.5 99V1355M579.5 99V1355M607.5 99V1355M634.5 99V1355M662.5 99V1355M690.5 99V1355M718.5 99V1355M746.5 99V1355M774.5 99V1355M801.5 99V1355M829.5 99V1355M857.5 99V1355M885.5 99V1355M913.5 99V1355M938.5 99V1355M966.5 99V1355M994.5 99V1355M1022.5 99V1355M1050.5 99V1355M1077.5 99V1355M1105.5 99V1355M1133.5 99V1355M1161.5 99V1355M1189.5 99V1355M1216.5 99V1355M1244.5 99V1355M1272.5 99V1355M1300.5 99V1355M1328.5 99V1355M1356.5 99V1355M1383.5 99V1355M1411.5 99V1355M1439.5 99V1355M1467.5 99V1355M1495.5 99V1355M1523.5 99V1355M1550.5 99V1355M1578.5 99V1355M1606.5 99V1355M1634.5 99V1355M1662.5 99V1355" stroke="rgb(104,0,0)"/><path d="M244.5 99V1355M272.5 99V1355M300.5 99V1355M328.5 99V1355M355.5 99V1355M383.5 99V1355M411.5 99V1355M439.5 99V1355M467.5 99V1355M494.5 99V1355M522.5 99V1355M550.5 99V1355M578.5 99V1355M606.5 99V1355M633.5 99V1355M661.5 99V1355M689.5 99V1355M717.5 99V1355M745.5 99V1355M773.5 99V1355M800.5 99V1355M828.5 99V1355M856.5 99V1355M884.5 99V1355M912.5 99V1355M937.5 99V1355M965.5 99V1355M993.5 99V1355M1021.5 99V1355M1049.5 99V1355M1076.5 99V1355M1104.5 99V1355M1132.5 99V1355M1160.5 99V1355M1188.5 99V1355M1215.5 99V1355M1243.5 99V1355M1271.5 99V1355M1299.5 99V1355M1327.5 99V1355M1355.5 99V1355M1382.5 99V1355M1410.5 99V1355M1438.5 99V1355M1466.5 99V1355M1494.5 99V1355M1522.5 99V1355M1549.5 99V1355M1577.5 99V1355M1605.5 99V1355M1633.5 99V1355M1661.5 99V1355" stroke="rgb(108,0,0)"/><path d="M243.5 99V1355M271.5 99V1355M299.5 99V1355M327.5 99V1355M354.5 99V1355M382.5 99V1355M410.5 99V1355M438.5 99V1355M466.5 99V1355M493.5 99V1355M521.5 99V1355M549.5 99V1355M577.5 99V1355M605.5 99V1355M632.5 99V1355M660.5 99V1355M688.5 99V1355M716.5 99V1355M744.5 99V1355M772.5 99V1355M799.5 99V1355M827.5 99V1355M855.5 99V1355M883.5 99V1355M911.5 99V1355M936.5 99V1355M964.5 99V1355M992.5 99V1355M1020.5 99V1355M1048.5 99V1355M1075.5 99V1355M1103.5 99V1355M1131.5 99V1355M1159.5 99V1355M1187.5 99V1355M1214.5 99V1355M1242.5 99V1355M1270.5 99V1355M1298.5 99V1355M1326.5 99V1355M1354.5 99V1355M1381.5 99V1355M1409.5 99V1355M1437.5 99V1355M1465.5 99V1355M1493.5 99V1355M1521.5 99V1355M1548.5 99V1355M1576.5 99V1355M1604.5 99V1355M1632.5 99V1355M1660.5 99V1355" stroke="rgb(112,0,0)"/><path d="M242.5 99V1355M270.5 99V1355M298.5 99V1355M326.5 99V1355M353.5 99V1355M381.5 99V1355M409.5 99V1355M437.5 99V1355M465.5 99V1355M492.5 99V1355M520.5 99V1355M548.5 99V1355M576.5 99V1355M604.5 99V1355M631.5 99V1355M659.5 99V1355M687.5 99V1355M715.5 99V1355M743.5 99V1355M771.5 99V1355M798.5 99V1355M826.5 99V1355M854.5 99V1355M882.5 99V1355M910.5 99V1355M935.5 99V1355M963.5 99V1355M991.5 99V1355M1019.5 99V1355M1047.5 99V1355M1074.5 99V1355M1102.5 99V1355M1130.5 99V1355M1158.5 99V1355M1186.5 99V1355M1213.5 99V1355M1241.5 99V1355M1269.5 99V1355M1297.5 99V1355M1325.5 99V1355M1353.5 99V1355M1380.5 99V1355M1408.5 99V1355M1436.5 99V1355M1464.5 99V1355M1492.5 99V1355M1520.5 99V1355M1547.5 99V1355M1575.5 99V1355M1603.5 99V1355M1631.5 99V1355M1659.5 99V1355" stroke="rgb(116,0,0)"/><path d="M241.5 99V1355M269.5 99V1355M297.5 99V1355M325.5 99V1355M352.5 99V1355M380.5 99V1355M408.5 99V1355M436.5 99V1355M464.5 99V1355M491.5 99V1355M519.5 99V1355M547.5 99V1355M575.5 99V1355M603.5 99V1355M630.5 99V1355M658.5 99V1355M686.5 99V1355M714.5 99V1355M742.5 99V1355M770.5 99V1355M797.5 99V1355M825.5 99V1355M853.5 99V1355M881.5 99V1355M909.5 99V1355M934.5 99V1355M962.5 99V1355M990.5 99V1355M1018.5 99V1355M1046.5 99V1355M1073.5 99V1355M1101.5 99V1355M1129.5 99V1355M1157.5 99V1355M1185.5 99V1355M1212.5 99V1355M1240.5 99V1355M1268.5 99V1355M1296.5 99V1355M1324.5 99V1355M1352.5 99V1355M1379.5 99V1355M1407.5 99V1355M1435.5 99V1355M1463.5 99V1355M1491.5 99V1355M1519.5 99V1355M1546.5 99V1355M1574.5 99V1355M1602.5 99V1355M1630.5 99V1355M1658.5 99V1355" stroke="rgb(120,0,0)"/><path d="M240.5 99V1355M268.5 99V1355M296.5 99V1355M324.5 99V1355M351.5 99V1355M379.5 99V1355M407.5 99V1355M435.5 99V1355M463.5 99V1355M490.5 99V1355M518.5 99V1355M546.5 99V1355M574.5 99V1355M602.5 99V1355M629.5 99V1355M657.5 99V1355M685.5 99V1355M713.5 99V1355M741.5 99V1355M769.5 99V1355M796.5 99V1355M824.5 99V1355M852.5 99V1355M880.5 99V1355M908.5 99V1355M933.5 99V1355M961.5 99V1355M989.5 99V1355M1017.5 99V1355M1045.5 99V1355M1072.5 99V1355M1100.5 99V1355M1128.5 99V1355M1156.5 99V1355M1184.5 99V1355M1211.5 99V1355M1239.5 99V1355M1267.5 99V1355M1295.5 99V1355M1323.5 99V1355M1351.5 99V1355M1378.5 99V1355M1406.5 99V1355M1434.5 99V1355M1462.5 99V1355M1490.5 99V1355M1518.5 99V1355M1545.5 99V1355M1573.5 99V1355M1601.5 99V1355M1629.5 99V1355M1657.5 99V1355" stroke="rgb(124,0,0)"/><path d="M239.5 99V1355M267.5 99V1355M295.5 99V1355M323.5 99V1355M350.5 99V1355M378.5 99V1355M406.5 99V1355M434.5 99V1355M462.5 99V1355M489.5 99V1355M517.5 99V1355M545.5 99V1355M573.5 99V1355M601.5 99V1355M628.5 99V1355M656.5 99V1355M684.5 99V1355M712.5 99V1355M740.5 99V1355M768.5 99V1355M795.5 99V1355M823.5 99V1355M851.5 99V1355M879.5 99V1355M907.5 99V1355M932.5 99V1355M960.5 99V1355M988.5 99V1355M1016.5 99V1355M1044.5 99V1355M1071.5 99V1355M1099.5 99V1355M1127.5 99V1355M1155.5 99V1355M1183.5 99V1355M1210.5 99V1355M1238.5 99V1355M1266.5 99V1355M1294.5 99V1355M1322.5 99V1355M1350.5 99V1355M1377.5 99V1355M1405.5 99V1355M1433.5 99V1355M1461.5 99V1355M1489.5 99V1355M1517.5 99V1355M1544.5 99V1355M1572.5 99V1355M1600.5 99V1355M1628.5 99V1355M1656.5 99V1355" stroke="rgb(128,0,0)"/><path d="M238.5 99V1355M266.5 99V1355M294.5 99V1355M322.5 99V1355M349.5 99V1355M377.5 99V1355M405.5 99V1355M433.5 99V1355M461.5 99V1355M488.5 99V1355M516.5 99V1355M544.5 99V1355M572.5 99V1355M600.5 99V1355M627.5 99V1355M655.5 99V1355M683.5 99V1355M711.5 99V1355M739.5 99V1355M767.5 99V1355M794.5 99V1355M822.5 99V1355M850.5 99V1355M878.5 99V1355M906.5 99V1355M931.5 99V1355M959.5 99V1355M987.5 99V1355M1015.5 99V1355M1043.5 99V1355M1070.5 99V1355M1098.5 99V1355M1126.5 99V1355M1154.5 99V1355M1182.5 99V1355M1209.5 99V1355M1237.5 99V1355M1265.5 99V1355M1293.5 99V1355M1321.5 99V1355M1349.5 99V1355M1376.5 99V1355M1404.5 99V1355M1432.5 99V1355M1460.5 99V1355M1488.5 99V1355M1516.5 99V1355M1543.5 99V1355M1571.5 99V1355M1599.5 99V1355M1627.5 99V1355M1655.5 99V1355" stroke="rgb(132,0,0)"/><path d="M237.5 99V1355M265.5 99V1355M293.5 99V1355M321.5 99V1355M348.5 99V1355M376.5 99V1355M404.5 99V1355M432.5 99V1355M460.5 99V1355M487.5 99V1355M515.5 99V1355M543.5 99V1355M571.5 99V1355M599.5 99V1355M626.5 99V1355M654.5 99V1355M682.5 99V1355M710.5 99V1355M738.5 99V1355M766.5 99V1355M793.5 99V1355M821.5 99V1355M849.5 99V1355M877.5 99V1355M905.5 99V1355M930.5 99V1355M958.5 99V1355M986.5 99V1355M1014.5 99V1355M1042.5 99V1355M1069.5 99V1355M1097.5 99V1355M1125.5 99V1355M1153.5 99V1355M1181.5 99V1355M1208.5 99V1355M1236.5 99V1355M1264.5 99V1355M1292.5 99V1355M1320.5 99V1355M1348.5 99V1355M1375.5 99V1355M1403.5 99V1355M1431.5 99V1355M1459.5 99V1355M1487.5 99V1355M1515.5 99V1355M1542.5 99V1355M1570.5 99V1355M1598.5 99V1355M1626.5 99V1355M1654.5 99V1355" stroke="rgb(136,0,0)"/><path d="M236.5 99V1355M264.5 99V1355M292.5 99V1355M320.5 99V1355M347.5 99V1355M375.5 99V1355M403.5 99V1355M431.5 99V1355M459.5 99V1355M486.5 99V1355M514.5 99V1355M542.5 99V1355M570.5 99V1355M598.5 99V1355M625.5 99V1355M653.5 99V1355M681.5 99V1355M709.5 99V1355M737.5 99V1355M765.5 99V1355M792.5 99V1355M820.5 99V1355M848.5 99V1355M876.5 99V1355M904.5 99V1355M929.5 99V1355M957.5 99V1355M985.5 99V1355M1013.5 99V1355M1041.5 99V1355M1068.5 99V1355M1096.5 99V1355M1124.5 99V1355M1152.5 99V1355M1180.5 99V1355M1207.5 99V1355M1235.5 99V1355M1263.5 99V1355M1291.5 99V1355M1319.5 99V1355M1347.5 99V1355M1374.5 99V1355M1402.5 99V1355M1430.5 99V1355M1458.5 99V1355M1486.5 99V1355M1514.5 99V1355M1541.5 99V1355M1569.5 99V1355M1597.5 99V1355M1625.5 99V1355M1653.5 99V1355" stroke="rgb(140,0,0)"/><path d="M235.5 99V1355M263.5 99V1355M291.5 99V1355M319.5 99V1355M346.5 99V1355M374.5 99V1355M402.5 99V1355M430.5 99V1355M458.5 99V1355M485.5 99V1355M513.5 99V1355M541.5 99V1355M569.5 99V1355M597.5 99V1355M624.5 99V1355M652.5 99V1355M680.5 99V1355M708.5 99V1355M736.5 99V1355M764.5 99V1355M791.5 99V1355M819.5 99V1355M847.5 99V1355M875.5 99V1355M903.5 99V1355M928.5 99V1355M956.5 99V1355M984.5 99V1355M1012.5 99V1355M1040.5 99V1355M1067.5 99V1355M1095.5 99V1355M1123.5 99V1355M1151.5 99V1355M1179.5 99V1355M1206.5 99V1355M1234.5 99V1355M1262.5 99V1355M1290.5 99V1355M1318.5 99V1355M1346.5 99V1355M1373.5 99V1355M1401.5 99V1355M1429.5 99V1355M1457.5 99V1355M1485.5 99V1355M1513.5 99V1355M1540.5 99V1355M1568.5 99V1355M1596.5 99V1355M1624.5 99V1355M1652.5 99V1355" stroke="rgb(144,0,0)"/><path d="M234.5 99V1355M262.5 99V1355M290.5 99V1355M318.5 99V1355M345.5 99V1355M373.5 99V1355M401.5 99V1355M429.5 99V1355M457.5 99V1355M484.5 99V1355M512.5 99V1355M540.5 99V1355M568.5 99V1355M596.5 99V1355M623.5 99V1355M651.5 99V1355M679.5 99V1355M707.5 99V1355M735.5 99V1355M763.5 99V1355M790.5 99V1355M818.5 99V1355M846.5 99V1355M874.5 99V1355M902.5 99V1355M927.5 99V1355M955.5 99V1355M983.5 99V1355M1011.5 99V1355M1039.5 99V1355M1066.5 99V1355M1094.5 99V1355M1122.5 99V1355M1150.5 99V1355M1178.5 99V1355M1205.5 99V1355M1233.5 99V1355M1261.5 99V1355M1289.5 99V1355M1317.5 99V1355M1345.5 99V1355M1372.5 99V1355M1400.5 99V1355M1428.5 99V1355M1456.5 99V1355M1484.5 99V1355M1512.5 99V1355M1539.5 99V1355M1567.5 99V1355M1595.5 99V1355M1623.5 99V1355M1651.5 99V1355" stroke="rgb(148,0,0)"/><path d="M233.5 99V1355M261.5 99V1355M289.5 99V1355M317.5 99V1355M344.5 99V1355M372.5 99V1355M400.5 99V1355M428.5 99V1355M456.5 99V1355M483.5 99V1355M511.5 99V1355M539.5 99V1355M567.5 99V1355M595.5 99V1355M622.5 99V1355M650.5 99V1355M678.5 99V1355M706.5 99V1355M734.5 99V1355M762.5 99V1355M789.5 99V1355M817.5 99V1355M845.5 99V1355M873.5 99V1355M901.5 99V1355M926.5 99V1355M954.5 99V1355M982.5 99V1355M1010.5 99V1355M1038.5 99V1355M1065.5 99V1355M1093.5 99V1355M1121.5 99V1355M1149.5 99V1355M1177.5 99V1355M1204.5 99V1355M1232.5 99V1355M1260.5 99V1355M1288.5 99V1355M1316.5 99V1355M1344.5 99V1355M1371.5 99V1355M1399.5 99V1355M1427.5 99V1355M1455.5 99V1355M1483.5 99V1355M1511.5 99V1355M1538.5 99V1355M1566.5 99V1355M1594.5 99V1355M1622.5 99V1355M1650.5 99V1355" stroke="rgb(152,0,0)"/><path d="M232.5 99V1355M260.5 99V1355M288.5 99V1355M316.5 99V1355M343.5 99V1355M371.5 99V1355M399.5 99V1355M427.5 99V1355M455.5 99V1355M482.5 99V1355M510.5 99V1355M538.5 99V1355M566.5 99V1355M594.5 99V1355M621.5 99V1355M649.5 99V1355M677.5 99V1355M705.5 99V1355M733.5 99V1355M761.5 99V1355M788.5 99V1355M816.5 99V1355M844.5 99V1355M872.5 99V1355M900.5 99V1355M925.5 99V1355M953.5 99V1355M981.5 99V1355M1009.5 99V1355M1037.5 99V1355M1064.5 99V1355M1092.5 99V1355M1120.5 99V1355M1148.5 99V1355M1176.5 99V1355M1203.5 99V1355M1231.5 99V1355M1259.5 99V1355M1287.5 99V1355M1315.5 99V1355M1343.5 99V1355M1370.5 99V1355M1398.5 99V1355M1426.5 99V1355M1454.5 99V1355M1482.5 99V1355M1510.5 99V1355M1537.5 99V1355M1565.5 99V1355M1593.5 99V1355M1621.5 99V1355M1649.5 99V1355" stroke="rgb(156,0,0)"/><path d="M231.5 99V1355M259.5 99V1355M287.5 99V1355M315.5 99V1355M342.5 99V1355M370.5 99V1355M398.5 99V1355M426.5 99V1355M454.5 99V1355M481.5 99V1355M509.5 99V1355M537.5 99V1355M565.5 99V1355M593.5 99V1355M620.5 99V1355M648.5 99V1355M676.5 99V1355M704.5 99V1355M732.5 99V1355M760.5 99V1355M787.5 99V1355M815.5 99V1355M843.5 99V1355M871.5 99V1355M899.5 99V1355M924.5 99V1355M952.5 99V1355M980.5 99V1355M1008.5 99V1355M1036.5 99V1355M1063.5 99V1355M1091.5 99V1355M1119.5 99V1355M1147.5 99V1355M1175.5 99V1355M1202.5 99V1355M1230.5 99V1355M1258.5 99V1355M1286.5 99V1355M1314.5 99V1355M1342.5 99V1355M1369.5 99V1355M1397.5 99V1355M1425.5 99V1355M1453.5 99V1355M1481.5 99V1355M1509.5 99V1355M1536.5 99V1355M1564.5 99V1355M1592.5 99V1355M1620.5 99V1355M1648.5 99V1355" stroke="rgb(160,0,0)"/><path d="M230.5 99V1355M258.5 99V1355M286.5 99V1355M314.5 99V1355M341.5 99V1355M369.5 99V1355M397.5 99V1355M425.5 99V1355M453.5 99V1355M480.5 99V1355M508.5 99V1355M536.5 99V1355M564.5 99V1355M592.5 99V1355M619.5 99V1355M647.5 99V1355M675.5 99V1355M703.5 99V1355M731.5 99V1355M759.5 99V1355M786.5 99V1355M814.5 99V1355M842.5 99V1355M870.5 99V1355M898.5 99V1355M923.5 99V1355M951.5 99V1355M979.5 99V1355M1007.5 99V1355M1035.5 99V1355M1062.5 99V1355M1090.5 99V1355M1118.5 99V1355M1146.5 99V1355M1174.5 99V1355M1201.5 99V1355M1229.5 99V1355M1257.5 99V1355M1285.5 99V1355M1313.5 99V1355M1341.5 99V1355M1368.5 99V1355M1396.5 99V1355M1424.5 99V1355M1452.5 99V1355M1480.5 99V1355M1508.5 99V1355M1535.5 99V1355M1563.5 99V1355M1591.5 99V1355M1619.5 99V1355M1647.5 99V1355" stroke="rgb(164,0,0)"/><path d="M229.5 99V1355M257.5 99V1355M285.5 99V1355M313.5 99V1355M340.5 99V1355M368.5 99V1355M396.5 99V1355M424.5 99V1355M452.5 99V1355M479.5 99V1355M507.5 99V1355M535.5 99V1355M563.5 99V1355M591.5 99V1355M618.5 99V1355M646.5 99V1355M674.5 99V1355M702.5 99V1355M730.5 99V1355M758.5 99V1355M785.5 99V1355M813.5 99V1355M841.5 99V1355M869.5 99V1355M897.5 99V1355M922.5 99V1355M950.5 99V1355M978.5 99V1355M1006.5 99V1355M1034.5 99V1355M1061.5 99V1355M1089.5 99V1355M1117.5 99V1355M1145.5 99V1355M1173.5 99V1355M1200.5 99V1355M1228.5 99V1355M1256.5 99V1355M1284.5 99V1355M1312.5 99V1355M1340.5 99V1355M1367.5 99V1355M1395.5 99V1355M1423.5 99V1355M1451.5 99V1355M1479.5 99V1355M1507.5 99V1355M1534.5 99V1355M1562.5 99V1355M1590.5 99V1355M1618.5 99V1355M1646.5 99V1355" stroke="rgb(168,0,0)"/><path d="M228.5 99V1355M256.5 99V1355M284.5 99V1355M312.5 99V1355M339.5 99V1355M367.5 99V1355M395.5 99V1355M423.5 99V1355M451.5 99V1355M478.5 99V1355M506.5 99V1355M534.5 99V1355M562.5 99V1355M590.5 99V1355M617.5 99V1355M645.5 99V1355M673.5 99V1355M701.5 99V1355M729.5 99V1355M757.5 99V1355M784.5 99V1355M812.5 99V1355M840.5 99V1355M868.5 99V1355M896.5 99V1355M921.5 99V1355M949.5 99V1355M977.5 99V1355M1005.5 99V1355M1033.5 99V1355M1060.5 99V1355M1088.5 99V1355M1116.5 99V1355M1144.5 99V1355M1172.5 99V1355M1199.5 99V1355M1227.5 99V1355M1255.5 99V1355M1283.5 99V1355M1311.5 99V1355M1339.5 99V1355M1366.5 99V1355M1394.5 99V1355M1422.5 99V1355M1450.5 99V1355M1478.5 99V1355M1506.5 99V1355M1533.5 99V1355M1561.5 99V1355M1589.5 99V1355M1617.5 99V1355M1645.5 99V1355" stroke="rgb(172,0,0)"/><path d="M227.5 99V1355M255.5 99V1355M283.5 99V1355M311.5 99V1355M338.5 99V1355M366.5 99V1355M394.5 99V1355M422.5 99V1355M450.5 99V1355M477.5 99V1355M505.5 99V1355M533.5 99V1355M561.5 99V1355M589.5 99V1355M616.5 99V1355M644.5 99V1355M672.5 99V1355M700.5 99V1355M728.5 99V1355M756.5 99V1355M783.5 99V1355M811.5 99V1355M839.5 99V1355M867.5 99V1355M895.5 99V1355M920.5 99V1355M948.5 99V1355M976.5 99V1355M1004.5 99V1355M1032.5 99V1355M1059.5 99V1355M1087.5 99V1355M1115.5 99V1355M1143.5 99V1355M1171.5 99V1355M1198.5 99V1355M1226.5 99V1355M1254.5 99V1355M1282.5 99V1355M1310.5 99V1355M1338.5 99V1355M1365.5 99V1355M1393.5 99V1355M1421.5 99V1355M1449.5 99V1355M1477.5 99V1355M1505.5 99V1355M1532.5 99V1355M1560.5 99V1355M1588.5 99V1355M1616.5 99V1355M1644.5 99V1355" stroke="rgb(176,0,0)"/><path d="M254.5 99V1355M282.5 99V1355M310.5 99V1355M365.5 99V1355M393.5 99V1355M421.5 99V1355M449.5 99V1355M476.5 99V1355M504.5 99V1355M532.5 99V1355M560.5 99V1355M588.5 99V1355M643.5 99V1355M671.5 99V1355M699.5 99V1355M727.5 99V1355M755.5 99V1355M810.5 99V1355M838.5 99V1355M866.5 99V1355M894.5 99V1355M947.5 99V1355M975.5 99V1355M1003.5 99V1355M1031.5 99V1355M1058.5 99V1355M1086.5 99V1355M1114.5 99V1355M1142.5 99V1355M1170.5 99V1355M1225.5 99V1355M1253.5 99V1355M1281.5 99V1355M1309.5 99V1355M1337.5 99V1355M1392.5 99V1355M1420.5 99V1355M1448.5 99V1355M1476.5 99V1355M1504.5 99V1355M1559.5 99V1355M1587.5 99V1355M1615.5 99V1355M1643.5 99V1355" stroke="rgb(180,0,0)"/><path d="M253.5 99V1355M309.5 99V1355M364.5 99V1355M420.5 99V1355M475.5 99V1355M531.5 99V1355M587.5 99V1355M642.5 99V1355M698.5 99V1355M754.5 99V1355M809.5 99V1355M865.5 99V1355M946.5 99V1355M1002.5 99V1355M1057.5 99V1355M1113.5 99V1355M1169.5 99V1355M1224.5 99V1355M1280.5 99V1355M1336.5 99V1355M1391.5 99V1355M1447.5 99V1355M1503.5 99V1355M1558.5 99V1355M1614.5 99V1355" stroke="rgb(184,0,0)"/><path d="M252.5 99V1355M308.5 99V1355M363.5 99V1355M419.5 99V1355M530.5 99V1355M586.5 99V1355M641.5 99V1355M697.5 99V1355M753.5 99V1355M808.5 99V1355M864.5 99V1355M945.5 99V1355M1001.5 99V1355M1112.5 99V1355M1168.5 99V1355M1223.5 99V1355M1279.5 99V1355M1335.5 99V1355M1390.5 99V1355M1446.5 99V1355M1502.5 99V1355M1557.5 99V1355M1613.5 99V1355" stroke="rgb(188,0,0)"/></g>
<g fill="none" stroke-width="1" style="mix-blend-mode:screen"><path d="M227 102.5H1669M227 109.5H1669M227 113.5H1669M227 117.5H1669M227 124.5H1669M227 128.5H1669M227 135.5H1669M227 139.5H1669M227 146.5H1669M227 150.5H1669M227 154.5H1669M227 161.5H1669M227 165.5H1669M227 172.5H1669M227 176.5H1669M227 180.5H1669M227 187.5H1669M227 191.5H1669M227 198.5H1669M227 202.5H1669M227 209.5H1669M227 213.5H1669M227 217.5H1669M227 224.5H1669M227 228.5H1669M227 235.5H1669M227 239.5H1669M227 246.5H1669M227 250.5H1669M227 254.5H1669M227 261.5H1669M227 265.5H1669M227 272.5H1669M227 276.5H1669M227 280.5H1669M227 287.5H1669M227 291.5H1669M227 298.5H1669M227 302.5H1669M227 309.5H1669M227 313.5H1669M227 317.5H1669M227 324.5H1669M227 328.5H1669M227 335.5H1669M227 339.5H1669M227 343.5H1669M227 350.5H1669M227 354.5H1669M227 361.5H1669M227 365.5H1669M227 372.5H1669M227 376.5H1669M227 380.5H1669M227 387.5H1669M227 391.5H1669M227 398.5H1669M227 402.5H1669M227 406.5H1669M227 413.5H1669M227 417.5H1669M227 424.5H1669M227 428.5H1669M227 435.5H1669M227 439.5H1669M227 443.5H1669M227 450.5H1669M227 454.5H1669M227 461.5H1669M227 465.5H1669M227 469.5H1669M227 476.5H1669M227 480.5H1669M227 487.5H1669M227 491.5H1669M227 498.5H1669M227 502.5H1669M227 506.5H1669M227 513.5H1669M227 517.5H1669M227 524.5H1669M227 528.5H1669M227 535.5H1669M227 539.5H1669M227 543.5H1669M227 550.5H1669M227 554.5H1669M227 561.5H1669M227 565.5H1669M227 569.5H1669M227 576.5H1669M227 580.5H1669M227 587.5H1669M227 591.5H1669M227 598.5H1669M227 602.5H1669M227 606.5H1669M227 613.5H1669M227 617.5H1669M227 624.5H1669M227 628.5H1669M227 632.5H1669M227 639.5H1669M227 643.5H1669M227 650.5H1669M227 654.5H1669M227 661.5H1669M227 665.5H1669M227 669.5H1669M227 676.5H1669M227 680.5H1669M227 687.5H1669M227 691.5H1669M227 695.5H1669M227 702.5H1669M227 706.5H1669M227 713.5H1669M227 717.5H1669M227 724.5H1669M227 728.5H1669M227 732.5H1669M227 739.5H1669M227 743.5H1669M227 750.5H1669M227 754.5H1669M227 761.5H1669M227 765.5H1669M227 769.5H1669M227 776.5H1669M227 780.5H1669M227 787.5H1669M227 791.5H1669M227 795.5H1669M227 802.5H1669M227 806.5H1669M227 813.5H1669M227 817.5H1669M227 824.5H1669M227 828.5H1669M227 832.5H1669M227 839.5H1669M227 843.5H1669M227 850.5H1669M227 854.5H1669M227 858.5H1669M227 865.5H1669M227 869.5H1669M227 876.5H1669M227 880.5H1669M227 887.5H1669M227 891.5H1669M227 895.5H1669M227 902.5H1669M227 906.5H1669M227 913.5H1669M227 917.5H1669M227 921.5H1669M227 928.5H1669M227 932.5H1669M227 939.5H1669M227 943.5H1669M227 950.5H1669M227 954.5H1669M227 958.5H1669M227 965.5H1669M227 969.5H1669M227 976.5H1669M227 980.5H1669M227 987.5H1669M227 991.5H1669M227 995.5H1669M227 1002.5H1669M227 1006.5H1669M227 1013.5H1669M227 1017.5H1669M227 1021.5H1669M227 1028.5H1669M227 1032.5H1669M227 1039.5H1669M227 1043.5H1669M227 1050.5H1669M227 1054.5H1669M227 1058.5H1669M227 1065.5H1669M227 1069.5H1669M227 1076.5H1669M227 1080.5H1669M227 1084.5H1669M227 1091.5H1669M227 1095.5H1669M227 1102.5H1669M227 1106.5H1669M227 1113.5H1669M227 1117.5H1669M227 1121.5H1669M227 1128.5H1669M227 1132.5H1669M227 1139.5H1669M227 1143.5H1669M227 1147.5H1669M227 1154.5H1669M227 1158.5H1669M227 1165.5H1669M227 1169.5H1669M227 1176.5H1669M227 1180.5H1669M227 1184.5H1669M227 1191.5H1669M227 1195.5H1669M227 1202.5H1669M227 1206.5H1669M227 1210.5H1669M227 1217.5H1669M227 1221.5H1669M227 1228.5H1669M227 1232.5H1669M227 1239.5H1669M227 1243.5H1669M227 1247.5H1669M227 1254.5H1669M227 1258.5H1669M227 1265.5H1669M227 1269.5H1669M227 1276.5H1669M227 1280.5H1669M227 1284.5H1669M227 1291.5H1669M227 1295.5H1669M227 1302.5H1669M227 1306.5H1669M227 1310.5H1669M227 1317.5H1669M227 1321.5H1669M227 1328.5H1669M227 1332.5H1669M227 1339.5H1669M227 1343.5H1669M227 1347.5H1669M227 1354.5H1669" stroke="rgb(0,120,0)"/><path d="M227 101.5H1669M227 105.5H1669M227 108.5H1669M227 112.5H1669M227 116.5H1669M227 120.5H1669M227 123.5H1669M227 127.5H1669M227 131.5H1669M227 134.5H1669M227 138.5H1669M227 142.5H1669M227 145.5H1669M227 149.5H1669M227 153.5H1669M227 157.5H1669M227 160.5H1669M227 164.5H1669M227 168.5H1669M227 171.5H1669M227 175.5H1669M227 179.5H1669M227 183.5H1669M227 186.5H1669M227 190.5H1669M227 194.5H1669M227 197.5H1669M227 201.5H1669M227 205.5H1669M227 208.5H1669M227 212.5H1669M227 216.5H1669M227 220.5H1669M227 223.5H1669M227 227.5H1669M227 231.5H1669M227 234.5H1669M227 238.5H1669M227 242.5H1669M227 245.5H1669M227 249.5H1669M227 253.5H1669M227 257.5H1669M227 260.5H1669M227 264.5H1669M227 268.5H1669M227 271.5H1669M227 275.5H1669M227 279.5H1669M227 283.5H1669M227 286.5H1669M227 290.5H1669M227 294.5H1669M227 297.5H1669M227 301.5H1669M227 305.5H1669M227 308.5H1669M227 312.5H1669M227 316.5H1669M227 320.5H1669M227 323.5H1669M227 327.5H1669M227 331.5H1669M227 334.5H1669M227 338.5H1669M227 342.5H1669M227 346.5H1669M227 349.5H1669M227 353.5H1669M227 357.5H1669M227 360.5H1669M227 364.5H1669M227 368.5H1669M227 371.5H1669M227 375.5H1669M227 379.5H1669M227 383.5H1669M227 386.5H1669M227 390.5H1669M227 394.5H1669M227 397.5H1669M227 401.5H1669M227 405.5H1669M227 409.5H1669M227 412.5H1669M227 416.5H1669M227 420.5H1669M227 423.5H1669M227 427.5H1669M227 431.5H1669M227 434.5H1669M227 438.5H1669M227 442.5H1669M227 446.5H1669M227 449.5H1669M227 453.5H1669M227 457.5H1669M227 460.5H1669M227 464.5H1669M227 468.5H1669M227 472.5H1669M227 475.5H1669M227 479.5H1669M227 483.5H1669M227 486.5H1669M227 490.5H1669M227 494.5H1669M227 497.5H1669M227 501.5H1669M227 505.5H1669M227 509.5H1669M227 512.5H1669M227 516.5H1669M227 520.5H1669M227 523.5H1669M227 527.5H1669M227 531.5H1669M227 534.5H1669M227 538.5H1669M227 542.5H1669M227 546.5H1669M227 549.5H1669M227 553.5H1669M227 557.5H1669M227 560.5H1669M227 564.5H1669M227 568.5H1669M227 572.5H1669M227 575.5H1669M227 579.5H1669M227 583.5H1669M227 586.5H1669M227 590.5H1669M227 594.5H1669M227 597.5H1669M227 601.5H1669M227 605.5H1669M227 609.5H1669M227 612.5H1669M227 616.5H1669M227 620.5H1669M227 623.5H1669M227 627.5H1669M227 631.5H1669M227 635.5H1669M227 638.5H1669M227 642.5H1669M227 646.5H1669M227 649.5H1669M227 653.5H1669M227 657.5H1669M227 660.5H1669M227 664.5H1669M227 668.5H1669M227 672.5H1669M227 675.5H1669M227 679.5H1669M227 683.5H1669M227 686.5H1669M227 690.5H1669M227 694.5H1669M227 698.5H1669M227 701.5H1669M227 705.5H1669M227 709.5H1669M227 712.5H1669M227 716.5H1669M227 720.5H1669M227 723.5H1669M227 727.5H1669M227 731.5H1669M227 735.5H1669M227 738.5H1669M227 742.5H1669M227 746.5H1669M227 749.5H1669M227 753.5H1669M227 757.5H1669M227 760.5H1669M227 764.5H1669M227 768.5H1669M227 772.5H1669M227 775.5H1669M227 779.5H1669M227 783.5H1669M227 786.5H1669M227 790.5H1669M227 794.5H1669M227 798.5H1669M227 801.5H1669M227 805.5H1669M227 809.5H1669M227 812.5H1669M227 816.5H1669M227 820.5H1669M227 823.5H1669M227 827.5H1669M227 831.5H1669M227 835.5H1669M227 838.5H1669M227 842.5H1669M227 846.5H1669M227 849.5H1669M227 853.5H1669M227 857.5H1669M227 861.5H1669M227 864.5H1669M227 868.5H1669M227 872.5H1669M227 875.5H1669M227 879.5H1669M227 883.5H1669M227 886.5H1669M227 890.5H1669M227 894.5H1669M227 898.5H1669M227 901.5H1669M227 905.5H1669M227 909.5H1669M227 912.5H1669M227 916.5H1669M227 920.5H1669M227 924.5H1669M227 927.5H1669M227 931.5H1669M227 935.5H1669M227 938.5H1669M227 942.5H1669M227 946.5H1669M227 949.5H1669M227 953.5H1669M227 957.5H1669M227 961.5H1669M227 964.5H1669M227 968.5H1669M227 972.5H1669M227 975.5H1669M227 979.5H1669M227 983.5H1669M227 986.5H1669M227 990.5H1669M227 994.5H1669M227 998.5H1669M227 1001.5H1669M227 1005.5H1669M227 1009.5H1669M227 1012.5H1669M227 1016.5H1669M227 1020.5H1669M227 1024.5H1669M227 1027.5H1669M227 1031.5H1669M227 1035.5H1669M227 1038.5H1669M227 1042.5H1669M227 1046.5H1669M227 1049.5H1669M227 1053.5H1669M227 1057.5H1669M227 1061.5H1669M227 1064.5H1669M227 1068.5H1669M227 1072.5H1669M227 1075.5H1669M227 1079.5H1669M227 1083.5H1669M227 1087.5H1669M227 1090.5H1669M227 1094.5H1669M227 1098.5H1669M227 1101.5H1669M227 1105.5H1669M227 1109.5H1669M227 1112.5H1669M227 1116.5H1669M227 1120.5H1669M227 1124.5H1669M227 1127.5H1669M227 1131.5H1669M227 1135.5H1669M227 1138.5H1669M227 1142.5H1669M227 1146.5H1669M227 1150.5H1669M227 1153.5H1669M227 1157.5H1669M227 1161.5H1669M227 1164.5H1669M227 1168.5H1669M227 1172.5H1669M227 1175.5H1669M227 1179.5H1669M227 1183.5H1669M227 1187.5H1669M227 1190.5H1669M227 1194.5H1669M227 1198.5H1669M227 1201.5H1669M227 1205.5H1669M227 1209.5H1669M227 1213.5H1669M227 1216.5H1669M227 1220.5H1669M227 1224.5H1669M227 1227.5H1669M227 1231.5H1669M227 1235.5H1669M227 1238.5H1669M227 1242.5H1669M227 1246.5H1669M227 1250.5H1669M227 1253.5H1669M227 1257.5H1669M227 1261.5H1669M227 1264.5H1669M227 1268.5H1669M227 1272.5H1669M227 1275.5H1669M227 1279.5H1669M227 1283.5H1669M227 1287.5H1669M227 1290.5H1669M227 1294.5H1669M227 1298.5H1669M227 1301.5H1669M227 1305.5H1669M227 1309.5H1669M227 1313.5H1669M227 1316.5H1669M227 1320.5H1669M227 1324.5H1669M227 1327.5H1669M227 1331.5H1669M227 1335.5H1669M227 1338.5H1669M227 1342.5H1669M227 1346.5H1669M227 1350.5H1669M227 1353.5H1669" stroke="rgb(0,124,0)"/><path d="M227 100.5H1669M227 104.5H1669M227 107.5H1669M227 111.5H1669M227 115.5H1669M227 119.5H1669M227 122.5H1669M227 126.5H1669M227 130.5H1669M227 133.5H1669M227 137.5H1669M227 141.5H1669M227 144.5H1669M227 148.5H1669M227 152.5H1669M227 156.5H1669M227 159.5H1669M227 163.5H1669M227 167.5H1669M227 170.5H1669M227 174.5H1669M227 178.5H1669M227 182.5H1669M227 185.5H1669M227 189.5H1669M227 193.5H1669M227 196.5H1669M227 200.5H1669M227 204.5H1669M227 207.5H1669M227 211.5H1669M227 215.5H1669M227 219.5H1669M227 222.5H1669M227 226.5H1669M227 230.5H1669M227 233.5H1669M227 237.5H1669M227 241.5H1669M227 244.5H1669M227 248.5H1669M227 252.5H1669M227 256.5H1669M227 259.5H1669M227 263.5H1669M227 267.5H1669M227 270.5H1669M227 274.5H1669M227 278.5H1669M227 282.5H1669M227 285.5H1669M227 289.5H1669M227 293.5H1669M227 296.5H1669M227 300.5H1669M227 304.5H1669M227 307.5H1669M227 311.5H1669M227 315.5H1669M227 319.5H1669M227 322.5H1669M227 326.5H1669M227 330.5H1669M227 333.5H1669M227 337.5H1669M227 341.5H1669M227 345.5H1669M227 348.5H1669M227 352.5H1669M227 356.5H1669M227 359.5H1669M227 363.5H1669M227 367.5H1669M227 370.5H1669M227 374.5H1669M227 378.5H1669M227 382.5H1669M227 385.5H1669M227 389.5H1669M227 393.5H1669M227 396.5H1669M227 400.5H1669M227 404.5H1669M227 408.5H1669M227 411.5H1669M227 415.5H1669M227 419.5H1669M227 422.5H1669M227 426.5H1669M227 430.5H1669M227 433.5H1669M227 437.5H1669M227 441.5H1669M227 445.5H1669M227 448.5H1669M227 452.5H1669M227 456.5H1669M227 459.5H1669M227 463.5H1669M227 467.5H1669M227 471.5H1669M227 474.5H1669M227 478.5H1669M227 482.5H1669M227 485.5H1669M227 489.5H1669M227 493.5H1669M227 496.5H1669M227 500.5H1669M227 504.5H1669M227 508.5H1669M227 511.5H1669M227 515.5H1669M227 519.5H1669M227 522.5H1669M227 526.5H1669M227 530.5H1669M227 533.5H1669M227 537.5H1669M227 541.5H1669M227 545.5H1669M227 548.5H1669M227 552.5H1669M227 556.5H1669M227 559.5H1669M227 563.5H1669M227 567.5H1669M227 571.5H1669M227 574.5H1669M227 578.5H1669M227 582.5H1669M227 585.5H1669M227 589.5H1669M227 593.5H1669M227 596.5H1669M227 600.5H1669M227 604.5H1669M227 608.5H1669M227 611.5H1669M227 615.5H1669M227 619.5H1669M227 622.5H1669M227 626.5H1669M227 630.5H1669M227 634.5H1669M227 637.5H1669M227 641.5H1669M227 645.5H1669M227 648.5H1669M227 652.5H1669M227 656.5H1669M227 659.5H1669M227 663.5H1669M227 667.5H1669M227 671.5H1669M227 674.5H1669M227 678.5H1669M227 682.5H1669M227 685.5H1669M227 689.5H1669M227 693.5H1669M227 697.5H1669M227 700.5H1669M227 704.5H1669M227 708.5H1669M227 711.5H1669M227 715.5H1669M227 719.5H1669M227 722.5H1669M227 726.5H1669M227 730.5H1669M227 734.5H1669M227 737.5H1669M227 741.5H1669M227 745.5H1669M227 748.5H1669M227 752.5H1669M227 756.5H1669M227 759.5H1669M227 763.5H1669M227 767.5H1669M227 771.5H1669M227 774.5H1669M227 778.5H1669M227 782.5H1669M227 785.5H1669M227 789.5H1669M227 793.5H1669M227 797.5H1669M227 800.5H1669M227 804.5H1669M227 808.5H1669M227 811.5H1669M227 815.5H1669M227 819.5H1669M227 822.5H1669M227 826.5H1669M227 830.5H1669M227 834.5H1669M227 837.5H1669M227 841.5H1669M227 845.5H1669M227 848.5H1669M227 852.5H1669M227 856.5H1669M227 860.5H1669M227 863.5H1669M227 867.5H1669M227 871.5H1669M227 874.5H1669M227 878.5H1669M227 882.5H1669M227 885.5H1669M227 889.5H1669M227 893.5H1669M227 897.5H1669M227 900.5H1669M227 904.5H1669M227 908.5H1669M227 911.5H1669M227 915.5H1669M227 919.5H1669M227 923.5H1669M227 926.5H1669M227 930.5H1669M227 934.5H1669M227 937.5H1669M227 941.5H1669M227 945.5H1669M227 948.5H1669M227 952.5H1669M227 956.5H1669M227 960.5H1669M227 963.5H1669M227 967.5H1669M227 971.5H1669M227 974.5H1669M227 978.5H1669M227 982.5H1669M227 985.5H1669M227 989.5H1669M227 993.5H1669M227 997.5H1669M227 1000.5H1669M227 1004.5H1669M227 1008.5H1669M227 1011.5H1669M227 1015.5H1669M227 1019.5H1669M227 1023.5H1669M227 1026.5H1669M227 1030.5H1669M227 1034.5H1669M227 1037.5H1669M227 1041.5H1669M227 1045.5H1669M227 1048.5H1669M227 1052.5H1669M227 1056.5H1669M227 1060.5H1669M227 1063.5H1669M227 1067.5H1669M227 1071.5H1669M227 1074.5H1669M227 1078.5H1669M227 1082.5H1669M227 1086.5H1669M227 1089.5H1669M227 1093.5H1669M227 1097.5H1669M227 1100.5H1669M227 1104.5H1669M227 1108.5H1669M227 1111.5H1669M227 1115.5H1669M227 1119.5H1669M227 1123.5H1669M227 1126.5H1669M227 1130.5H1669M227 1134.5H1669M227 1137.5H1669M227 1141.5H1669M227 1145.5H1669M227 1149.5H1669M227 1152.5H1669M227 1156.5H1669M227 1160.5H1669M227 1163.5H1669M227 1167.5H1669M227 1171.5H1669M227 1174.5H1669M227 1178.5H1669M227 1182.5H1669M227 1186.5H1669M227 1189.5H1669M227 1193.5H1669M227 1197.5H1669M227 1200.5H1669M227 1204.5H1669M227 1208.5H1669M227 1212.5H1669M227 1215.5H1669M227 1219.5H1669M227 1223.5H1669M227 1226.5H1669M227 1230.5H1669M227 1234.5H1669M227 1237.5H1669M227 1241.5H1669M227 1245.5H1669M227 1249.5H1669M227 1252.5H1669M227 1256.5H1669M227 1260.5H1669M227 1263.5H1669M227 1267.5H1669M227 1271.5H1669M227 1274.5H1669M227 1278.5H1669M227 1282.5H1669M227 1286.5H1669M227 1289.5H1669M227 1293.5H1669M227 1297.5H1669M227 1300.5H1669M227 1304.5H1669M227 1308.5H1669M227 1312.5H1669M227 1315.5H1669M227 1319.5H1669M227 1323.5H1669M227 1326.5H1669M227 1330.5H1669M227 1334.5H1669M227 1337.5H1669M227 1341.5H1669M227 1345.5H1669M227 1349.5H1669M227 1352.5H1669" stroke="rgb(0,128,0)"/><path d="M227 99.5H1669M227 103.5H1669M227 106.5H1669M227 110.5H1669M227 114.5H1669M227 118.5H1669M227 121.5H1669M227 125.5H1669M227 129.5H1669M227 132.5H1669M227 136.5H1669M227 140.5H1669M227 143.5H1669M227 147.5H1669M227 151.5H1669M227 155.5H1669M227 158.5H1669M227 162.5H1669M227 166.5H1669M227 169.5H1669M227 173.5H1669M227 177.5H1669M227 181.5H1669M227 184.5H1669M227 188.5H1669M227 192.5H1669M227 195.5H1669M227 199.5H1669M227 203.5H1669M227 206.5H1669M227 210.5H1669M227 214.5H1669M227 218.5H1669M227 221.5H1669M227 225.5H1669M227 229.5H1669M227 232.5H1669M227 236.5H1669M227 240.5H1669M227 243.5H1669M227 247.5H1669M227 251.5H1669M227 255.5H1669M227 258.5H1669M227 262.5H1669M227 266.5H1669M227 269.5H1669M227 273.5H1669M227 277.5H1669M227 281.5H1669M227 284.5H1669M227 288.5H1669M227 292.5H1669M227 295.5H1669M227 299.5H1669M227 303.5H1669M227 306.5H1669M227 310.5H1669M227 314.5H1669M227 318.5H1669M227 321.5H1669M227 325.5H1669M227 329.5H1669M227 332.5H1669M227 336.5H1669M227 340.5H1669M227 344.5H1669M227 347.5H1669M227 351.5H1669M227 355.5H1669M227 358.5H1669M227 362.5H1669M227 366.5H1669M227 369.5H1669M227 373.5H1669M227 377.5H1669M227 381.5H1669M227 384.5H1669M227 388.5H1669M227 392.5H1669M227 395.5H1669M227 399.5H1669M227 403.5H1669M227 407.5H1669M227 410.5H1669M227 414.5H1669M227 418.5H1669M227 421.5H1669M227 425.5H1669M227 429.5H1669M227 432.5H1669M227 436.5H1669M227 440.5H1669M227 444.5H1669M227 447.5H1669M227 451.5H1669M227 455.5H1669M227 458.5H1669M227 462.5H1669M227 466.5H1669M227 470.5H1669M227 473.5H1669M227 477.5H1669M227 481.5H1669M227 484.5H1669M227 488.5H1669M227 492.5H1669M227 495.5H1669M227 499.5H1669M227 503.5H1669M227 507.5H1669M227 510.5H1669M227 514.5H1669M227 518.5H1669M227 521.5H1669M227 525.5H1669M227 529.5H1669M227 532.5H1669M227 536.5H1669M227 540.5H1669M227 544.5H1669M227 547.5H1669M227 551.5H1669M227 555.5H1669M227 558.5H1669M227 562.5H1669M227 566.5H1669M227 570.5H1669M227 573.5H1669M227 577.5H1669M227 581.5H1669M227 584.5H1669M227 588.5H1669M227 592.5H1669M227 595.5H1669M227 599.5H1669M227 603.5H1669M227 607.5H1669M227 610.5H1669M227 614.5H1669M227 618.5H1669M227 621.5H1669M227 625.5H1669M227 629.5H1669M227 633.5H1669M227 636.5H1669M227 640.5H1669M227 644.5H1669M227 647.5H1669M227 651.5H1669M227 655.5H1669M227 658.5H1669M227 662.5H1669M227 666.5H1669M227 670.5H1669M227 673.5H1669M227 677.5H1669M227 681.5H1669M227 684.5H1669M227 688.5H1669M227 692.5H1669M227 696.5H1669M227 699.5H1669M227 703.5H1669M227 707.5H1669M227 710.5H1669M227 714.5H1669M227 718.5H1669M227 721.5H1669M227 725.5H1669M227 729.5H1669M227 733.5H1669M227 736.5H1669M227 740.5H1669M227 744.5H1669M227 747.5H1669M227 751.5H1669M227 755.5H1669M227 758.5H1669M227 762.5H1669M227 766.5H1669M227 770.5H1669M227 773.5H1669M227 777.5H1669M227 781.5H1669M227 784.5H1669M227 788.5H1669M227 792.5H1669M227 796.5H1669M227 799.5H1669M227 803.5H1669M227 807.5H1669M227 810.5H1669M227 814.5H1669M227 818.5H1669M227 821.5H1669M227 825.5H1669M227 829.5H1669M227 833.5H1669M227 836.5H1669M227 840.5H1669M227 844.5H1669M227 847.5H1669M227 851.5H1669M227 855.5H1669M227 859.5H1669M227 862.5H1669M227 866.5H1669M227 870.5H1669M227 873.5H1669M227 877.5H1669M227 881.5H1669M227 884.5H1669M227 888.5H1669M227 892.5H1669M227 896.5H1669M227 899.5H1669M227 903.5H1669M227 907.5H1669M227 910.5H1669M227 914.5H1669M227 918.5H1669M227 922.5H1669M227 925.5H1669M227 929.5H1669M227 933.5H1669M227 936.5H1669M227 940.5H1669M227 944.5H1669M227 947.5H1669M227 951.5H1669M227 955.5H1669M227 959.5H1669M227 962.5H1669M227 966.5H1669M227 970.5H1669M227 973.5H1669M227 977.5H1669M227 981.5H1669M227 984.5H1669M227 988.5H1669M227 992.5H1669M227 996.5H1669M227 999.5H1669M227 1003.5H1669M227 1007.5H1669M227 1010.5H1669M227 1014.5H1669M227 1018.5H1669M227 1022.5H1669M227 1025.5H1669M227 1029.5H1669M227 1033.5H1669M227 1036.5H1669M227 1040.5H1669M227 1044.5H1669M227 1047.5H1669M227 1051.5H1669M227 1055.5H1669M227 1059.5H1669M227 1062.5H1669M227 1066.5H1669M227 1070.5H1669M227 1073.5H1669M227 1077.5H1669M227 1081.5H1669M227 1085.5H1669M227 1088.5H1669M227 1092.5H1669M227 1096.5H1669M227 1099.5H1669M227 1103.5H1669M227 1107.5H1669M227 1110.5H1669M227 1114.5H1669M227 1118.5H1669M227 1122.5H1669M227 1125.5H1669M227 1129.5H1669M227 1133.5H1669M227 1136.5H1669M227 1140.5H1669M227 1144.5H1669M227 1148.5H1669M227 1151.5H1669M227 1155.5H1669M227 1159.5H1669M227 1162.5H1669M227 1166.5H1669M227 1170.5H1669M227 1173.5H1669M227 1177.5H1669M227 1181.5H1669M227 1185.5H1669M227 1188.5H1669M227 1192.5H1669M227 1196.5H1669M227 1199.5H1669M227 1203.5H1669M227 1207.5H1669M227 1211.5H1669M227 1214.5H1669M227 1218.5H1669M227 1222.5H1669M227 1225.5H1669M227 1229.5H1669M227 1233.5H1669M227 1236.5H1669M227 1240.5H1669M227 1244.5H1669M227 1248.5H1669M227 1251.5H1669M227 1255.5H1669M227 1259.5H1669M227 1262.5H1669M227 1266.5H1669M227 1270.5H1669M227 1273.5H1669M227 1277.5H1669M227 1281.5H1669M227 1285.5H1669M227 1288.5H1669M227 1292.5H1669M227 1296.5H1669M227 1299.5H1669M227 1303.5H1669M227 1307.5H1669M227 1311.5H1669M227 1314.5H1669M227 1318.5H1669M227 1322.5H1669M227 1325.5H1669M227 1329.5H1669M227 1333.5H1669M227 1336.5H1669M227 1340.5H1669M227 1344.5H1669M227 1348.5H1669M227 1351.5H1669" stroke="rgb(0,132,0)"/></g>
</g>
<rect x="228" y="100.3" width="1439.3" height="1253.4" fill="none" stroke="#262626" stroke-width="3.7"/>
<path d="M491.1 1353.7v-12.5M491.1 100.3v12.5M765.7 1353.7v-12.5M765.7 100.3v12.5M1044.0 1353.7v-12.5M1044.0 100.3v12.5M1321.8 1353.7v-12.5M1321.8 100.3v12.5M1599.6 1353.7v-12.5M1599.6 100.3v12.5M228 1190.9h12.5M1667.3 1190.9h-12.5M228 1027.4h12.5M1667.3 1027.4h-12.5M228 860.5h12.5M1667.3 860.5h-12.5M228 693.9h12.5M1667.3 693.9h-12.5M228 526.8h12.5M1667.3 526.8h-12.5M228 363.6h12.5M1667.3 363.6h-12.5M228 196.8h12.5M1667.3 196.8h-12.5" stroke="#262626" stroke-width="3.7" fill="none"/>
<rect x="1711.2" y="100.3" width="74.20000000000005" height="1257.1000000000001" fill="url(#cb)" stroke="#262626" stroke-width="3.7"/>
<path d="M1785.4 1223.7h-11.5M1785.4 1079.2h-11.5M1785.4 937.9h-11.5M1785.4 797.0h-11.5M1785.4 652.6h-11.5M1785.4 510.7h-11.5M1785.4 370.9h-11.5M1785.4 226.0h-11.5" stroke="#262626" stroke-width="3.7" fill="none"/>
<text x="948.5" y="65" font-size="70.3" font-weight="normal" text-anchor="middle" letter-spacing="0.3" stroke="#262626" stroke-width="0.7">LOS condition amplitude</text>
<text x="200.5" y="1216.1" font-size="65" font-weight="bold" text-anchor="end" stroke="#fff" stroke-width="0.6">50</text>
<text x="200.5" y="1049.4" font-size="65" font-weight="bold" text-anchor="end" stroke="#fff" stroke-width="0.6">100</text>
<text x="200.5" y="882.5" font-size="65" font-weight="bold" text-anchor="end" stroke="#fff" stroke-width="0.6">150</text>
<text x="200.5" y="719.5" font-size="65" font-weight="bold" text-anchor="end" stroke="#fff" stroke-width="0.6">200</text>
<text x="200.5" y="552.8" font-size="65" font-weight="bold" text-anchor="end" stroke="#fff" stroke-width="0.6">250</text>
<text x="200.5" y="385.6" font-size="65" font-weight="bold" text-anchor="end" stroke="#fff" stroke-width="0.6">300</text>
<text x="200.5" y="218.4" font-size="65" font-weight="bold" text-anchor="end" stroke="#fff" stroke-width="0.6">350</text>
<text x="490.1" y="1437.5" font-size="64.5" font-weight="bold" text-anchor="middle" stroke="#fff" stroke-width="0.6">10</text>
<text x="766.9" y="1437.5" font-size="64.5" font-weight="bold" text-anchor="middle" stroke="#fff" stroke-width="0.6">20</text>
<text x="1044.0" y="1437.5" font-size="64.5" font-weight="bold" text-anchor="middle" stroke="#fff" stroke-width="0.6">30</text>
<text x="1318.8" y="1437.5" font-size="64.5" font-weight="bold" text-anchor="middle" stroke="#fff" stroke-width="0.6">40</text>
<text x="1597.6" y="1437.5" font-size="64.5" font-weight="bold" text-anchor="middle" stroke="#fff" stroke-width="0.6">50</text>
<text x="1808.5" y="1244.8" font-size="58" font-weight="bold" text-anchor="start" stroke="#fff" stroke-width="0.6">0.01</text>
<text x="1808.5" y="1104.1999999999998" font-size="58" font-weight="bold" text-anchor="start" stroke="#fff" stroke-width="0.6">0.02</text>
<text x="1808.5" y="959.8000000000001" font-size="58" font-weight="bold" text-anchor="start" stroke="#fff" stroke-width="0.6">0.03</text>
<text x="1808.5" y="817.9" font-size="58" font-weight="bold" text-anchor="start" stroke="#fff" stroke-width="0.6">0.04</text>
<text x="1808.5" y="677.4" font-size="58" font-weight="bold" text-anchor="start" stroke="#fff" stroke-width="0.6">0.05</text>
<text x="1808.5" y="532.9" font-size="58" font-weight="bold" text-anchor="start" stroke="#fff" stroke-width="0.6">0.06</text>
<text x="1808.5" y="391.6" font-size="58" font-weight="bold" text-anchor="start" stroke="#fff" stroke-width="0.6">0.07</text>
<text x="1808.5" y="250.5" font-size="58" font-weight="bold" text-anchor="start" stroke="#fff" stroke-width="0.6">0.08</text>
<text x="949.7" y="1526.4" font-size="70.3" font-weight="bold" text-anchor="middle" letter-spacing="0.28">Index of subcarriers</text>
<text transform="translate(77.4 725.8) rotate(-90)" font-size="70.6" font-weight="bold" text-anchor="middle" letter-spacing="0.33">Time(milliseconds)</text>
<text class="cap" x="975" y="1634.1" font-size="86.3" font-weight="normal">(<tspan font-size="84" font-weight="bold" dx="-0.5">a</tspan><tspan dx="-2.2">)</tspan></text>
<g filter="url(#bf)" style="isolation:isolate" shape-rendering="crispEdges">
<rect x="241" y="1773" width="24" height="1221" fill="url(#b0)"/>
<rect x="265" y="1773" width="30" height="1221" fill="url(#b1)"/>
<rect x="295" y="1773" width="26" height="1221" fill="url(#b2)"/>
<rect x="321" y="1773" width="25" height="1221" fill="url(#b3)"/>
<rect x="346" y="1773" width="30" height="1221" fill="url(#b4)"/>
<rect x="376" y="1773" width="25" height="1221" fill="url(#b5)"/>
<rect x="401" y="1773" width="30" height="1221" fill="url(#b6)"/>
<rect x="431" y="1773" width="26" height="1221" fill="url(#b7)"/>
<rect x="457" y="1773" width="25" height="1221" fill="url(#b8)"/>
<rect x="482" y="1773" width="30" height="1221" fill="url(#b9)"/>
<rect x="512" y="1773" width="25" height="1221" fill="url(#b10)"/>
<rect x="537" y="1773" width="26" height="1221" fill="url(#b11)"/>
<rect x="563" y="1773" width="30" height="1221" fill="url(#b12)"/>
<rect x="593" y="1773" width="25" height="1221" fill="url(#b13)"/>
<rect x="618" y="1773" width="30" height="1221" fill="url(#b14)"/>
<rect x="648" y="1773" width="25" height="1221" fill="url(#b15)"/>
<rect x="673" y="1773" width="26" height="1221" fill="url(#b16)"/>
<rect x="699" y="1773" width="30" height="1221" fill="url(#b17)"/>
<rect x="729" y="1773" width="25" height="1221" fill="url(#b18)"/>
<rect x="754" y="1773" width="26" height="1221" fill="url(#b19)"/>
<rect x="780" y="1773" width="29" height="1221" fill="url(#b20)"/>
<rect x="809" y="1773" width="26" height="1221" fill="url(#b21)"/>
<rect x="835" y="1773" width="30" height="1221" fill="url(#b22)"/>
<rect x="865" y="1773" width="25" height="1221" fill="url(#b23)"/>
<rect x="890" y="1773" width="26" height="1221" fill="url(#b24)"/>
<rect x="916" y="1773" width="29" height="1221" fill="url(#b25)"/>
<rect x="945" y="1773" width="26" height="1221" fill="url(#b26)"/>
<rect x="971" y="1773" width="25" height="1221" fill="url(#b27)"/>
<rect x="996" y="1773" width="30" height="1221" fill="url(#b28)"/>
<rect x="1026" y="1773" width="26" height="1221" fill="url(#b29)"/>
<rect x="1052" y="1773" width="29" height="1221" fill="url(#b30)"/>
<rect x="1081" y="1773" width="26" height="1221" fill="url(#b31)"/>
<rect x="1107" y="1773" width="25" height="1221" fill="url(#b32)"/>
<rect x="1132" y="1773" width="30" height="1221" fill="url(#b33)"/>
<rect x="1162" y="1773" width="26" height="1221" fill="url(#b34)"/>
<rect x="1188" y="1773" width="25" height="1221" fill="url(#b35)"/>
<rect x="1213" y="1773" width="30" height="1221" fill="url(#b36)"/>
<rect x="1243" y="1773" width="25" height="1221" fill="url(#b37)"/>
<rect x="1268" y="1773" width="30" height="1221" fill="url(#b38)"/>
<rect x="1298" y="1773" width="26" height="1221" fill="url(#b39)"/>
<rect x="1324" y="1773" width="25" height="1221" fill="url(#b40)"/>
<rect x="1349" y="1773" width="30" height="1221" fill="url(#b41)"/>
<rect x="1379" y="1773" width="25" height="1221" fill="url(#b42)"/>
<rect x="1404" y="1773" width="26" height="1221" fill="url(#b43)"/>
<rect x="1430" y="1773" width="30" height="1221" fill="url(#b44)"/>
<rect x="1460" y="1773" width="25" height="1221" fill="url(#b45)"/>
<rect x="1485" y="1773" width="30" height="1221" fill="url(#b46)"/>
<rect x="1515" y="1773" width="25" height="1221" fill="url(#b47)"/>
<rect x="1540" y="1773" width="26" height="1221" fill="url(#b48)"/>
<rect x="1566" y="1773" width="30" height="1221" fill="url(#b49)"/>
<rect x="1596" y="1773" width="25" height="1221" fill="url(#b50)"/>
<rect x="1621" y="1773" width="26" height="1221" fill="url(#b51)"/>
<g fill="none" stroke-width="1" style="mix-blend-mode:screen"><path d="M294.5 1773V2994M375.5 1773V2994M430.5 1773V2994M511.5 1773V2994M592.5 1773V2994M647.5 1773V2994M728.5 1773V2994M808.5 1773V2994M864.5 1773V2994M944.5 1773V2994M1025.5 1773V2994M1080.5 1773V2994M1161.5 1773V2994M1242.5 1773V2994M1297.5 1773V2994M1378.5 1773V2994M1459.5 1773V2994M1514.5 1773V2994M1595.5 1773V2994" stroke="rgb(72,0,0)"/><path d="M293.5 1773V2994M374.5 1773V2994M429.5 1773V2994M510.5 1773V2994M591.5 1773V2994M646.5 1773V2994M727.5 1773V2994M807.5 1773V2994M863.5 1773V2994M943.5 1773V2994M1024.5 1773V2994M1079.5 1773V2994M1160.5 1773V2994M1241.5 1773V2994M1296.5 1773V2994M1377.5 1773V2994M1458.5 1773V2994M1513.5 1773V2994M1594.5 1773V2994" stroke="rgb(76,0,0)"/><path d="M292.5 1773V2994M320.5 1773V2994M345.5 1773V2994M373.5 1773V2994M400.5 1773V2994M428.5 1773V2994M456.5 1773V2994M481.5 1773V2994M509.5 1773V2994M536.5 1773V2994M562.5 1773V2994M590.5 1773V2994M617.5 1773V2994M645.5 1773V2994M672.5 1773V2994M698.5 1773V2994M726.5 1773V2994M753.5 1773V2994M779.5 1773V2994M806.5 1773V2994M834.5 1773V2994M862.5 1773V2994M889.5 1773V2994M915.5 1773V2994M942.5 1773V2994M970.5 1773V2994M995.5 1773V2994M1023.5 1773V2994M1051.5 1773V2994M1078.5 1773V2994M1106.5 1773V2994M1131.5 1773V2994M1159.5 1773V2994M1187.5 1773V2994M1212.5 1773V2994M1240.5 1773V2994M1267.5 1773V2994M1295.5 1773V2994M1323.5 1773V2994M1348.5 1773V2994M1376.5 1773V2994M1403.5 1773V2994M1429.5 1773V2994M1457.5 1773V2994M1484.5 1773V2994M1512.5 1773V2994M1539.5 1773V2994M1565.5 1773V2994M1593.5 1773V2994M1620.5 1773V2994M1646.5 1773V2994" stroke="rgb(80,0,0)"/><path d="M264.5 1773V2994M291.5 1773V2994M319.5 1773V2994M344.5 1773V2994M372.5 1773V2994M399.5 1773V2994M427.5 1773V2994M455.5 1773V2994M480.5 1773V2994M508.5 1773V2994M535.5 1773V2994M561.5 1773V2994M589.5 1773V2994M616.5 1773V2994M644.5 1773V2994M671.5 1773V2994M697.5 1773V2994M725.5 1773V2994M752.5 1773V2994M778.5 1773V2994M805.5 1773V2994M833.5 1773V2994M861.5 1773V2994M888.5 1773V2994M914.5 1773V2994M941.5 1773V2994M969.5 1773V2994M994.5 1773V2994M1022.5 1773V2994M1050.5 1773V2994M1077.5 1773V2994M1105.5 1773V2994M1130.5 1773V2994M1158.5 1773V2994M1186.5 1773V2994M1211.5 1773V2994M1239.5 1773V2994M1266.5 1773V2994M1294.5 1773V2994M1322.5 1773V2994M1347.5 1773V2994M1375.5 1773V2994M1402.5 1773V2994M1428.5 1773V2994M1456.5 1773V2994M1483.5 1773V2994M1511.5 1773V2994M1538.5 1773V2994M1564.5 1773V2994M1592.5 1773V2994M1619.5 1773V2994M1645.5 1773V2994" stroke="rgb(84,0,0)"/><path d="M263.5 1773V2994M290.5 1773V2994M318.5 1773V2994M343.5 1773V2994M371.5 1773V2994M398.5 1773V2994M426.5 1773V2994M454.5 1773V2994M479.5 1773V2994M507.5 1773V2994M534.5 1773V2994M560.5 1773V2994M588.5 1773V2994M615.5 1773V2994M643.5 1773V2994M670.5 1773V2994M696.5 1773V2994M724.5 1773V2994M751.5 1773V2994M777.5 1773V2994M804.5 1773V2994M832.5 1773V2994M860.5 1773V2994M887.5 1773V2994M913.5 1773V2994M940.5 1773V2994M968.5 1773V2994M993.5 1773V2994M1021.5 1773V2994M1049.5 1773V2994M1076.5 1773V2994M1104.5 1773V2994M1129.5 1773V2994M1157.5 1773V2994M1185.5 1773V2994M1210.5 1773V2994M1238.5 1773V2994M1265.5 1773V2994M1293.5 1773V2994M1321.5 1773V2994M1346.5 1773V2994M1374.5 1773V2994M1401.5 1773V2994M1427.5 1773V2994M1455.5 1773V2994M1482.5 1773V2994M1510.5 1773V2994M1537.5 1773V2994M1563.5 1773V2994M1591.5 1773V2994M1618.5 1773V2994M1644.5 1773V2994" stroke="rgb(88,0,0)"/><path d="M262.5 1773V2994M289.5 1773V2994M317.5 1773V2994M342.5 1773V2994M370.5 1773V2994M397.5 1773V2994M425.5 1773V2994M453.5 1773V2994M478.5 1773V2994M506.5 1773V2994M533.5 1773V2994M559.5 1773V2994M587.5 1773V2994M614.5 1773V2994M642.5 1773V2994M669.5 1773V2994M695.5 1773V2994M723.5 1773V2994M750.5 1773V2994M776.5 1773V2994M803.5 1773V2994M831.5 1773V2994M859.5 1773V2994M886.5 1773V2994M912.5 1773V2994M939.5 1773V2994M967.5 1773V2994M992.5 1773V2994M1020.5 1773V2994M1048.5 1773V2994M1075.5 1773V2994M1103.5 1773V2994M1128.5 1773V2994M1156.5 1773V2994M1184.5 1773V2994M1209.5 1773V2994M1237.5 1773V2994M1264.5 1773V2994M1292.5 1773V2994M1320.5 1773V2994M1345.5 1773V2994M1373.5 1773V2994M1400.5 1773V2994M1426.5 1773V2994M1454.5 1773V2994M1481.5 1773V2994M1509.5 1773V2994M1536.5 1773V2994M1562.5 1773V2994M1590.5 1773V2994M1617.5 1773V2994M1643.5 1773V2994" stroke="rgb(92,0,0)"/><path d="M261.5 1773V2994M288.5 1773V2994M316.5 1773V2994M341.5 1773V2994M369.5 1773V2994M396.5 1773V2994M424.5 1773V2994M452.5 1773V2994M477.5 1773V2994M505.5 1773V2994M532.5 1773V2994M558.5 1773V2994M586.5 1773V2994M613.5 1773V2994M641.5 1773V2994M668.5 1773V2994M694.5 1773V2994M722.5 1773V2994M749.5 1773V2994M775.5 1773V2994M802.5 1773V2994M830.5 1773V2994M858.5 1773V2994M885.5 1773V2994M911.5 1773V2994M938.5 1773V2994M966.5 1773V2994M991.5 1773V2994M1019.5 1773V2994M1047.5 1773V2994M1074.5 1773V2994M1102.5 1773V2994M1127.5 1773V2994M1155.5 1773V2994M1183.5 1773V2994M1208.5 1773V2994M1236.5 1773V2994M1263.5 1773V2994M1291.5 1773V2994M1319.5 1773V2994M1344.5 1773V2994M1372.5 1773V2994M1399.5 1773V2994M1425.5 1773V2994M1453.5 1773V2994M1480.5 1773V2994M1508.5 1773V2994M1535.5 1773V2994M1561.5 1773V2994M1589.5 1773V2994M1616.5 1773V2994M1642.5 1773V2994" stroke="rgb(96,0,0)"/><path d="M260.5 1773V2994M287.5 1773V2994M315.5 1773V2994M340.5 1773V2994M368.5 1773V2994M395.5 1773V2994M423.5 1773V2994M451.5 1773V2994M476.5 1773V2994M504.5 1773V2994M531.5 1773V2994M557.5 1773V2994M585.5 1773V2994M612.5 1773V2994M640.5 1773V2994M667.5 1773V2994M693.5 1773V2994M721.5 1773V2994M748.5 1773V2994M774.5 1773V2994M801.5 1773V2994M829.5 1773V2994M857.5 1773V2994M884.5 1773V2994M910.5 1773V2994M937.5 1773V2994M965.5 1773V2994M990.5 1773V2994M1018.5 1773V2994M1046.5 1773V2994M1073.5 1773V2994M1101.5 1773V2994M1126.5 1773V2994M1154.5 1773V2994M1182.5 1773V2994M1207.5 1773V2994M1235.5 1773V2994M1262.5 1773V2994M1290.5 1773V2994M1318.5 1773V2994M1343.5 1773V2994M1371.5 1773V2994M1398.5 1773V2994M1424.5 1773V2994M1452.5 1773V2994M1479.5 1773V2994M1507.5 1773V2994M1534.5 1773V2994M1560.5 1773V2994M1588.5 1773V2994M1615.5 1773V2994M1641.5 1773V2994" stroke="rgb(100,0,0)"/><path d="M259.5 1773V2994M286.5 1773V2994M314.5 1773V2994M339.5 1773V2994M367.5 1773V2994M394.5 1773V2994M422.5 1773V2994M450.5 1773V2994M475.5 1773V2994M503.5 1773V2994M530.5 1773V2994M556.5 1773V2994M584.5 1773V2994M611.5 1773V2994M639.5 1773V2994M666.5 1773V2994M692.5 1773V2994M720.5 1773V2994M747.5 1773V2994M773.5 1773V2994M800.5 1773V2994M828.5 1773V2994M856.5 1773V2994M883.5 1773V2994M909.5 1773V2994M936.5 1773V2994M964.5 1773V2994M989.5 1773V2994M1017.5 1773V2994M1045.5 1773V2994M1072.5 1773V2994M1100.5 1773V2994M1125.5 1773V2994M1153.5 1773V2994M1181.5 1773V2994M1206.5 1773V2994M1234.5 1773V2994M1261.5 1773V2994M1289.5 1773V2994M1317.5 1773V2994M1342.5 1773V2994M1370.5 1773V2994M1397.5 1773V2994M1423.5 1773V2994M1451.5 1773V2994M1478.5 1773V2994M1506.5 1773V2994M1533.5 1773V2994M1559.5 1773V2994M1587.5 1773V2994M1614.5 1773V2994M1640.5 1773V2994" stroke="rgb(104,0,0)"/><path d="M258.5 1773V2994M285.5 1773V2994M313.5 1773V2994M338.5 1773V2994M366.5 1773V2994M393.5 1773V2994M421.5 1773V2994M449.5 1773V2994M474.5 1773V2994M502.5 1773V2994M529.5 1773V2994M555.5 1773V2994M583.5 1773V2994M610.5 1773V2994M638.5 1773V2994M665.5 1773V2994M691.5 1773V2994M719.5 1773V2994M746.5 1773V2994M772.5 1773V2994M799.5 1773V2994M827.5 1773V2994M855.5 1773V2994M882.5 1773V2994M908.5 1773V2994M935.5 1773V2994M963.5 1773V2994M988.5 1773V2994M1016.5 1773V2994M1044.5 1773V2994M1071.5 1773V2994M1099.5 1773V2994M1124.5 1773V2994M1152.5 1773V2994M1180.5 1773V2994M1205.5 1773V2994M1233.5 1773V2994M1260.5 1773V2994M1288.5 1773V2994M1316.5 1773V2994M1341.5 1773V2994M1369.5 1773V2994M1396.5 1773V2994M1422.5 1773V2994M1450.5 1773V2994M1477.5 1773V2994M1505.5 1773V2994M1532.5 1773V2994M1558.5 1773V2994M1586.5 1773V2994M1613.5 1773V2994M1639.5 1773V2994" stroke="rgb(108,0,0)"/><path d="M257.5 1773V2994M284.5 1773V2994M312.5 1773V2994M337.5 1773V2994M365.5 1773V2994M392.5 1773V2994M420.5 1773V2994M448.5 1773V2994M473.5 1773V2994M501.5 1773V2994M528.5 1773V2994M554.5 1773V2994M582.5 1773V2994M609.5 1773V2994M637.5 1773V2994M664.5 1773V2994M690.5 1773V2994M718.5 1773V2994M745.5 1773V2994M771.5 1773V2994M798.5 1773V2994M826.5 1773V2994M854.5 1773V2994M881.5 1773V2994M907.5 1773V2994M934.5 1773V2994M962.5 1773V2994M987.5 1773V2994M1015.5 1773V2994M1043.5 1773V2994M1070.5 1773V2994M1098.5 1773V2994M1123.5 1773V2994M1151.5 1773V2994M1179.5 1773V2994M1204.5 1773V2994M1232.5 1773V2994M1259.5 1773V2994M1287.5 1773V2994M1315.5 1773V2994M1340.5 1773V2994M1368.5 1773V2994M1395.5 1773V2994M1421.5 1773V2994M1449.5 1773V2994M1476.5 1773V2994M1504.5 1773V2994M1531.5 1773V2994M1557.5 1773V2994M1585.5 1773V2994M1612.5 1773V2994M1638.5 1773V2994" stroke="rgb(112,0,0)"/><path d="M256.5 1773V2994M283.5 1773V2994M311.5 1773V2994M336.5 1773V2994M364.5 1773V2994M391.5 1773V2994M419.5 1773V2994M447.5 1773V2994M472.5 1773V2994M500.5 1773V2994M527.5 1773V2994M553.5 1773V2994M581.5 1773V2994M608.5 1773V2994M636.5 1773V2994M663.5 1773V2994M689.5 1773V2994M717.5 1773V2994M744.5 1773V2994M770.5 1773V2994M797.5 1773V2994M825.5 1773V2994M853.5 1773V2994M880.5 1773V2994M906.5 1773V2994M933.5 1773V2994M961.5 1773V2994M986.5 1773V2994M1014.5 1773V2994M1042.5 1773V2994M1069.5 1773V2994M1097.5 1773V2994M1122.5 1773V2994M1150.5 1773V2994M1178.5 1773V2994M1203.5 1773V2994M1231.5 1773V2994M1258.5 1773V2994M1286.5 1773V2994M1314.5 1773V2994M1339.5 1773V2994M1367.5 1773V2994M1394.5 1773V2994M1420.5 1773V2994M1448.5 1773V2994M1475.5 1773V2994M1503.5 1773V2994M1530.5 1773V2994M1556.5 1773V2994M1584.5 1773V2994M1611.5 1773V2994M1637.5 1773V2994" stroke="rgb(116,0,0)"/><path d="M255.5 1773V2994M282.5 1773V2994M310.5 1773V2994M335.5 1773V2994M363.5 1773V2994M390.5 1773V2994M418.5 1773V2994M446.5 1773V2994M471.5 1773V2994M499.5 1773V2994M526.5 1773V2994M552.5 1773V2994M580.5 1773V2994M607.5 1773V2994M635.5 1773V2994M662.5 1773V2994M688.5 1773V2994M716.5 1773V2994M743.5 1773V2994M769.5 1773V2994M796.5 1773V2994M824.5 1773V2994M852.5 1773V2994M879.5 1773V2994M905.5 1773V2994M932.5 1773V2994M960.5 1773V2994M985.5 1773V2994M1013.5 1773V2994M1041.5 1773V2994M1068.5 1773V2994M1096.5 1773V2994M1121.5 1773V2994M1149.5 1773V2994M1177.5 1773V2994M1202.5 1773V2994M1230.5 1773V2994M1257.5 1773V2994M1285.5 1773V2994M1313.5 1773V2994M1338.5 1773V2994M1366.5 1773V2994M1393.5 1773V2994M1419.5 1773V2994M1447.5 1773V2994M1474.5 1773V2994M1502.5 1773V2994M1529.5 1773V2994M1555.5 1773V2994M1583.5 1773V2994M1610.5 1773V2994M1636.5 1773V2994" stroke="rgb(120,0,0)"/><path d="M254.5 1773V2994M281.5 1773V2994M309.5 1773V2994M334.5 1773V2994M362.5 1773V2994M389.5 1773V2994M417.5 1773V2994M445.5 1773V2994M470.5 1773V2994M498.5 1773V2994M525.5 1773V2994M551.5 1773V2994M579.5 1773V2994M606.5 1773V2994M634.5 1773V2994M661.5 1773V2994M687.5 1773V2994M715.5 1773V2994M742.5 1773V2994M768.5 1773V2994M795.5 1773V2994M823.5 1773V2994M851.5 1773V2994M878.5 1773V2994M904.5 1773V2994M931.5 1773V2994M959.5 1773V2994M984.5 1773V2994M1012.5 1773V2994M1040.5 1773V2994M1067.5 1773V2994M1095.5 1773V2994M1120.5 1773V2994M1148.5 1773V2994M1176.5 1773V2994M1201.5 1773V2994M1229.5 1773V2994M1256.5 1773V2994M1284.5 1773V2994M1312.5 1773V2994M1337.5 1773V2994M1365.5 1773V2994M1392.5 1773V2994M1418.5 1773V2994M1446.5 1773V2994M1473.5 1773V2994M1501.5 1773V2994M1528.5 1773V2994M1554.5 1773V2994M1582.5 1773V2994M1609.5 1773V2994M1635.5 1773V2994" stroke="rgb(124,0,0)"/><path d="M253.5 1773V2994M280.5 1773V2994M308.5 1773V2994M333.5 1773V2994M361.5 1773V2994M388.5 1773V2994M416.5 1773V2994M444.5 1773V2994M469.5 1773V2994M497.5 1773V2994M524.5 1773V2994M550.5 1773V2994M578.5 1773V2994M605.5 1773V2994M633.5 1773V2994M660.5 1773V2994M686.5 1773V2994M714.5 1773V2994M741.5 1773V2994M767.5 1773V2994M794.5 1773V2994M822.5 1773V2994M850.5 1773V2994M877.5 1773V2994M903.5 1773V2994M930.5 1773V2994M958.5 1773V2994M983.5 1773V2994M1011.5 1773V2994M1039.5 1773V2994M1066.5 1773V2994M1094.5 1773V2994M1119.5 1773V2994M1147.5 1773V2994M1175.5 1773V2994M1200.5 1773V2994M1228.5 1773V2994M1255.5 1773V2994M1283.5 1773V2994M1311.5 1773V2994M1336.5 1773V2994M1364.5 1773V2994M1391.5 1773V2994M1417.5 1773V2994M1445.5 1773V2994M1472.5 1773V2994M1500.5 1773V2994M1527.5 1773V2994M1553.5 1773V2994M1581.5 1773V2994M1608.5 1773V2994M1634.5 1773V2994" stroke="rgb(128,0,0)"/><path d="M252.5 1773V2994M279.5 1773V2994M307.5 1773V2994M332.5 1773V2994M360.5 1773V2994M387.5 1773V2994M415.5 1773V2994M443.5 1773V2994M468.5 1773V2994M496.5 1773V2994M523.5 1773V2994M549.5 1773V2994M577.5 1773V2994M604.5 1773V2994M632.5 1773V2994M659.5 1773V2994M685.5 1773V2994M713.5 1773V2994M740.5 1773V2994M766.5 1773V2994M793.5 1773V2994M821.5 1773V2994M849.5 1773V2994M876.5 1773V2994M902.5 1773V2994M929.5 1773V2994M957.5 1773V2994M982.5 1773V2994M1010.5 1773V2994M1038.5 1773V2994M1065.5 1773V2994M1093.5 1773V2994M1118.5 1773V2994M1146.5 1773V2994M1174.5 1773V2994M1199.5 1773V2994M1227.5 1773V2994M1254.5 1773V2994M1282.5 1773V2994M1310.5 1773V2994M1335.5 1773V2994M1363.5 1773V2994M1390.5 1773V2994M1416.5 1773V2994M1444.5 1773V2994M1471.5 1773V2994M1499.5 1773V2994M1526.5 1773V2994M1552.5 1773V2994M1580.5 1773V2994M1607.5 1773V2994M1633.5 1773V2994" stroke="rgb(132,0,0)"/><path d="M251.5 1773V2994M278.5 1773V2994M306.5 1773V2994M331.5 1773V2994M359.5 1773V2994M386.5 1773V2994M414.5 1773V2994M442.5 1773V2994M467.5 1773V2994M495.5 1773V2994M522.5 1773V2994M548.5 1773V2994M576.5 1773V2994M603.5 1773V2994M631.5 1773V2994M658.5 1773V2994M684.5 1773V2994M712.5 1773V2994M739.5 1773V2994M765.5 1773V2994M792.5 1773V2994M820.5 1773V2994M848.5 1773V2994M875.5 1773V2994M901.5 1773V2994M928.5 1773V2994M956.5 1773V2994M981.5 1773V2994M1009.5 1773V2994M1037.5 1773V2994M1064.5 1773V2994M1092.5 1773V2994M1117.5 1773V2994M1145.5 1773V2994M1173.5 1773V2994M1198.5 1773V2994M1226.5 1773V2994M1253.5 1773V2994M1281.5 1773V2994M1309.5 1773V2994M1334.5 1773V2994M1362.5 1773V2994M1389.5 1773V2994M1415.5 1773V2994M1443.5 1773V2994M1470.5 1773V2994M1498.5 1773V2994M1525.5 1773V2994M1551.5 1773V2994M1579.5 1773V2994M1606.5 1773V2994M1632.5 1773V2994" stroke="rgb(136,0,0)"/><path d="M250.5 1773V2994M277.5 1773V2994M305.5 1773V2994M330.5 1773V2994M358.5 1773V2994M385.5 1773V2994M413.5 1773V2994M441.5 1773V2994M466.5 1773V2994M494.5 1773V2994M521.5 1773V2994M547.5 1773V2994M575.5 1773V2994M602.5 1773V2994M630.5 1773V2994M657.5 1773V2994M683.5 1773V2994M711.5 1773V2994M738.5 1773V2994M764.5 1773V2994M791.5 1773V2994M819.5 1773V2994M847.5 1773V2994M874.5 1773V2994M900.5 1773V2994M927.5 1773V2994M955.5 1773V2994M980.5 1773V2994M1008.5 1773V2994M1036.5 1773V2994M1063.5 1773V2994M1091.5 1773V2994M1116.5 1773V2994M1144.5 1773V2994M1172.5 1773V2994M1197.5 1773V2994M1225.5 1773V2994M1252.5 1773V2994M1280.5 1773V2994M1308.5 1773V2994M1333.5 1773V2994M1361.5 1773V2994M1388.5 1773V2994M1414.5 1773V2994M1442.5 1773V2994M1469.5 1773V2994M1497.5 1773V2994M1524.5 1773V2994M1550.5 1773V2994M1578.5 1773V2994M1605.5 1773V2994M1631.5 1773V2994" stroke="rgb(140,0,0)"/><path d="M249.5 1773V2994M276.5 1773V2994M304.5 1773V2994M329.5 1773V2994M357.5 1773V2994M384.5 1773V2994M412.5 1773V2994M440.5 1773V2994M465.5 1773V2994M493.5 1773V2994M520.5 1773V2994M546.5 1773V2994M574.5 1773V2994M601.5 1773V2994M629.5 1773V2994M656.5 1773V2994M682.5 1773V2994M710.5 1773V2994M737.5 1773V2994M763.5 1773V2994M790.5 1773V2994M818.5 1773V2994M846.5 1773V2994M873.5 1773V2994M899.5 1773V2994M926.5 1773V2994M954.5 1773V2994M979.5 1773V2994M1007.5 1773V2994M1035.5 1773V2994M1062.5 1773V2994M1090.5 1773V2994M1115.5 1773V2994M1143.5 1773V2994M1171.5 1773V2994M1196.5 1773V2994M1224.5 1773V2994M1251.5 1773V2994M1279.5 1773V2994M1307.5 1773V2994M1332.5 1773V2994M1360.5 1773V2994M1387.5 1773V2994M1413.5 1773V2994M1441.5 1773V2994M1468.5 1773V2994M1496.5 1773V2994M1523.5 1773V2994M1549.5 1773V2994M1577.5 1773V2994M1604.5 1773V2994M1630.5 1773V2994" stroke="rgb(144,0,0)"/><path d="M248.5 1773V2994M275.5 1773V2994M303.5 1773V2994M328.5 1773V2994M356.5 1773V2994M383.5 1773V2994M411.5 1773V2994M439.5 1773V2994M464.5 1773V2994M492.5 1773V2994M519.5 1773V2994M545.5 1773V2994M573.5 1773V2994M600.5 1773V2994M628.5 1773V2994M655.5 1773V2994M681.5 1773V2994M709.5 1773V2994M736.5 1773V2994M762.5 1773V2994M789.5 1773V2994M817.5 1773V2994M845.5 1773V2994M872.5 1773V2994M898.5 1773V2994M925.5 1773V2994M953.5 1773V2994M978.5 1773V2994M1006.5 1773V2994M1034.5 1773V2994M1061.5 1773V2994M1089.5 1773V2994M1114.5 1773V2994M1142.5 1773V2994M1170.5 1773V2994M1195.5 1773V2994M1223.5 1773V2994M1250.5 1773V2994M1278.5 1773V2994M1306.5 1773V2994M1331.5 1773V2994M1359.5 1773V2994M1386.5 1773V2994M1412.5 1773V2994M1440.5 1773V2994M1467.5 1773V2994M1495.5 1773V2994M1522.5 1773V2994M1548.5 1773V2994M1576.5 1773V2994M1603.5 1773V2994M1629.5 1773V2994" stroke="rgb(148,0,0)"/><path d="M247.5 1773V2994M274.5 1773V2994M302.5 1773V2994M327.5 1773V2994M355.5 1773V2994M382.5 1773V2994M410.5 1773V2994M438.5 1773V2994M463.5 1773V2994M491.5 1773V2994M518.5 1773V2994M544.5 1773V2994M572.5 1773V2994M599.5 1773V2994M627.5 1773V2994M654.5 1773V2994M680.5 1773V2994M708.5 1773V2994M735.5 1773V2994M761.5 1773V2994M788.5 1773V2994M816.5 1773V2994M844.5 1773V2994M871.5 1773V2994M897.5 1773V2994M924.5 1773V2994M952.5 1773V2994M977.5 1773V2994M1005.5 1773V2994M1033.5 1773V2994M1060.5 1773V2994M1088.5 1773V2994M1113.5 1773V2994M1141.5 1773V2994M1169.5 1773V2994M1194.5 1773V2994M1222.5 1773V2994M1249.5 1773V2994M1277.5 1773V2994M1305.5 1773V2994M1330.5 1773V2994M1358.5 1773V2994M1385.5 1773V2994M1411.5 1773V2994M1439.5 1773V2994M1466.5 1773V2994M1494.5 1773V2994M1521.5 1773V2994M1547.5 1773V2994M1575.5 1773V2994M1602.5 1773V2994M1628.5 1773V2994" stroke="rgb(152,0,0)"/><path d="M246.5 1773V2994M273.5 1773V2994M301.5 1773V2994M326.5 1773V2994M354.5 1773V2994M381.5 1773V2994M409.5 1773V2994M437.5 1773V2994M462.5 1773V2994M490.5 1773V2994M517.5 1773V2994M543.5 1773V2994M571.5 1773V2994M598.5 1773V2994M626.5 1773V2994M653.5 1773V2994M679.5 1773V2994M707.5 1773V2994M734.5 1773V2994M760.5 1773V2994M787.5 1773V2994M815.5 1773V2994M843.5 1773V2994M870.5 1773V2994M896.5 1773V2994M923.5 1773V2994M951.5 1773V2994M976.5 1773V2994M1004.5 1773V2994M1032.5 1773V2994M1059.5 1773V2994M1087.5 1773V2994M1112.5 1773V2994M1140.5 1773V2994M1168.5 1773V2994M1193.5 1773V2994M1221.5 1773V2994M1248.5 1773V2994M1276.5 1773V2994M1304.5 1773V2994M1329.5 1773V2994M1357.5 1773V2994M1384.5 1773V2994M1410.5 1773V2994M1438.5 1773V2994M1465.5 1773V2994M1493.5 1773V2994M1520.5 1773V2994M1546.5 1773V2994M1574.5 1773V2994M1601.5 1773V2994M1627.5 1773V2994" stroke="rgb(156,0,0)"/><path d="M245.5 1773V2994M272.5 1773V2994M300.5 1773V2994M325.5 1773V2994M353.5 1773V2994M380.5 1773V2994M408.5 1773V2994M436.5 1773V2994M461.5 1773V2994M489.5 1773V2994M516.5 1773V2994M542.5 1773V2994M570.5 1773V2994M597.5 1773V2994M625.5 1773V2994M652.5 1773V2994M678.5 1773V2994M706.5 1773V2994M733.5 1773V2994M759.5 1773V2994M786.5 1773V2994M814.5 1773V2994M842.5 1773V2994M869.5 1773V2994M895.5 1773V2994M922.5 1773V2994M950.5 1773V2994M975.5 1773V2994M1003.5 1773V2994M1031.5 1773V2994M1058.5 1773V2994M1086.5 1773V2994M1111.5 1773V2994M1139.5 1773V2994M1167.5 1773V2994M1192.5 1773V2994M1220.5 1773V2994M1247.5 1773V2994M1275.5 1773V2994M1303.5 1773V2994M1328.5 1773V2994M1356.5 1773V2994M1383.5 1773V2994M1409.5 1773V2994M1437.5 1773V2994M1464.5 1773V2994M1492.5 1773V2994M1519.5 1773V2994M1545.5 1773V2994M1573.5 1773V2994M1600.5 1773V2994M1626.5 1773V2994" stroke="rgb(160,0,0)"/><path d="M244.5 1773V2994M271.5 1773V2994M299.5 1773V2994M324.5 1773V2994M352.5 1773V2994M379.5 1773V2994M407.5 1773V2994M435.5 1773V2994M460.5 1773V2994M488.5 1773V2994M515.5 1773V2994M541.5 1773V2994M569.5 1773V2994M596.5 1773V2994M624.5 1773V2994M651.5 1773V2994M677.5 1773V2994M705.5 1773V2994M732.5 1773V2994M758.5 1773V2994M785.5 1773V2994M813.5 1773V2994M841.5 1773V2994M868.5 1773V2994M894.5 1773V2994M921.5 1773V2994M949.5 1773V2994M974.5 1773V2994M1002.5 1773V2994M1030.5 1773V2994M1057.5 1773V2994M1085.5 1773V2994M1110.5 1773V2994M1138.5 1773V2994M1166.5 1773V2994M1191.5 1773V2994M1219.5 1773V2994M1246.5 1773V2994M1274.5 1773V2994M1302.5 1773V2994M1327.5 1773V2994M1355.5 1773V2994M1382.5 1773V2994M1408.5 1773V2994M1436.5 1773V2994M1463.5 1773V2994M1491.5 1773V2994M1518.5 1773V2994M1544.5 1773V2994M1572.5 1773V2994M1599.5 1773V2994M1625.5 1773V2994" stroke="rgb(164,0,0)"/><path d="M243.5 1773V2994M270.5 1773V2994M298.5 1773V2994M323.5 1773V2994M351.5 1773V2994M378.5 1773V2994M406.5 1773V2994M434.5 1773V2994M459.5 1773V2994M487.5 1773V2994M514.5 1773V2994M540.5 1773V2994M568.5 1773V2994M595.5 1773V2994M623.5 1773V2994M650.5 1773V2994M676.5 1773V2994M704.5 1773V2994M731.5 1773V2994M757.5 1773V2994M784.5 1773V2994M812.5 1773V2994M840.5 1773V2994M867.5 1773V2994M893.5 1773V2994M920.5 1773V2994M948.5 1773V2994M973.5 1773V2994M1001.5 1773V2994M1029.5 1773V2994M1056.5 1773V2994M1084.5 1773V2994M1109.5 1773V2994M1137.5 1773V2994M1165.5 1773V2994M1190.5 1773V2994M1218.5 1773V2994M1245.5 1773V2994M1273.5 1773V2994M1301.5 1773V2994M1326.5 1773V2994M1354.5 1773V2994M1381.5 1773V2994M1407.5 1773V2994M1435.5 1773V2994M1462.5 1773V2994M1490.5 1773V2994M1517.5 1773V2994M1543.5 1773V2994M1571.5 1773V2994M1598.5 1773V2994M1624.5 1773V2994" stroke="rgb(168,0,0)"/><path d="M242.5 1773V2994M269.5 1773V2994M297.5 1773V2994M322.5 1773V2994M350.5 1773V2994M377.5 1773V2994M405.5 1773V2994M433.5 1773V2994M458.5 1773V2994M486.5 1773V2994M513.5 1773V2994M539.5 1773V2994M567.5 1773V2994M594.5 1773V2994M622.5 1773V2994M649.5 1773V2994M675.5 1773V2994M703.5 1773V2994M730.5 1773V2994M756.5 1773V2994M783.5 1773V2994M811.5 1773V2994M839.5 1773V2994M866.5 1773V2994M892.5 1773V2994M919.5 1773V2994M947.5 1773V2994M972.5 1773V2994M1000.5 1773V2994M1028.5 1773V2994M1055.5 1773V2994M1083.5 1773V2994M1108.5 1773V2994M1136.5 1773V2994M1164.5 1773V2994M1189.5 1773V2994M1217.5 1773V2994M1244.5 1773V2994M1272.5 1773V2994M1300.5 1773V2994M1325.5 1773V2994M1353.5 1773V2994M1380.5 1773V2994M1406.5 1773V2994M1434.5 1773V2994M1461.5 1773V2994M1489.5 1773V2994M1516.5 1773V2994M1542.5 1773V2994M1570.5 1773V2994M1597.5 1773V2994M1623.5 1773V2994" stroke="rgb(172,0,0)"/><path d="M241.5 1773V2994M268.5 1773V2994M296.5 1773V2994M321.5 1773V2994M349.5 1773V2994M376.5 1773V2994M404.5 1773V2994M432.5 1773V2994M457.5 1773V2994M485.5 1773V2994M512.5 1773V2994M538.5 1773V2994M566.5 1773V2994M593.5 1773V2994M621.5 1773V2994M648.5 1773V2994M674.5 1773V2994M702.5 1773V2994M729.5 1773V2994M755.5 1773V2994M782.5 1773V2994M810.5 1773V2994M838.5 1773V2994M865.5 1773V2994M891.5 1773V2994M918.5 1773V2994M946.5 1773V2994M971.5 1773V2994M999.5 1773V2994M1027.5 1773V2994M1054.5 1773V2994M1082.5 1773V2994M1107.5 1773V2994M1135.5 1773V2994M1163.5 1773V2994M1188.5 1773V2994M1216.5 1773V2994M1243.5 1773V2994M1271.5 1773V2994M1299.5 1773V2994M1324.5 1773V2994M1352.5 1773V2994M1379.5 1773V2994M1405.5 1773V2994M1433.5 1773V2994M1460.5 1773V2994M1488.5 1773V2994M1515.5 1773V2994M1541.5 1773V2994M1569.5 1773V2994M1596.5 1773V2994M1622.5 1773V2994" stroke="rgb(176,0,0)"/><path d="M267.5 1773V2994M295.5 1773V2994M348.5 1773V2994M403.5 1773V2994M431.5 1773V2994M484.5 1773V2994M537.5 1773V2994M565.5 1773V2994M620.5 1773V2994M673.5 1773V2994M701.5 1773V2994M754.5 1773V2994M781.5 1773V2994M809.5 1773V2994M837.5 1773V2994M890.5 1773V2994M917.5 1773V2994M945.5 1773V2994M998.5 1773V2994M1026.5 1773V2994M1053.5 1773V2994M1081.5 1773V2994M1134.5 1773V2994M1162.5 1773V2994M1215.5 1773V2994M1270.5 1773V2994M1298.5 1773V2994M1351.5 1773V2994M1404.5 1773V2994M1432.5 1773V2994M1487.5 1773V2994M1540.5 1773V2994M1568.5 1773V2994M1621.5 1773V2994" stroke="rgb(180,0,0)"/><path d="M266.5 1773V2994M347.5 1773V2994M402.5 1773V2994M483.5 1773V2994M564.5 1773V2994M619.5 1773V2994M700.5 1773V2994M780.5 1773V2994M836.5 1773V2994M916.5 1773V2994M997.5 1773V2994M1052.5 1773V2994M1133.5 1773V2994M1214.5 1773V2994M1269.5 1773V2994M1350.5 1773V2994M1431.5 1773V2994M1486.5 1773V2994M1567.5 1773V2994" stroke="rgb(184,0,0)"/><path d="M265.5 1773V2994M346.5 1773V2994M401.5 1773V2994M482.5 1773V2994M563.5 1773V2994M618.5 1773V2994M699.5 1773V2994M835.5 1773V2994M996.5 1773V2994M1132.5 1773V2994M1213.5 1773V2994M1268.5 1773V2994M1349.5 1773V2994M1430.5 1773V2994M1485.5 1773V2994M1566.5 1773V2994" stroke="rgb(188,0,0)"/></g>
<g fill="none" stroke-width="1" style="mix-blend-mode:screen"><path d="M241 1776.5H1647M241 1783.5H1647M241 1787.5H1647M241 1791.5H1647M241 1798.5H1647M241 1802.5H1647M241 1809.5H1647M241 1813.5H1647M241 1817.5H1647M241 1824.5H1647M241 1828.5H1647M241 1835.5H1647M241 1839.5H1647M241 1843.5H1647M241 1850.5H1647M241 1854.5H1647M241 1861.5H1647M241 1865.5H1647M241 1872.5H1647M241 1876.5H1647M241 1880.5H1647M241 1887.5H1647M241 1891.5H1647M241 1898.5H1647M241 1902.5H1647M241 1906.5H1647M241 1913.5H1647M241 1917.5H1647M241 1924.5H1647M241 1928.5H1647M241 1932.5H1647M241 1939.5H1647M241 1943.5H1647M241 1950.5H1647M241 1954.5H1647M241 1958.5H1647M241 1965.5H1647M241 1969.5H1647M241 1976.5H1647M241 1980.5H1647M241 1984.5H1647M241 1991.5H1647M241 1995.5H1647M241 2002.5H1647M241 2006.5H1647M241 2010.5H1647M241 2017.5H1647M241 2021.5H1647M241 2028.5H1647M241 2032.5H1647M241 2039.5H1647M241 2043.5H1647M241 2047.5H1647M241 2054.5H1647M241 2058.5H1647M241 2065.5H1647M241 2069.5H1647M241 2073.5H1647M241 2080.5H1647M241 2084.5H1647M241 2091.5H1647M241 2095.5H1647M241 2099.5H1647M241 2106.5H1647M241 2110.5H1647M241 2117.5H1647M241 2121.5H1647M241 2125.5H1647M241 2132.5H1647M241 2136.5H1647M241 2143.5H1647M241 2147.5H1647M241 2151.5H1647M241 2158.5H1647M241 2162.5H1647M241 2169.5H1647M241 2173.5H1647M241 2177.5H1647M241 2184.5H1647M241 2188.5H1647M241 2195.5H1647M241 2199.5H1647M241 2203.5H1647M241 2210.5H1647M241 2214.5H1647M241 2221.5H1647M241 2225.5H1647M241 2232.5H1647M241 2236.5H1647M241 2240.5H1647M241 2247.5H1647M241 2251.5H1647M241 2258.5H1647M241 2262.5H1647M241 2266.5H1647M241 2273.5H1647M241 2277.5H1647M241 2284.5H1647M241 2288.5H1647M241 2292.5H1647M241 2299.5H1647M241 2303.5H1647M241 2310.5H1647M241 2314.5H1647M241 2318.5H1647M241 2325.5H1647M241 2329.5H1647M241 2336.5H1647M241 2340.5H1647M241 2344.5H1647M241 2351.5H1647M241 2355.5H1647M241 2362.5H1647M241 2366.5H1647M241 2370.5H1647M241 2377.5H1647M241 2381.5H1647M241 2388.5H1647M241 2392.5H1647M241 2399.5H1647M241 2403.5H1647M241 2407.5H1647M241 2414.5H1647M241 2418.5H1647M241 2425.5H1647M241 2429.5H1647M241 2433.5H1647M241 2440.5H1647M241 2444.5H1647M241 2451.5H1647M241 2455.5H1647M241 2459.5H1647M241 2466.5H1647M241 2470.5H1647M241 2477.5H1647M241 2481.5H1647M241 2485.5H1647M241 2492.5H1647M241 2496.5H1647M241 2503.5H1647M241 2507.5H1647M241 2511.5H1647M241 2518.5H1647M241 2522.5H1647M241 2529.5H1647M241 2533.5H1647M241 2537.5H1647M241 2544.5H1647M241 2548.5H1647M241 2555.5H1647M241 2559.5H1647M241 2566.5H1647M241 2570.5H1647M241 2574.5H1647M241 2581.5H1647M241 2585.5H1647M241 2592.5H1647M241 2596.5H1647M241 2600.5H1647M241 2607.5H1647M241 2611.5H1647M241 2618.5H1647M241 2622.5H1647M241 2626.5H1647M241 2633.5H1647M241 2637.5H1647M241 2644.5H1647M241 2648.5H1647M241 2652.5H1647M241 2659.5H1647M241 2663.5H1647M241 2670.5H1647M241 2674.5H1647M241 2678.5H1647M241 2685.5H1647M241 2689.5H1647M241 2696.5H1647M241 2700.5H1647M241 2704.5H1647M241 2711.5H1647M241 2715.5H1647M241 2722.5H1647M241 2726.5H1647M241 2730.5H1647M241 2737.5H1647M241 2741.5H1647M241 2748.5H1647M241 2752.5H1647M241 2759.5H1647M241 2763.5H1647M241 2767.5H1647M241 2774.5H1647M241 2778.5H1647M241 2785.5H1647M241 2789.5H1647M241 2793.5H1647M241 2800.5H1647M241 2804.5H1647M241 2811.5H1647M241 2815.5H1647M241 2819.5H1647M241 2826.5H1647M241 2830.5H1647M241 2837.5H1647M241 2841.5H1647M241 2845.5H1647M241 2852.5H1647M241 2856.5H1647M241 2863.5H1647M241 2867.5H1647M241 2871.5H1647M241 2878.5H1647M241 2882.5H1647M241 2889.5H1647M241 2893.5H1647M241 2897.5H1647M241 2904.5H1647M241 2908.5H1647M241 2915.5H1647M241 2919.5H1647M241 2926.5H1647M241 2930.5H1647M241 2934.5H1647M241 2941.5H1647M241 2945.5H1647M241 2952.5H1647M241 2956.5H1647M241 2960.5H1647M241 2967.5H1647M241 2971.5H1647M241 2978.5H1647M241 2982.5H1647M241 2986.5H1647M241 2993.5H1647" stroke="rgb(0,120,0)"/><path d="M241 1775.5H1647M241 1779.5H1647M241 1782.5H1647M241 1786.5H1647M241 1790.5H1647M241 1794.5H1647M241 1797.5H1647M241 1801.5H1647M241 1805.5H1647M241 1808.5H1647M241 1812.5H1647M241 1816.5H1647M241 1820.5H1647M241 1823.5H1647M241 1827.5H1647M241 1831.5H1647M241 1834.5H1647M241 1838.5H1647M241 1842.5H1647M241 1846.5H1647M241 1849.5H1647M241 1853.5H1647M241 1857.5H1647M241 1860.5H1647M241 1864.5H1647M241 1868.5H1647M241 1871.5H1647M241 1875.5H1647M241 1879.5H1647M241 1883.5H1647M241 1886.5H1647M241 1890.5H1647M241 1894.5H1647M241 1897.5H1647M241 1901.5H1647M241 1905.5H1647M241 1909.5H1647M241 1912.5H1647M241 1916.5H1647M241 1920.5H1647M241 1923.5H1647M241 1927.5H1647M241 1931.5H1647M241 1935.5H1647M241 1938.5H1647M241 1942.5H1647M241 1946.5H1647M241 1949.5H1647M241 1953.5H1647M241 1957.5H1647M241 1961.5H1647M241 1964.5H1647M241 1968.5H1647M241 1972.5H1647M241 1975.5H1647M241 1979.5H1647M241 1983.5H1647M241 1987.5H1647M241 1990.5H1647M241 1994.5H1647M241 1998.5H1647M241 2001.5H1647M241 2005.5H1647M241 2009.5H1647M241 2013.5H1647M241 2016.5H1647M241 2020.5H1647M241 2024.5H1647M241 2027.5H1647M241 2031.5H1647M241 2035.5H1647M241 2038.5H1647M241 2042.5H1647M241 2046.5H1647M241 2050.5H1647M241 2053.5H1647M241 2057.5H1647M241 2061.5H1647M241 2064.5H1647M241 2068.5H1647M241 2072.5H1647M241 2076.5H1647M241 2079.5H1647M241 2083.5H1647M241 2087.5H1647M241 2090.5H1647M241 2094.5H1647M241 2098.5H1647M241 2102.5H1647M241 2105.5H1647M241 2109.5H1647M241 2113.5H1647M241 2116.5H1647M241 2120.5H1647M241 2124.5H1647M241 2128.5H1647M241 2131.5H1647M241 2135.5H1647M241 2139.5H1647M241 2142.5H1647M241 2146.5H1647M241 2150.5H1647M241 2154.5H1647M241 2157.5H1647M241 2161.5H1647M241 2165.5H1647M241 2168.5H1647M241 2172.5H1647M241 2176.5H1647M241 2180.5H1647M241 2183.5H1647M241 2187.5H1647M241 2191.5H1647M241 2194.5H1647M241 2198.5H1647M241 2202.5H1647M241 2206.5H1647M241 2209.5H1647M241 2213.5H1647M241 2217.5H1647M241 2220.5H1647M241 2224.5H1647M241 2228.5H1647M241 2231.5H1647M241 2235.5H1647M241 2239.5H1647M241 2243.5H1647M241 2246.5H1647M241 2250.5H1647M241 2254.5H1647M241 2257.5H1647M241 2261.5H1647M241 2265.5H1647M241 2269.5H1647M241 2272.5H1647M241 2276.5H1647M241 2280.5H1647M241 2283.5H1647M241 2287.5H1647M241 2291.5H1647M241 2295.5H1647M241 2298.5H1647M241 2302.5H1647M241 2306.5H1647M241 2309.5H1647M241 2313.5H1647M241 2317.5H1647M241 2321.5H1647M241 2324.5H1647M241 2328.5H1647M241 2332.5H1647M241 2335.5H1647M241 2339.5H1647M241 2343.5H1647M241 2347.5H1647M241 2350.5H1647M241 2354.5H1647M241 2358.5H1647M241 2361.5H1647M241 2365.5H1647M241 2369.5H1647M241 2373.5H1647M241 2376.5H1647M241 2380.5H1647M241 2384.5H1647M241 2387.5H1647M241 2391.5H1647M241 2395.5H1647M241 2398.5H1647M241 2402.5H1647M241 2406.5H1647M241 2410.5H1647M241 2413.5H1647M241 2417.5H1647M241 2421.5H1647M241 2424.5H1647M241 2428.5H1647M241 2432.5H1647M241 2436.5H1647M241 2439.5H1647M241 2443.5H1647M241 2447.5H1647M241 2450.5H1647M241 2454.5H1647M241 2458.5H1647M241 2462.5H1647M241 2465.5H1647M241 2469.5H1647M241 2473.5H1647M241 2476.5H1647M241 2480.5H1647M241 2484.5H1647M241 2488.5H1647M241 2491.5H1647M241 2495.5H1647M241 2499.5H1647M241 2502.5H1647M241 2506.5H1647M241 2510.5H1647M241 2514.5H1647M241 2517.5H1647M241 2521.5H1647M241 2525.5H1647M241 2528.5H1647M241 2532.5H1647M241 2536.5H1647M241 2540.5H1647M241 2543.5H1647M241 2547.5H1647M241 2551.5H1647M241 2554.5H1647M241 2558.5H1647M241 2562.5H1647M241 2565.5H1647M241 2569.5H1647M241 2573.5H1647M241 2577.5H1647M241 2580.5H1647M241 2584.5H1647M241 2588.5H1647M241 2591.5H1647M241 2595.5H1647M241 2599.5H1647M241 2603.5H1647M241 2606.5H1647M241 2610.5H1647M241 2614.5H1647M241 2617.5H1647M241 2621.5H1647M241 2625.5H1647M241 2629.5H1647M241 2632.5H1647M241 2636.5H1647M241 2640.5H1647M241 2643.5H1647M241 2647.5H1647M241 2651.5H1647M241 2655.5H1647M241 2658.5H1647M241 2662.5H1647M241 2666.5H1647M241 2669.5H1647M241 2673.5H1647M241 2677.5H1647M241 2681.5H1647M241 2684.5H1647M241 2688.5H1647M241 2692.5H1647M241 2695.5H1647M241 2699.5H1647M241 2703.5H1647M241 2707.5H1647M241 2710.5H1647M241 2714.5H1647M241 2718.5H1647M241 2721.5H1647M241 2725.5H1647M241 2729.5H1647M241 2733.5H1647M241 2736.5H1647M241 2740.5H1647M241 2744.5H1647M241 2747.5H1647M241 2751.5H1647M241 2755.5H1647M241 2758.5H1647M241 2762.5H1647M241 2766.5H1647M241 2770.5H1647M241 2773.5H1647M241 2777.5H1647M241 2781.5H1647M241 2784.5H1647M241 2788.5H1647M241 2792.5H1647M241 2796.5H1647M241 2799.5H1647M241 2803.5H1647M241 2807.5H1647M241 2810.5H1647M241 2814.5H1647M241 2818.5H1647M241 2822.5H1647M241 2825.5H1647M241 2829.5H1647M241 2833.5H1647M241 2836.5H1647M241 2840.5H1647M241 2844.5H1647M241 2848.5H1647M241 2851.5H1647M241 2855.5H1647M241 2859.5H1647M241 2862.5H1647M241 2866.5H1647M241 2870.5H1647M241 2874.5H1647M241 2877.5H1647M241 2881.5H1647M241 2885.5H1647M241 2888.5H1647M241 2892.5H1647M241 2896.5H1647M241 2900.5H1647M241 2903.5H1647M241 2907.5H1647M241 2911.5H1647M241 2914.5H1647M241 2918.5H1647M241 2922.5H1647M241 2925.5H1647M241 2929.5H1647M241 2933.5H1647M241 2937.5H1647M241 2940.5H1647M241 2944.5H1647M241 2948.5H1647M241 2951.5H1647M241 2955.5H1647M241 2959.5H1647M241 2963.5H1647M241 2966.5H1647M241 2970.5H1647M241 2974.5H1647M241 2977.5H1647M241 2981.5H1647M241 2985.5H1647M241 2989.5H1647M241 2992.5H1647" stroke="rgb(0,124,0)"/><path d="M241 1774.5H1647M241 1778.5H1647M241 1781.5H1647M241 1785.5H1647M241 1789.5H1647M241 1793.5H1647M241 1796.5H1647M241 1800.5H1647M241 1804.5H1647M241 1807.5H1647M241 1811.5H1647M241 1815.5H1647M241 1819.5H1647M241 1822.5H1647M241 1826.5H1647M241 1830.5H1647M241 1833.5H1647M241 1837.5H1647M241 1841.5H1647M241 1845.5H1647M241 1848.5H1647M241 1852.5H1647M241 1856.5H1647M241 1859.5H1647M241 1863.5H1647M241 1867.5H1647M241 1870.5H1647M241 1874.5H1647M241 1878.5H1647M241 1882.5H1647M241 1885.5H1647M241 1889.5H1647M241 1893.5H1647M241 1896.5H1647M241 1900.5H1647M241 1904.5H1647M241 1908.5H1647M241 1911.5H1647M241 1915.5H1647M241 1919.5H1647M241 1922.5H1647M241 1926.5H1647M241 1930.5H1647M241 1934.5H1647M241 1937.5H1647M241 1941.5H1647M241 1945.5H1647M241 1948.5H1647M241 1952.5H1647M241 1956.5H1647M241 1960.5H1647M241 1963.5H1647M241 1967.5H1647M241 1971.5H1647M241 1974.5H1647M241 1978.5H1647M241 1982.5H1647M241 1986.5H1647M241 1989.5H1647M241 1993.5H1647M241 1997.5H1647M241 2000.5H1647M241 2004.5H1647M241 2008.5H1647M241 2012.5H1647M241 2015.5H1647M241 2019.5H1647M241 2023.5H1647M241 2026.5H1647M241 2030.5H1647M241 2034.5H1647M241 2037.5H1647M241 2041.5H1647M241 2045.5H1647M241 2049.5H1647M241 2052.5H1647M241 2056.5H1647M241 2060.5H1647M241 2063.5H1647M241 2067.5H1647M241 2071.5H1647M241 2075.5H1647M241 2078.5H1647M241 2082.5H1647M241 2086.5H1647M241 2089.5H1647M241 2093.5H1647M241 2097.5H1647M241 2101.5H1647M241 2104.5H1647M241 2108.5H1647M241 2112.5H1647M241 2115.5H1647M241 2119.5H1647M241 2123.5H1647M241 2127.5H1647M241 2130.5H1647M241 2134.5H1647M241 2138.5H1647M241 2141.5H1647M241 2145.5H1647M241 2149.5H1647M241 2153.5H1647M241 2156.5H1647M241 2160.5H1647M241 2164.5H1647M241 2167.5H1647M241 2171.5H1647M241 2175.5H1647M241 2179.5H1647M241 2182.5H1647M241 2186.5H1647M241 2190.5H1647M241 2193.5H1647M241 2197.5H1647M241 2201.5H1647M241 2205.5H1647M241 2208.5H1647M241 2212.5H1647M241 2216.5H1647M241 2219.5H1647M241 2223.5H1647M241 2227.5H1647M241 2230.5H1647M241 2234.5H1647M241 2238.5H1647M241 2242.5H1647M241 2245.5H1647M241 2249.5H1647M241 2253.5H1647M241 2256.5H1647M241 2260.5H1647M241 2264.5H1647M241 2268.5H1647M241 2271.5H1647M241 2275.5H1647M241 2279.5H1647M241 2282.5H1647M241 2286.5H1647M241 2290.5H1647M241 2294.5H1647M241 2297.5H1647M241 2301.5H1647M241 2305.5H1647M241 2308.5H1647M241 2312.5H1647M241 2316.5H1647M241 2320.5H1647M241 2323.5H1647M241 2327.5H1647M241 2331.5H1647M241 2334.5H1647M241 2338.5H1647M241 2342.5H1647M241 2346.5H1647M241 2349.5H1647M241 2353.5H1647M241 2357.5H1647M241 2360.5H1647M241 2364.5H1647M241 2368.5H1647M241 2372.5H1647M241 2375.5H1647M241 2379.5H1647M241 2383.5H1647M241 2386.5H1647M241 2390.5H1647M241 2394.5H1647M241 2397.5H1647M241 2401.5H1647M241 2405.5H1647M241 2409.5H1647M241 2412.5H1647M241 2416.5H1647M241 2420.5H1647M241 2423.5H1647M241 2427.5H1647M241 2431.5H1647M241 2435.5H1647M241 2438.5H1647M241 2442.5H1647M241 2446.5H1647M241 2449.5H1647M241 2453.5H1647M241 2457.5H1647M241 2461.5H1647M241 2464.5H1647M241 2468.5H1647M241 2472.5H1647M241 2475.5H1647M241 2479.5H1647M241 2483.5H1647M241 2487.5H1647M241 2490.5H1647M241 2494.5H1647M241 2498.5H1647M241 2501.5H1647M241 2505.5H1647M241 2509.5H1647M241 2513.5H1647M241 2516.5H1647M241 2520.5H1647M241 2524.5H1647M241 2527.5H1647M241 2531.5H1647M241 2535.5H1647M241 2539.5H1647M241 2542.5H1647M241 2546.5H1647M241 2550.5H1647M241 2553.5H1647M241 2557.5H1647M241 2561.5H1647M241 2564.5H1647M241 2568.5H1647M241 2572.5H1647M241 2576.5H1647M241 2579.5H1647M241 2583.5H1647M241 2587.5H1647M241 2590.5H1647M241 2594.5H1647M241 2598.5H1647M241 2602.5H1647M241 2605.5H1647M241 2609.5H1647M241 2613.5H1647M241 2616.5H1647M241 2620.5H1647M241 2624.5H1647M241 2628.5H1647M241 2631.5H1647M241 2635.5H1647M241 2639.5H1647M241 2642.5H1647M241 2646.5H1647M241 2650.5H1647M241 2654.5H1647M241 2657.5H1647M241 2661.5H1647M241 2665.5H1647M241 2668.5H1647M241 2672.5H1647M241 2676.5H1647M241 2680.5H1647M241 2683.5H1647M241 2687.5H1647M241 2691.5H1647M241 2694.5H1647M241 2698.5H1647M241 2702.5H1647M241 2706.5H1647M241 2709.5H1647M241 2713.5H1647M241 2717.5H1647M241 2720.5H1647M241 2724.5H1647M241 2728.5H1647M241 2732.5H1647M241 2735.5H1647M241 2739.5H1647M241 2743.5H1647M241 2746.5H1647M241 2750.5H1647M241 2754.5H1647M241 2757.5H1647M241 2761.5H1647M241 2765.5H1647M241 2769.5H1647M241 2772.5H1647M241 2776.5H1647M241 2780.5H1647M241 2783.5H1647M241 2787.5H1647M241 2791.5H1647M241 2795.5H1647M241 2798.5H1647M241 2802.5H1647M241 2806.5H1647M241 2809.5H1647M241 2813.5H1647M241 2817.5H1647M241 2821.5H1647M241 2824.5H1647M241 2828.5H1647M241 2832.5H1647M241 2835.5H1647M241 2839.5H1647M241 2843.5H1647M241 2847.5H1647M241 2850.5H1647M241 2854.5H1647M241 2858.5H1647M241 2861.5H1647M241 2865.5H1647M241 2869.5H1647M241 2873.5H1647M241 2876.5H1647M241 2880.5H1647M241 2884.5H1647M241 2887.5H1647M241 2891.5H1647M241 2895.5H1647M241 2899.5H1647M241 2902.5H1647M241 2906.5H1647M241 2910.5H1647M241 2913.5H1647M241 2917.5H1647M241 2921.5H1647M241 2924.5H1647M241 2928.5H1647M241 2932.5H1647M241 2936.5H1647M241 2939.5H1647M241 2943.5H1647M241 2947.5H1647M241 2950.5H1647M241 2954.5H1647M241 2958.5H1647M241 2962.5H1647M241 2965.5H1647M241 2969.5H1647M241 2973.5H1647M241 2976.5H1647M241 2980.5H1647M241 2984.5H1647M241 2988.5H1647M241 2991.5H1647" stroke="rgb(0,128,0)"/><path d="M241 1773.5H1647M241 1777.5H1647M241 1780.5H1647M241 1784.5H1647M241 1788.5H1647M241 1792.5H1647M241 1795.5H1647M241 1799.5H1647M241 1803.5H1647M241 1806.5H1647M241 1810.5H1647M241 1814.5H1647M241 1818.5H1647M241 1821.5H1647M241 1825.5H1647M241 1829.5H1647M241 1832.5H1647M241 1836.5H1647M241 1840.5H1647M241 1844.5H1647M241 1847.5H1647M241 1851.5H1647M241 1855.5H1647M241 1858.5H1647M241 1862.5H1647M241 1866.5H1647M241 1869.5H1647M241 1873.5H1647M241 1877.5H1647M241 1881.5H1647M241 1884.5H1647M241 1888.5H1647M241 1892.5H1647M241 1895.5H1647M241 1899.5H1647M241 1903.5H1647M241 1907.5H1647M241 1910.5H1647M241 1914.5H1647M241 1918.5H1647M241 1921.5H1647M241 1925.5H1647M241 1929.5H1647M241 1933.5H1647M241 1936.5H1647M241 1940.5H1647M241 1944.5H1647M241 1947.5H1647M241 1951.5H1647M241 1955.5H1647M241 1959.5H1647M241 1962.5H1647M241 1966.5H1647M241 1970.5H1647M241 1973.5H1647M241 1977.5H1647M241 1981.5H1647M241 1985.5H1647M241 1988.5H1647M241 1992.5H1647M241 1996.5H1647M241 1999.5H1647M241 2003.5H1647M241 2007.5H1647M241 2011.5H1647M241 2014.5H1647M241 2018.5H1647M241 2022.5H1647M241 2025.5H1647M241 2029.5H1647M241 2033.5H1647M241 2036.5H1647M241 2040.5H1647M241 2044.5H1647M241 2048.5H1647M241 2051.5H1647M241 2055.5H1647M241 2059.5H1647M241 2062.5H1647M241 2066.5H1647M241 2070.5H1647M241 2074.5H1647M241 2077.5H1647M241 2081.5H1647M241 2085.5H1647M241 2088.5H1647M241 2092.5H1647M241 2096.5H1647M241 2100.5H1647M241 2103.5H1647M241 2107.5H1647M241 2111.5H1647M241 2114.5H1647M241 2118.5H1647M241 2122.5H1647M241 2126.5H1647M241 2129.5H1647M241 2133.5H1647M241 2137.5H1647M241 2140.5H1647M241 2144.5H1647M241 2148.5H1647M241 2152.5H1647M241 2155.5H1647M241 2159.5H1647M241 2163.5H1647M241 2166.5H1647M241 2170.5H1647M241 2174.5H1647M241 2178.5H1647M241 2181.5H1647M241 2185.5H1647M241 2189.5H1647M241 2192.5H1647M241 2196.5H1647M241 2200.5H1647M241 2204.5H1647M241 2207.5H1647M241 2211.5H1647M241 2215.5H1647M241 2218.5H1647M241 2222.5H1647M241 2226.5H1647M241 2229.5H1647M241 2233.5H1647M241 2237.5H1647M241 2241.5H1647M241 2244.5H1647M241 2248.5H1647M241 2252.5H1647M241 2255.5H1647M241 2259.5H1647M241 2263.5H1647M241 2267.5H1647M241 2270.5H1647M241 2274.5H1647M241 2278.5H1647M241 2281.5H1647M241 2285.5H1647M241 2289.5H1647M241 2293.5H1647M241 2296.5H1647M241 2300.5H1647M241 2304.5H1647M241 2307.5H1647M241 2311.5H1647M241 2315.5H1647M241 2319.5H1647M241 2322.5H1647M241 2326.5H1647M241 2330.5H1647M241 2333.5H1647M241 2337.5H1647M241 2341.5H1647M241 2345.5H1647M241 2348.5H1647M241 2352.5H1647M241 2356.5H1647M241 2359.5H1647M241 2363.5H1647M241 2367.5H1647M241 2371.5H1647M241 2374.5H1647M241 2378.5H1647M241 2382.5H1647M241 2385.5H1647M241 2389.5H1647M241 2393.5H1647M241 2396.5H1647M241 2400.5H1647M241 2404.5H1647M241 2408.5H1647M241 2411.5H1647M241 2415.5H1647M241 2419.5H1647M241 2422.5H1647M241 2426.5H1647M241 2430.5H1647M241 2434.5H1647M241 2437.5H1647M241 2441.5H1647M241 2445.5H1647M241 2448.5H1647M241 2452.5H1647M241 2456.5H1647M241 2460.5H1647M241 2463.5H1647M241 2467.5H1647M241 2471.5H1647M241 2474.5H1647M241 2478.5H1647M241 2482.5H1647M241 2486.5H1647M241 2489.5H1647M241 2493.5H1647M241 2497.5H1647M241 2500.5H1647M241 2504.5H1647M241 2508.5H1647M241 2512.5H1647M241 2515.5H1647M241 2519.5H1647M241 2523.5H1647M241 2526.5H1647M241 2530.5H1647M241 2534.5H1647M241 2538.5H1647M241 2541.5H1647M241 2545.5H1647M241 2549.5H1647M241 2552.5H1647M241 2556.5H1647M241 2560.5H1647M241 2563.5H1647M241 2567.5H1647M241 2571.5H1647M241 2575.5H1647M241 2578.5H1647M241 2582.5H1647M241 2586.5H1647M241 2589.5H1647M241 2593.5H1647M241 2597.5H1647M241 2601.5H1647M241 2604.5H1647M241 2608.5H1647M241 2612.5H1647M241 2615.5H1647M241 2619.5H1647M241 2623.5H1647M241 2627.5H1647M241 2630.5H1647M241 2634.5H1647M241 2638.5H1647M241 2641.5H1647M241 2645.5H1647M241 2649.5H1647M241 2653.5H1647M241 2656.5H1647M241 2660.5H1647M241 2664.5H1647M241 2667.5H1647M241 2671.5H1647M241 2675.5H1647M241 2679.5H1647M241 2682.5H1647M241 2686.5H1647M241 2690.5H1647M241 2693.5H1647M241 2697.5H1647M241 2701.5H1647M241 2705.5H1647M241 2708.5H1647M241 2712.5H1647M241 2716.5H1647M241 2719.5H1647M241 2723.5H1647M241 2727.5H1647M241 2731.5H1647M241 2734.5H1647M241 2738.5H1647M241 2742.5H1647M241 2745.5H1647M241 2749.5H1647M241 2753.5H1647M241 2756.5H1647M241 2760.5H1647M241 2764.5H1647M241 2768.5H1647M241 2771.5H1647M241 2775.5H1647M241 2779.5H1647M241 2782.5H1647M241 2786.5H1647M241 2790.5H1647M241 2794.5H1647M241 2797.5H1647M241 2801.5H1647M241 2805.5H1647M241 2808.5H1647M241 2812.5H1647M241 2816.5H1647M241 2820.5H1647M241 2823.5H1647M241 2827.5H1647M241 2831.5H1647M241 2834.5H1647M241 2838.5H1647M241 2842.5H1647M241 2846.5H1647M241 2849.5H1647M241 2853.5H1647M241 2857.5H1647M241 2860.5H1647M241 2864.5H1647M241 2868.5H1647M241 2872.5H1647M241 2875.5H1647M241 2879.5H1647M241 2883.5H1647M241 2886.5H1647M241 2890.5H1647M241 2894.5H1647M241 2898.5H1647M241 2901.5H1647M241 2905.5H1647M241 2909.5H1647M241 2912.5H1647M241 2916.5H1647M241 2920.5H1647M241 2923.5H1647M241 2927.5H1647M241 2931.5H1647M241 2935.5H1647M241 2938.5H1647M241 2942.5H1647M241 2946.5H1647M241 2949.5H1647M241 2953.5H1647M241 2957.5H1647M241 2961.5H1647M241 2964.5H1647M241 2968.5H1647M241 2972.5H1647M241 2975.5H1647M241 2979.5H1647M241 2983.5H1647M241 2987.5H1647M241 2990.5H1647" stroke="rgb(0,132,0)"/></g>
</g>
<g>
<rect x="241" y="2320.9" width="24.5" height="4.1" fill="#febd3d"/>
<rect x="265" y="2320.9" width="30.5" height="4.1" fill="#febd3d"/>
<rect x="295" y="2320.9" width="26.5" height="4.1" fill="#febd3d"/>
<rect x="321" y="2320.9" width="25.5" height="4.1" fill="#febd3d"/>
<rect x="346" y="2320.9" width="30.5" height="4.1" fill="#febd3d"/>
<rect x="376" y="2320.9" width="25.5" height="4.1" fill="#febd3d"/>
<rect x="401" y="2320.9" width="30.5" height="4.1" fill="#febd3d"/>
<rect x="431" y="2320.9" width="26.5" height="4.1" fill="#febd3d"/>
<rect x="457" y="2320.9" width="25.5" height="4.1" fill="#febd3d"/>
<rect x="482" y="2320.9" width="30.5" height="4.1" fill="#febd3d"/>
<rect x="512" y="2320.9" width="25.5" height="4.1" fill="#c1c32c"/>
<rect x="537" y="2320.9" width="26.5" height="4.1" fill="#9fc942"/>
<rect x="563" y="2320.9" width="30.5" height="4.1" fill="#c1c32c"/>
<rect x="593" y="2320.9" width="25.5" height="4.1" fill="#fec437"/>
<rect x="618" y="2320.9" width="30.5" height="4.1" fill="#fec437"/>
<rect x="648" y="2320.9" width="25.5" height="4.1" fill="#fec437"/>
<rect x="673" y="2320.9" width="26.5" height="4.1" fill="#fec437"/>
<rect x="699" y="2320.9" width="30.5" height="4.1" fill="#fec437"/>
<rect x="729" y="2320.9" width="25.5" height="4.1" fill="#fec437"/>
<rect x="754" y="2320.9" width="26.5" height="4.1" fill="#fec437"/>
<rect x="780" y="2320.9" width="29.5" height="4.1" fill="#fec437"/>
<rect x="809" y="2320.9" width="26.5" height="4.1" fill="#fec437"/>
<rect x="835" y="2320.9" width="30.5" height="4.1" fill="#f9fb15"/>
<rect x="865" y="2320.9" width="25.5" height="4.1" fill="#f9fb15"/>
<rect x="890" y="2320.9" width="26.5" height="4.1" fill="#f9fb15"/>
<rect x="916" y="2320.9" width="29.5" height="4.1" fill="#f9fb15"/>
<rect x="945" y="2320.9" width="26.5" height="4.1" fill="#f9fb15"/>
<rect x="971" y="2320.9" width="25.5" height="4.1" fill="#f9fb15"/>
<rect x="996" y="2320.9" width="30.5" height="4.1" fill="#f9fb15"/>
<rect x="1026" y="2320.9" width="26.5" height="4.1" fill="#f9fb15"/>
<rect x="1052" y="2320.9" width="29.5" height="4.1" fill="#f9fb15"/>
<rect x="1081" y="2320.9" width="26.5" height="4.1" fill="#f9fb15"/>
<rect x="1107" y="2320.9" width="25.5" height="4.1" fill="#f9fb15"/>
<rect x="1132" y="2320.9" width="30.5" height="4.1" fill="#f9fb15"/>
<rect x="1162" y="2320.9" width="26.5" height="4.1" fill="#f9fb15"/>
<rect x="1188" y="2320.9" width="25.5" height="4.1" fill="#f9fb15"/>
<rect x="1213" y="2320.9" width="30.5" height="4.1" fill="#f9fb15"/>
<rect x="1243" y="2320.9" width="25.5" height="4.1" fill="#f9fb15"/>
<rect x="1268" y="2320.9" width="30.5" height="4.1" fill="#f9fb15"/>
<rect x="1298" y="2320.9" width="26.5" height="4.1" fill="#f9fb15"/>
<rect x="1324" y="2320.9" width="25.5" height="4.1" fill="#f9fb15"/>
<rect x="1349" y="2320.9" width="30.5" height="4.1" fill="#f9fb15"/>
<rect x="1379" y="2320.9" width="25.5" height="4.1" fill="#f9fb15"/>
<rect x="1404" y="2320.9" width="26.5" height="4.1" fill="#f9fb15"/>
<rect x="1430" y="2320.9" width="30.5" height="4.1" fill="#f9fb15"/>
<rect x="1460" y="2320.9" width="25.5" height="4.1" fill="#f9fb15"/>
<rect x="1485" y="2320.9" width="30.5" height="4.1" fill="#f9fb15"/>
<rect x="1515" y="2320.9" width="25.5" height="4.1" fill="#f9fb15"/>
<rect x="1540" y="2320.9" width="26.5" height="4.1" fill="#f9fb15"/>
<rect x="1566" y="2320.9" width="30.5" height="4.1" fill="#fec835"/>
<rect x="1596" y="2320.9" width="25.5" height="4.1" fill="#fec835"/>
<rect x="1621" y="2320.9" width="26" height="4.1" fill="#eaba30"/>
</g>
<rect x="241.7" y="1774.5" width="1403.6" height="1218.5" fill="none" stroke="#262626" stroke-width="3.7"/>
<path d="M495.0 2993v-12.5M495.0 1774.5v12.5M767.0 2993v-12.5M767.0 1774.5v12.5M1038.7 2993v-12.5M1038.7 1774.5v12.5M1306.8 2993v-12.5M1306.8 1774.5v12.5M1579.0 2993v-12.5M1579.0 1774.5v12.5M241.7 2834.8h12.5M1645.3 2834.8h-12.5M241.7 2674.0h12.5M1645.3 2674.0h-12.5M241.7 2513.3h12.5M1645.3 2513.3h-12.5M241.7 2352.5h12.5M1645.3 2352.5h-12.5M241.7 2191.7h12.5M1645.3 2191.7h-12.5M241.7 2032.3h12.5M1645.3 2032.3h-12.5M241.7 1870.2h12.5M1645.3 1870.2h-12.5" stroke="#262626" stroke-width="3.7" fill="none"/>
<rect x="1689.4" y="1778.1" width="73.59999999999991" height="1211.1" fill="url(#cb)" stroke="#262626" stroke-width="3.7"/>
<path d="M1763 2779.3h-11.5M1763 2554.6h-11.5M1763 2333.9h-11.5M1763 2109.7h-11.5M1763 1888.5h-11.5" stroke="#262626" stroke-width="3.7" fill="none"/>
<text x="943.9" y="1742" font-size="68.5" font-weight="normal" text-anchor="middle" letter-spacing="0.3" stroke="#262626" stroke-width="0.7">NLOS condition amplitude</text>
<text x="216.3" y="2862.9" font-size="67.5" font-weight="bold" text-anchor="end" letter-spacing="1.5" stroke="#fff" stroke-width="0.6">50</text>
<text x="220" y="2700.7000000000003" font-size="67.5" font-weight="bold" text-anchor="end" letter-spacing="1.5" stroke="#fff" stroke-width="0.6">100</text>
<text x="220" y="2538.6000000000004" font-size="67.5" font-weight="bold" text-anchor="end" letter-spacing="1.5" stroke="#fff" stroke-width="0.6">150</text>
<text x="220" y="2380.4" font-size="67.5" font-weight="bold" text-anchor="end" letter-spacing="1.5" stroke="#fff" stroke-width="0.6">200</text>
<text x="220" y="2217.3" font-size="67.5" font-weight="bold" text-anchor="end" letter-spacing="1.5" stroke="#fff" stroke-width="0.6">250</text>
<text x="220" y="2056.3" font-size="67.5" font-weight="bold" text-anchor="end" letter-spacing="1.5" stroke="#fff" stroke-width="0.6">300</text>
<text x="220" y="1898.0" font-size="67.5" font-weight="bold" text-anchor="end" letter-spacing="1.5" stroke="#fff" stroke-width="0.6">350</text>
<text x="500.2" y="3083.4" font-size="67.5" font-weight="bold" text-anchor="middle" letter-spacing="1.5" stroke="#fff" stroke-width="0.6">10</text>
<text x="771.5" y="3083.4" font-size="67.5" font-weight="bold" text-anchor="middle" letter-spacing="1.5" stroke="#fff" stroke-width="0.6">20</text>
<text x="1038.2" y="3083.4" font-size="67.5" font-weight="bold" text-anchor="middle" letter-spacing="1.5" stroke="#fff" stroke-width="0.6">30</text>
<text x="1310.5" y="3083.4" font-size="67.5" font-weight="bold" text-anchor="middle" letter-spacing="1.5" stroke="#fff" stroke-width="0.6">40</text>
<text x="1582.9" y="3083.4" font-size="67.5" font-weight="bold" text-anchor="middle" letter-spacing="1.5" stroke="#fff" stroke-width="0.6">50</text>
<text transform="translate(1786.5 2798.6) scale(1.06 1)" font-size="58" font-weight="bold" stroke="#fff" stroke-width="0.6">0.02</text>
<text transform="translate(1786.5 2577.2) scale(1.06 1)" font-size="58" font-weight="bold" stroke="#fff" stroke-width="0.6">0.04</text>
<text transform="translate(1786.5 2353.2) scale(1.06 1)" font-size="58" font-weight="bold" stroke="#fff" stroke-width="0.6">0.06</text>
<text transform="translate(1786.5 2132.0) scale(1.06 1)" font-size="58" font-weight="bold" stroke="#fff" stroke-width="0.6">0.08</text>
<text transform="translate(1786.5 1907.5) scale(1.1 1)" font-size="58" font-weight="bold" stroke="#fff" stroke-width="0.6">0.1</text>
<text x="944.8" y="3174.2" font-size="75.2" font-weight="bold" text-anchor="middle" letter-spacing="0.3">Index of subcarriers</text>
<text transform="translate(82 2382.8) rotate(-90)" font-size="74.6" font-weight="bold" text-anchor="middle" letter-spacing="0.2">Time(milliseconds)</text>
<text class="cap" x="970" y="3284.6" font-size="86.3" font-weight="normal">(<tspan font-size="92" font-weight="bold" dx="-1" dy="0.6">b</tspan><tspan dx="-0.3" dy="-0.6">)</tspan></text>
</svg>
</body></html>
